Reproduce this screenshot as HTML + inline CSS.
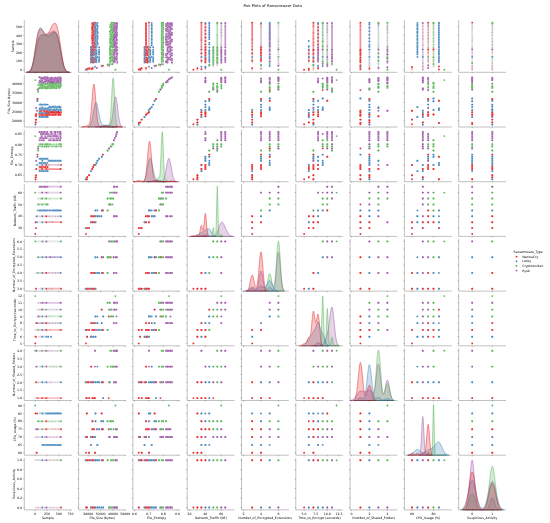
<!DOCTYPE html><html><head><meta charset="utf-8"><title>Pair Plots of Ransomware Data</title><style>html,body{margin:0;padding:0;background:#fff}svg{display:block}</style></head><body><svg width="550" height="523" viewBox="0 0 550 523"><defs><marker id="q00" markerUnits="userSpaceOnUse" overflow="visible"><circle r="0.949" fill="#e41a1c" stroke="#fff" stroke-width="0.15"/></marker><marker id="q01" markerUnits="userSpaceOnUse" overflow="visible"><circle r="0.984" fill="#e41a1c" stroke="#fff" stroke-width="0.22"/></marker><marker id="q02" markerUnits="userSpaceOnUse" overflow="visible"><circle r="1.024" fill="#e41a1c" stroke="#fff" stroke-width="0.3"/></marker><marker id="q03" markerUnits="userSpaceOnUse" overflow="visible"><circle r="1.064" fill="#e41a1c" stroke="#fff" stroke-width="0.38"/></marker><marker id="q04" markerUnits="userSpaceOnUse" overflow="visible"><circle r="1.104" fill="#e41a1c" stroke="#fff" stroke-width="0.46"/></marker><marker id="q05" markerUnits="userSpaceOnUse" overflow="visible"><circle r="0.95" fill="#e41a1c" stroke="#fff" stroke-width="0.152"/><circle r="0.95" fill="#e41a1c" stroke="#fff" stroke-width="0.152"/></marker><marker id="q10" markerUnits="userSpaceOnUse" overflow="visible"><circle r="0.949" fill="#377eb8" stroke="#fff" stroke-width="0.15"/></marker><marker id="q11" markerUnits="userSpaceOnUse" overflow="visible"><circle r="0.984" fill="#377eb8" stroke="#fff" stroke-width="0.22"/></marker><marker id="q12" markerUnits="userSpaceOnUse" overflow="visible"><circle r="1.024" fill="#377eb8" stroke="#fff" stroke-width="0.3"/></marker><marker id="q13" markerUnits="userSpaceOnUse" overflow="visible"><circle r="1.064" fill="#377eb8" stroke="#fff" stroke-width="0.38"/></marker><marker id="q14" markerUnits="userSpaceOnUse" overflow="visible"><circle r="1.104" fill="#377eb8" stroke="#fff" stroke-width="0.46"/></marker><marker id="q15" markerUnits="userSpaceOnUse" overflow="visible"><circle r="0.95" fill="#377eb8" stroke="#fff" stroke-width="0.152"/><circle r="0.95" fill="#377eb8" stroke="#fff" stroke-width="0.152"/></marker><marker id="q20" markerUnits="userSpaceOnUse" overflow="visible"><circle r="0.949" fill="#4daf4a" stroke="#fff" stroke-width="0.15"/></marker><marker id="q21" markerUnits="userSpaceOnUse" overflow="visible"><circle r="0.984" fill="#4daf4a" stroke="#fff" stroke-width="0.22"/></marker><marker id="q22" markerUnits="userSpaceOnUse" overflow="visible"><circle r="1.024" fill="#4daf4a" stroke="#fff" stroke-width="0.3"/></marker><marker id="q23" markerUnits="userSpaceOnUse" overflow="visible"><circle r="1.064" fill="#4daf4a" stroke="#fff" stroke-width="0.38"/></marker><marker id="q24" markerUnits="userSpaceOnUse" overflow="visible"><circle r="1.104" fill="#4daf4a" stroke="#fff" stroke-width="0.46"/></marker><marker id="q25" markerUnits="userSpaceOnUse" overflow="visible"><circle r="0.95" fill="#4daf4a" stroke="#fff" stroke-width="0.152"/><circle r="0.95" fill="#4daf4a" stroke="#fff" stroke-width="0.152"/></marker><marker id="q30" markerUnits="userSpaceOnUse" overflow="visible"><circle r="0.949" fill="#984ea3" stroke="#fff" stroke-width="0.15"/></marker><marker id="q31" markerUnits="userSpaceOnUse" overflow="visible"><circle r="0.984" fill="#984ea3" stroke="#fff" stroke-width="0.22"/></marker><marker id="q32" markerUnits="userSpaceOnUse" overflow="visible"><circle r="1.024" fill="#984ea3" stroke="#fff" stroke-width="0.3"/></marker><marker id="q33" markerUnits="userSpaceOnUse" overflow="visible"><circle r="1.064" fill="#984ea3" stroke="#fff" stroke-width="0.38"/></marker><marker id="q34" markerUnits="userSpaceOnUse" overflow="visible"><circle r="1.104" fill="#984ea3" stroke="#fff" stroke-width="0.46"/></marker><marker id="q35" markerUnits="userSpaceOnUse" overflow="visible"><circle r="0.95" fill="#984ea3" stroke="#fff" stroke-width="0.152"/><circle r="0.95" fill="#984ea3" stroke="#fff" stroke-width="0.152"/></marker></defs><style>text{font-family:"DejaVu Sans","Liberation Sans",sans-serif;font-size:3.165px;fill:#000}
.ax{stroke:#000;stroke-width:0.253;fill:none}
.m00{marker:url(#q00)}
.m01{marker:url(#q01)}
.m02{marker:url(#q02)}
.m03{marker:url(#q03)}
.m04{marker:url(#q04)}
.m05{marker:url(#q05)}
.m10{marker:url(#q10)}
.m11{marker:url(#q11)}
.m12{marker:url(#q12)}
.m13{marker:url(#q13)}
.m14{marker:url(#q14)}
.m15{marker:url(#q15)}
.m20{marker:url(#q20)}
.m21{marker:url(#q21)}
.m22{marker:url(#q22)}
.m23{marker:url(#q23)}
.m24{marker:url(#q24)}
.m25{marker:url(#q25)}
.m30{marker:url(#q30)}
.m31{marker:url(#q31)}
.m32{marker:url(#q32)}
.m33{marker:url(#q33)}
.m34{marker:url(#q34)}
.m35{marker:url(#q35)}
.k0{fill:#e41a1c;fill-opacity:.25;stroke:#e41a1c;stroke-width:0.45}
.k1{fill:#377eb8;fill-opacity:.25;stroke:#377eb8;stroke-width:0.45}
.k2{fill:#4daf4a;fill-opacity:.25;stroke:#4daf4a;stroke-width:0.45}
.k3{fill:#984ea3;fill-opacity:.25;stroke:#984ea3;stroke-width:0.45}
.t{fill:none;stroke-width:1.75;stroke-linecap:round}
path[class^=m]{fill:none;stroke:none}</style><rect width="550" height="523" fill="#fff"/><path class="k3" d="M26.71 72.3 26.71 72.25 27.57 72.17 28.43 71.98 29.07 71.73 29.72 71.31 30.37 70.66 30.8 70.06 31.44 68.86 31.87 67.83 32.3 66.6 32.73 65.17 33.59 61.71 34.45 57.61 36.39 47.77 37.47 43.14 37.9 41.61 38.54 39.7 39.19 38.22 39.83 37.12 40.26 36.57 40.91 35.95 41.55 35.52 42.2 35.21 43.49 34.8 46.5 34.07 48.01 33.63 49.51 33.05 52.53 31.61 53.39 31.35 54.03 31.3 54.68 31.43 55.11 31.64 55.75 32.2 56.18 32.76 56.61 33.49 57.04 34.42 57.47 35.56 57.9 36.92 58.55 39.37 59.41 43.37 61.78 56.57 62.64 61.02 63.28 63.89 63.71 65.54 64.14 66.96 64.57 68.16 65 69.15 65.44 69.95 65.87 70.58 66.51 71.26 67.16 71.7 67.8 71.97 68.66 72.16 69.52 72.25 69.52 72.3Z"/><path class="k2" d="M26.71 72.3 26.71 72.25 28 72.1 28.64 71.93 29.29 71.63 29.93 71.16 30.58 70.44 31.01 69.78 31.66 68.46 32.09 67.34 32.52 66.02 32.95 64.48 33.81 60.81 34.45 57.63 36.39 47.38 37.47 42.45 38.11 40.07 38.54 38.76 39.19 37.21 39.83 36.11 40.26 35.6 40.69 35.24 41.12 35.01 41.77 34.83 42.2 34.8 42.84 34.84 45.21 35.21 46.5 35.31 47.58 35.28 48.65 35.08 49.3 34.86 50.16 34.44 52.31 33.02 52.96 32.64 53.6 32.38 54.25 32.3 54.68 32.38 54.89 32.47 55.32 32.75 55.75 33.18 56.18 33.8 56.61 34.6 57.04 35.6 57.47 36.82 57.9 38.25 58.55 40.79 59.41 44.83 61.56 56.53 62.42 60.88 63.07 63.71 63.5 65.34 63.93 66.77 64.36 67.98 64.79 68.99 65.22 69.81 65.65 70.46 66.3 71.18 66.94 71.64 67.59 71.93 68.23 72.11 69.52 72.25 69.52 72.3Z"/><path class="k1" d="M26.71 72.3 26.71 72.24 28 72.07 28.64 71.86 29.29 71.51 29.93 70.94 30.58 70.07 31.01 69.28 31.44 68.28 31.87 67.04 32.3 65.55 32.73 63.81 33.59 59.52 34.45 54.34 36.6 40.1 37.25 36.36 37.68 34.18 38.33 31.5 38.97 29.55 39.19 29.07 39.62 28.34 40.05 27.93 40.26 27.83 40.48 27.8 40.69 27.83 41.12 28.06 41.55 28.48 41.98 29.05 42.63 30.11 44.35 33.27 45 34.3 45.43 34.89 45.86 35.39 46.29 35.78 46.72 36.07 47.15 36.26 47.58 36.34 48.01 36.33 48.44 36.23 49.08 35.92 49.51 35.63 50.16 35.1 52.53 32.86 53.17 32.39 53.82 32.09 54.46 32.01 54.89 32.11 55.11 32.21 55.54 32.53 55.75 32.75 56.18 33.33 56.83 34.56 57.47 36.26 57.9 37.67 58.55 40.19 59.63 45.35 61.56 56.08 62.42 60.53 63.28 64.3 63.71 65.88 64.14 67.24 64.57 68.38 65.22 69.72 65.65 70.4 66.3 71.14 66.94 71.62 67.59 71.92 68.23 72.1 69.52 72.25 69.52 72.3Z"/><path class="k0" d="M26.71 72.3 26.71 72.24 28 72.06 28.64 71.84 29.29 71.48 29.93 70.9 30.58 70 31.01 69.19 31.66 67.57 32.09 66.2 32.52 64.57 32.95 62.68 33.81 58.18 34.45 54.28 36.17 43.16 37.25 37.04 37.9 34.11 38.33 32.52 38.76 31.24 39.19 30.27 39.62 29.59 40.05 29.19 40.48 29.04 40.69 29.04 41.12 29.2 41.55 29.53 41.98 29.98 42.63 30.82 44.13 32.96 45 33.92 45.64 34.37 46.07 34.51 46.5 34.52 46.93 34.38 47.36 34.11 47.79 33.71 48.22 33.18 48.87 32.19 49.73 30.57 51.67 26.54 52.31 25.33 52.74 24.63 53.39 23.79 53.82 23.4 54.25 23.16 54.68 23.1 55.11 23.23 55.54 23.58 55.97 24.16 56.4 24.98 56.83 26.06 57.26 27.41 57.9 29.96 58.55 33.11 59.41 38.13 61.78 54.09 62.64 59.32 63.5 63.65 63.93 65.42 64.36 66.93 64.79 68.18 65.22 69.2 65.65 70.01 66.3 70.9 66.94 71.48 67.59 71.85 68.23 72.06 69.52 72.24 69.52 72.3Z"/><path class="k3" d="M95.27 127 96.75 126.92 97.83 126.77 98.77 126.54 100.66 125.95 101.47 125.8 102.27 125.78 104.16 126.03 104.97 126.05 105.64 125.96 107.39 125.58 109.01 125.4 109.41 125.29 109.81 125.06 110.08 124.81 110.35 124.45 110.76 123.67 111.16 122.52 111.56 120.93 111.83 119.61 112.24 117.23 112.64 114.41 113.85 104.63 114.39 100.76 114.66 99.22 114.93 98.03 115.2 97.25 115.33 97.02 115.47 96.91 115.6 96.91 115.74 97.03 116.01 97.6 116.28 98.6 116.55 99.98 117.08 103.64 118.7 116.54 119.24 119.92 119.64 121.92 120.05 123.48 120.58 124.96 120.85 125.48 121.26 126.05 121.66 126.43 122.07 126.67 122.07 127Z"/><path class="k2" d="M99.83 127 100.81 126.94 101.52 126.82 102.15 126.64 103.84 126.01 104.47 125.91 105.54 125.89 105.98 125.84 107.5 125.35 108.48 125.11 108.84 124.89 109.11 124.55 109.38 123.97 109.55 123.4 109.82 122.18 110.09 120.42 110.36 118.02 110.63 114.91 111.16 106.55 112.05 89.3 112.41 83.39 112.77 79.37 112.95 78.29 113.04 78 113.12 77.9 113.21 77.97 113.3 78.21 113.48 79.22 113.84 83.12 114.2 88.97 115.27 109.5 115.62 114.97 115.89 118.25 116.25 121.56 116.61 123.81 116.78 124.61 117.05 125.49 117.32 126.08 117.59 126.45 117.59 127Z"/><path class="k1" d="M88.32 127 88.32 126.8 88.9 126.58 89.34 126.31 89.78 125.91 90.07 125.54 90.65 124.5 91.23 122.96 91.81 120.85 92.39 118.16 94.14 108.27 94.72 105.42 95.16 103.83 95.45 103.09 95.74 102.64 95.89 102.52 96.03 102.49 96.18 102.53 96.32 102.64 96.61 103.09 96.9 103.82 97.34 105.37 97.92 108.07 99.52 116.65 99.96 118.7 100.39 120.47 100.83 121.93 101.27 123.08 101.7 123.93 102.14 124.52 102.43 124.79 102.72 124.98 103.3 125.18 103.74 125.23 105.49 125.26 107.67 125.53 110.28 125.68 111.3 125.88 113.34 126.5 114.36 126.75 115.52 126.91 117.27 127Z"/><path class="k0" d="M81.48 127 82.72 126.92 83.76 126.77 84.59 126.53 86.25 125.93 87.7 125.61 88.11 125.48 88.53 125.21 88.94 124.7 89.36 123.78 89.57 123.12 89.98 121.28 90.19 120.07 90.81 115.08 91.43 108.12 92.68 91.89 93.09 87.66 93.3 86.09 93.51 84.94 93.71 84.28 93.92 84.1 94.13 84.44 94.34 85.26 94.54 86.54 94.96 90.32 95.37 95.27 96.41 109.04 96.82 113.82 97.24 117.78 97.65 120.84 98.07 123.08 98.48 124.61 98.69 125.16 99.11 125.94 99.31 126.2 99.73 126.53 99.94 126.62 100.35 126.71 100.77 126.71 101.18 126.65 101.8 126.47 103.25 125.96 103.88 125.83 104.29 125.8 104.71 125.83 105.33 125.97 106.99 126.56 107.61 126.74 108.23 126.86 109.06 126.95 111.14 126.99 113 126.91 114.04 126.76 116.11 126.28 116.94 126.2 117.98 126.3 119.85 126.73 120.68 126.87 122.75 127Z"/><path class="k3" d="M147.36 181.7 148.95 181.62 150.11 181.49 151.12 181.28 153.43 180.64 154 180.54 154.58 180.5 155.16 180.53 155.88 180.66 157.9 181.23 158.91 181.45 159.92 181.57 160.79 181.56 161.36 181.48 161.94 181.29 162.38 181.05 162.81 180.67 163.39 179.88 163.82 179.02 164.25 177.87 164.68 176.4 165.12 174.6 165.55 172.49 166.99 164.31 167.57 161.41 168 159.76 168.29 158.99 168.58 158.53 168.73 158.43 168.87 158.4 169.02 158.46 169.16 158.6 169.45 159.12 169.74 159.94 170.03 161.04 170.6 163.84 172.34 173.51 172.91 176.07 173.35 177.6 173.92 179.15 174.5 180.2 174.79 180.58 175.22 180.99 175.66 181.26 176.09 181.44 176.09 181.7Z"/><path class="k2" d="M155.03 181.7 155.03 181.66 155.46 181.57 155.82 181.4 156.33 180.94 156.84 180.12 157.7 178.31 158.07 177.78 158.21 177.66 158.43 177.57 159.08 177.61 159.3 177.43 159.44 177.14 159.59 176.66 159.8 175.47 160.17 171.84 160.53 165.74 161.47 142.05 161.76 135.89 161.98 132.88 162.12 131.83 162.19 131.61 162.27 131.62 162.41 132.25 162.7 135.91 162.99 142.09 163.64 159.35 164 167.57 164.36 173.47 164.73 177.08 164.87 178 165.09 178.94 165.31 179.5 165.52 179.8 165.74 179.95 166.61 180.32 167.62 181.11 168.13 181.42 168.64 181.59 169.43 181.7Z"/><path class="k1" d="M142.82 181.7 142.82 181.5 143.27 181.33 143.73 181.05 144.07 180.73 144.41 180.29 144.98 179.22 145.43 177.98 145.88 176.36 146.45 173.78 148.15 164.04 148.72 161.23 149.06 159.91 149.4 158.95 149.74 158.37 149.85 158.27 150.08 158.2 150.31 158.3 150.65 158.77 150.99 159.58 151.33 160.68 152.01 163.56 153.48 170.97 154.28 174.52 154.73 176.18 155.07 177.22 155.41 178.07 155.86 178.93 156.09 179.26 156.43 179.62 156.77 179.86 157.11 180 157.57 180.09 158.81 180.13 159.38 180.2 160.17 180.42 161.88 181.11 162.78 181.4 163.8 181.58 165.39 181.7Z"/><path class="k0" d="M132.93 181.7 134.28 181.62 135.18 181.48 136.08 181.24 137.88 180.62 138.78 180.5 139.68 180.62 141.93 181.35 142.61 181.44 143.06 181.41 143.51 181.27 143.96 180.94 144.41 180.32 144.63 179.87 145.09 178.55 145.31 177.64 145.76 175.23 145.99 173.69 146.44 169.89 146.89 165.19 148.01 151.45 148.46 146.57 148.91 143.02 149.14 141.91 149.36 141.3 149.59 141.23 149.81 141.69 150.04 142.66 150.49 145.98 150.94 150.7 152.29 166.81 152.96 172.88 153.19 174.42 153.64 176.81 154.09 178.38 154.54 179.34 154.99 179.87 155.22 180.03 155.67 180.24 157.02 180.61 159.04 181.33 159.72 181.49 160.62 181.62 163.09 181.7 166.02 181.69 167.37 181.64 168.72 181.48 170.97 180.98 171.87 180.9 172.77 180.98 175.48 181.56 176.38 181.64 177.73 181.7Z"/><path class="k3" d="M197.47 236.4 199.26 236.3 200.52 236.12 201.6 235.86 203.93 235.11 204.64 234.95 205.18 234.9 205.72 234.91 206.44 235.02 209.48 235.96 210.38 236.16 211.28 236.27 212.35 236.32 213.43 236.24 214.14 236.08 214.86 235.76 215.4 235.37 215.94 234.81 216.47 234.04 216.83 233.39 217.37 232.21 217.91 230.82 219.52 225.95 220.24 224.04 220.78 222.96 221.14 222.46 221.49 222.15 221.85 222.04 222.21 222.11 222.57 222.36 222.93 222.76 223.47 223.59 224.18 225.01 226.15 229.44 227.05 231.31 227.95 232.93 228.84 234.23 229.74 235.16 230.1 235.44 230.64 235.76 231.53 236.1 232.25 236.25 233.15 236.34 233.15 236.4Z"/><path class="k2" d="M211.41 236.4 211.41 236.3 211.64 236.12 211.82 235.83 212.12 234.88 212.41 233.11 213.01 228.42 213.18 227.6 213.3 227.4 213.36 227.42 213.48 227.69 213.66 228.59 214.19 232.88 214.49 234.72 214.78 235.74 214.9 235.95 215.08 236.09 215.26 236.02 215.43 235.67 215.61 234.88 215.73 233.97 215.97 230.76 216.2 224.94 216.97 192.26 217.15 187.44 217.27 186.15 217.33 186.15 217.45 187.44 217.63 192.26 218.22 218.59 218.45 226.67 218.69 231.77 218.93 234.48 219.17 235.7 219.34 236.09 219.52 236.24 219.82 236.24 220.11 236.03 220.41 235.62 220.94 234.66 221.12 234.46 221.3 234.4 221.42 234.44 221.59 234.63 222.19 235.67 222.48 236.06 222.78 236.27 223.19 236.4Z"/><path class="k1" d="M191.42 236.4 193.1 236.3 194.42 236.06 195.74 235.64 197.9 234.77 198.98 234.18 201.02 232.79 202.94 231.74 204.63 230.51 205.23 230.12 206.91 229.32 208.11 228.68 208.71 228.53 209.07 228.58 209.43 228.79 209.67 229.02 210.03 229.49 210.63 230.58 212.07 233.65 212.55 234.49 213.03 235.14 213.51 235.62 213.99 235.94 214.59 236.18 215.31 236.32 215.31 236.4Z"/><path class="k0" d="M190.07 236.4 191.38 236.29 192.78 235.89 193.25 235.8 193.81 235.83 194.75 236.02 195.22 236.02 195.78 235.81 196.81 235.08 197.18 234.91 197.65 234.9 198.4 235.09 198.68 235.04 198.87 234.9 199.06 234.64 199.24 234.25 199.52 233.38 199.9 231.7 200.83 226.6 201.12 225.67 201.3 225.39 201.4 225.36 201.49 225.4 201.58 225.52 201.77 225.94 202.52 229.01 202.8 229.89 202.99 230.13 203.08 230.12 203.18 230.02 203.36 229.5 203.64 227.94 203.92 225.51 204.86 215.47 205.14 213.78 205.24 213.51 205.33 213.39 205.42 213.43 205.61 213.98 205.89 215.9 206.92 227.82 207.39 232.04 207.67 233.73 207.95 234.87 208.33 235.74 208.7 236.14 208.7 236.4Z"/><path class="k3" d="M246.47 291.1 246.47 291.07 247.23 291 247.8 290.89 248.37 290.7 248.75 290.52 249.51 290.01 251.21 288.5 251.59 288.26 251.97 288.13 252.35 288.1 252.92 288.28 253.48 288.66 254.62 289.63 255 289.88 255.38 290.02 255.76 290.04 255.95 289.98 256.33 289.71 256.52 289.48 256.89 288.82 257.08 288.37 257.65 286.52 258.03 284.83 258.41 282.81 259.55 275.85 259.93 273.81 260.3 272.24 260.49 271.68 260.68 271.31 260.87 271.12 261.06 271.13 261.25 271.33 261.44 271.71 261.82 273 262.39 275.92 263.34 281.77 263.9 284.88 264.47 287.24 264.85 288.36 265.23 289.14 265.42 289.41 265.8 289.75 266.18 289.85 266.56 289.76 267.12 289.34 268.45 287.84 268.83 287.48 269.4 287.14 269.78 287.1 270.16 287.21 270.53 287.46 270.91 287.82 271.86 288.88 272.43 289.35 272.81 289.48 273 289.47 273.19 289.38 273.38 289.22 273.76 288.63 273.94 288.16 274.32 286.86 274.7 284.96 275.08 282.39 275.46 279.12 275.84 275.22 276.98 261.65 277.54 255.91 277.92 253.36 278.11 252.58 278.3 252.17 278.49 252.13 278.68 252.47 278.87 253.18 279.06 254.24 279.44 257.27 279.82 261.23 281.14 276.89 281.52 280.58 281.9 283.6 282.28 285.96 282.47 286.91 282.85 288.39 283.04 288.95 283.42 289.79 283.8 290.33 284.17 290.67 284.17 291.1Z"/><path class="k2" d="M263.93 291.1 263.93 290.91 264.34 290.74 264.64 290.55 264.95 290.27 265.25 289.89 265.76 288.94 266.17 287.85 266.57 286.41 266.98 284.63 268.3 277.61 268.71 275.73 269.02 274.64 269.22 274.11 269.42 273.77 269.63 273.61 269.83 273.64 270.03 273.88 270.24 274.29 270.54 275.23 271.05 277.46 272.27 283.72 272.58 284.96 272.88 285.93 273.19 286.55 273.39 286.75 273.49 286.77 273.7 286.68 273.8 286.56 274.1 285.84 274.41 284.59 274.71 282.74 275.22 278.29 275.83 270.77 276.95 253.7 277.46 246.91 277.77 243.88 277.97 242.43 278.17 241.5 278.27 241.23 278.38 241.11 278.48 241.13 278.58 241.28 278.68 241.58 278.88 242.57 279.09 244.08 279.39 247.18 279.8 252.55 281.12 272.6 281.53 277.69 281.94 281.8 282.34 284.94 282.85 287.64 283.16 288.73 283.46 289.52 283.77 290.07 284.17 290.54 284.17 291.1Z"/><path class="k1" d="M244.38 291.1 244.38 291.06 245.38 290.97 246.21 290.82 246.88 290.61 247.55 290.29 248.55 289.62 250.71 287.72 251.38 287.3 251.88 287.12 252.38 287.08 253.05 287.24 253.71 287.58 255.21 288.56 255.71 288.77 256.21 288.87 256.71 288.83 257.38 288.56 258.04 288.07 259.71 286.56 260.21 286.25 260.71 286.07 261.21 286.05 261.71 286.19 262.21 286.45 263.38 287.25 263.88 287.5 264.38 287.6 264.88 287.49 265.21 287.28 265.54 286.96 266.21 286 266.71 285.05 268.04 282.19 268.54 281.3 268.88 280.85 269.21 280.54 269.54 280.39 269.71 280.38 270.04 280.49 270.38 280.76 270.71 281.18 271.04 281.74 271.71 283.16 273.38 287.13 274.04 288.42 274.54 289.18 275.04 289.78 275.71 290.34 276.54 290.75 277.54 290.98 277.54 291.1Z"/><path class="k0" d="M246.47 291.1 246.47 290.92 246.88 290.77 247.19 290.6 247.49 290.35 247.8 290 248.31 289.14 248.71 288.14 249.12 286.83 249.53 285.22 250.85 278.84 251.26 277.13 251.56 276.15 251.76 275.67 251.97 275.35 252.17 275.21 252.38 275.24 252.58 275.45 252.78 275.83 253.09 276.69 253.6 278.71 254.82 284.43 255.12 285.59 255.43 286.5 255.63 286.94 255.83 287.25 256.04 287.4 256.14 287.42 256.34 287.32 256.44 287.2 256.75 286.56 257.06 285.47 257.36 283.89 257.67 281.82 257.97 279.26 258.48 274.01 259.6 260.61 260.11 255.58 260.51 252.94 260.72 252.21 260.82 252.01 260.92 251.91 261.02 251.92 261.13 252.04 261.23 252.27 261.43 253.05 261.63 254.23 261.94 256.67 262.35 260.88 263.67 276.6 264.08 280.58 264.48 283.81 264.89 286.27 265.4 288.39 265.7 289.24 266.01 289.86 266.31 290.3 266.72 290.66 266.72 291.1Z"/><path class="k3" d="M311.37 345.8 311.37 345.77 312.19 345.71 312.88 345.6 313.42 345.45 313.97 345.24 314.93 344.67 316.86 343.2 317.27 342.98 317.68 342.84 318.23 342.81 318.78 342.95 319.33 343.24 320.56 344.13 321.11 344.47 321.66 344.68 322.07 344.72 322.62 344.58 323.17 344.18 323.58 343.71 324.13 342.82 324.96 341.01 326.06 337.94 327.02 334.76 327.7 331.97 328.25 329.19 328.8 325.77 330.31 314.06 330.86 310.27 331.14 308.82 331.41 307.76 331.68 307.16 331.82 307.04 331.96 307.06 332.1 307.21 332.37 307.9 332.65 309.09 333.06 311.75 333.61 316.52 335.12 331.58 335.67 336.03 336.08 338.72 336.63 341.42 337.18 343.25 337.45 343.9 337.86 344.61 338.27 345.08 338.69 345.38 338.69 345.8Z"/><path class="k2" d="M320.19 345.8 320.19 345.25 320.48 344.34 320.76 342.39 320.96 340.17 321.15 336.97 321.53 327.21 322.29 301.63 322.48 297.64 322.57 296.48 322.67 295.94 322.77 296.04 322.86 296.79 323.15 302.46 323.81 325.14 324.19 335.61 324.48 340.48 324.67 342.45 324.86 343.57 324.96 343.86 325.05 343.98 325.15 343.94 325.34 343.38 325.53 342.15 325.81 338.83 326.19 331.39 326.96 312.38 327.15 309.56 327.24 308.8 327.34 308.5 327.43 308.69 327.53 309.35 327.81 313.85 328.48 330.88 328.86 338.54 329.15 342.09 329.34 343.54 329.53 344.44 329.72 344.92 329.91 345.08 330.1 344.99 330.39 344.43 330.77 342.93 331.62 338.18 331.82 337.59 331.91 337.44 332.01 337.4 332.1 337.47 332.2 337.64 332.39 338.27 333.15 342.56 333.43 343.89 333.72 344.8 334.01 345.33 334.2 345.52 334.39 345.63 334.58 345.68 334.86 345.67 335.34 345.5 336.29 344.88 336.67 344.8 337.05 344.91 337.82 345.43 338.2 345.62 338.58 345.73 339.15 345.8Z"/><path class="k1" d="M302.49 345.8 302.49 345.73 303.42 345.57 304.09 345.31 304.62 344.96 305.15 344.44 305.95 343.35 307.55 340.5 308.21 339.46 308.88 338.66 310.08 337.49 310.61 336.8 311.27 335.64 312.47 333.08 313 332.07 313.54 331.25 314.47 330.05 315 329.17 315.67 327.59 317.13 323.1 317.4 322.52 317.66 322.12 317.93 321.94 318.06 321.94 318.2 321.99 318.46 322.28 318.86 323.12 319.39 324.81 320.46 328.76 320.99 330.41 321.52 331.7 322.72 333.97 323.39 335.46 323.92 336.92 325.25 340.98 326.05 343 326.58 344 326.85 344.39 327.24 344.85 327.91 345.35 328.44 345.57 328.98 345.69 328.98 345.8Z"/><path class="k0" d="M299.24 345.8 300.31 345.67 301.14 345.42 301.86 345.04 303.05 344.17 303.53 343.88 304.12 343.66 305.19 343.47 305.55 343.31 305.79 343.12 306.14 342.69 306.62 341.82 307.81 338.82 308.29 337.82 308.76 337.19 309.48 336.7 309.72 336.48 310.07 335.87 310.31 335.17 310.55 334.18 311.03 331.14 311.5 326.75 312.46 316.48 312.81 313.48 313.17 311.62 313.29 311.3 313.41 311.14 313.53 311.14 313.65 311.29 313.77 311.58 314.12 313.22 314.96 319.13 315.31 321.19 315.55 322.05 315.67 322.29 315.79 322.41 315.91 322.39 316.03 322.25 316.15 321.99 316.39 321.14 317.34 315.84 317.58 314.84 317.81 314.27 317.93 314.18 318.05 314.22 318.17 314.41 318.29 314.74 318.65 316.6 319.01 319.56 320.32 333.98 320.67 337.3 321.03 339.97 321.39 341.99 321.86 343.8 322.1 344.39 322.34 344.83 322.58 345.15 322.93 345.46 322.93 345.8Z"/><path class="k3" d="M349.6 400.5 349.6 400.4 350.93 400.22 352.04 399.89 352.93 399.45 353.82 398.8 354.49 398.15 355.38 397.08 357.83 393.46 358.5 392.57 358.94 392.06 359.39 391.64 359.83 391.32 360.28 391.1 360.72 390.99 361.39 390.99 362.06 391.16 363.62 391.71 364.29 391.83 364.73 391.82 365.18 391.74 365.84 391.49 367.62 390.44 368.07 390.23 368.74 390.05 369.18 390.05 369.63 390.17 370.3 390.57 370.96 391.18 372.08 392.37 372.52 392.71 372.74 392.81 372.97 392.84 373.19 392.78 373.41 392.61 373.63 392.33 373.86 391.91 374.3 390.6 374.75 388.58 374.97 387.3 375.64 382.41 377.2 368.75 377.64 365.95 377.86 364.98 378.09 364.34 378.31 364.06 378.53 364.16 378.75 364.62 378.98 365.44 379.42 368.04 379.87 371.67 380.98 382.5 381.65 388.21 382.09 391.1 382.31 392.21 382.54 393.09 382.76 393.74 382.98 394.16 383.21 394.35 383.43 394.32 383.65 394.09 383.87 393.65 384.1 393.04 384.32 392.27 384.76 390.33 385.88 384.46 386.32 382.39 386.77 380.86 386.99 380.37 387.21 380.07 387.43 380 387.66 380.13 387.88 380.48 388.1 381.03 388.55 382.66 388.99 384.84 390.55 393.38 391 395.34 391.44 396.91 391.89 398.11 392.33 398.97 392.55 399.3 393 399.78 393.44 400.09 393.89 400.27 393.89 400.5Z"/><path class="k2" d="M371.92 400.5 371.92 399.94 372.36 399.49 372.7 398.96 373.03 398.22 373.36 397.21 373.91 394.71 374.35 391.83 374.79 388.04 375.34 382.01 376.78 362.52 377.33 355.95 377.66 352.98 377.88 351.54 378.1 350.58 378.21 350.29 378.32 350.13 378.44 350.1 378.55 350.2 378.66 350.44 378.88 351.28 379.1 352.62 379.43 355.44 379.87 360.42 381.08 376.91 381.64 383.55 381.97 386.85 382.3 389.53 382.63 391.58 382.96 393 383.18 393.61 383.4 393.98 383.62 394.11 383.84 394.02 384.18 393.52 384.62 392.31 385.06 390.65 386.05 386.44 386.49 384.91 386.82 384.08 387.05 383.72 387.27 383.53 387.49 383.5 387.71 383.66 387.93 383.98 388.15 384.47 388.48 385.47 389.03 387.69 390.47 394.26 390.91 395.93 391.35 397.28 391.79 398.33 392.34 399.25 392.67 399.63 393.01 399.91 393.45 400.16 393.89 400.31 393.89 400.5Z"/><path class="k1" d="M353.92 400.5 353.92 400.47 354.72 400.41 355.52 400.26 356.53 399.9 357.33 399.4 359.14 397.97 359.54 397.73 359.94 397.56 360.34 397.5 360.95 397.58 361.55 397.85 362.55 398.44 363.16 398.62 363.56 398.54 363.76 398.42 364.16 397.95 364.36 397.58 364.76 396.52 365.17 394.98 365.77 391.63 366.37 387.01 367.78 373.44 368.38 368.4 368.78 366.05 368.98 365.27 369.18 364.78 369.38 364.6 369.58 364.73 369.79 365.16 369.99 365.89 370.19 366.89 370.59 369.62 370.99 373.1 372.4 386.7 372.8 389.96 373.2 392.68 373.8 395.68 374.2 397.01 374.61 397.89 375.01 398.39 375.21 398.53 375.61 398.62 375.81 398.6 376.21 398.46 377.42 397.76 377.82 397.59 378.42 397.49 378.82 397.55 379.23 397.71 379.63 397.94 381.23 399.19 381.84 399.58 382.44 399.83 383.04 399.94 383.64 399.9 384.25 399.74 386.06 398.85 386.66 398.61 387.26 398.5 387.66 398.51 388.06 398.59 388.67 398.81 390.47 399.77 391.28 400.1 392.28 400.34 393.89 400.5Z"/><path class="k0" d="M353.92 400.5 353.92 400.08 354.36 399.74 354.69 399.34 355.02 398.78 355.35 398.02 355.9 396.14 356.35 393.96 356.79 391.1 357.34 386.56 358.77 371.86 359.33 366.91 359.66 364.67 359.88 363.59 360.1 362.86 360.21 362.64 360.32 362.52 360.43 362.5 360.54 362.58 360.65 362.75 360.87 363.39 361.09 364.4 361.31 365.74 361.86 370.28 363.08 382.68 363.63 387.65 363.96 390.1 364.29 392.08 364.62 393.56 364.96 394.55 365.18 394.94 365.29 395.06 365.51 395.16 365.62 395.14 365.84 394.97 366.17 394.43 366.72 392.89 367.94 388.26 368.49 386.47 368.82 385.73 369.04 385.4 369.26 385.22 369.37 385.19 369.59 385.25 369.81 385.47 370.03 385.84 370.25 386.34 370.59 387.33 371.03 388.97 372.46 394.89 372.9 396.38 373.34 397.61 373.79 398.55 374.34 399.37 374.67 399.72 375 399.97 375.44 400.19 375.88 400.33 375.88 400.5Z"/><path class="k3" d="M419.56 455.2 419.56 454.77 419.8 454.39 419.97 453.93 420.27 452.68 420.57 450.57 420.81 448.07 421.28 440.61 422.23 421.26 422.53 417.56 422.65 416.8 422.77 416.5 422.83 416.53 422.89 416.68 423 417.31 423.3 420.75 424.25 439.99 424.67 446.88 425.02 450.77 425.38 453.04 425.68 454.03 425.86 454.35 426.09 454.55 426.33 454.56 426.57 454.45 427.7 453.37 428 453.22 428.23 453.2 428.47 453.28 428.71 453.45 429.66 454.45 430.13 454.83 430.67 455.07 431.38 455.2Z"/><path class="k2" d="M426.22 455.2 426.22 455.17 426.62 455.02 426.93 454.72 427.23 454.14 427.83 452.56 428.03 452.26 428.13 452.2 428.23 452.22 428.43 452.46 429.04 454.01 429.34 454.64 429.54 454.9 429.84 455.1 430.24 455.18 430.84 455.19 431.15 455.15 431.35 455.04 431.55 454.76 431.65 454.49 431.85 453.52 432.05 451.59 432.15 450.1 432.35 445.73 432.65 435.23 433.26 409.04 433.46 404.95 433.56 404.64 433.66 405.55 433.86 410.68 434.46 437.27 434.66 444.3 434.96 450.89 435.16 453.14 435.37 454.31 435.47 454.64 435.67 454.99 435.87 455.13 436.07 455.18 442 455.2 442.6 455.17 443 455.06 443.3 454.88 444.01 454.29 444.31 454.2 444.61 454.32 445.21 454.85 445.51 455.04 445.82 455.14 446.22 455.2Z"/><path class="k1" d="M407.41 455.2 407.41 455.14 408.66 455.02 409.7 454.81 410.54 454.52 411.37 454.09 412 453.67 412.83 452.98 414.92 450.89 415.75 450.16 416.17 449.87 416.58 449.66 417.21 449.49 417.84 449.51 418.25 449.63 418.67 449.82 419.5 450.39 421.17 451.74 421.8 452.15 422.21 452.36 422.84 452.55 423.26 452.59 423.88 452.52 424.51 452.31 425.34 451.87 428.05 450.07 429.1 449.54 431.18 448.62 431.81 448.28 432.43 447.85 433.06 447.33 433.89 446.48 436.19 443.54 436.81 442.83 437.23 442.46 437.65 442.19 438.06 442.04 438.27 442.02 438.69 442.09 439.1 442.31 439.52 442.69 440.15 443.53 440.98 445.06 443.48 450.52 444.32 451.99 444.94 452.88 445.78 453.77 446.61 454.38 447.03 454.59 447.65 454.82 448.9 455.07 448.9 455.2Z"/><path class="k0" d="M407.84 455.2 408.83 455.06 409.44 454.84 410.06 454.46 411.29 453.46 411.66 453.27 411.9 453.21 412.15 453.21 412.52 453.31 412.89 453.53 414 454.35 414.37 454.52 414.74 454.57 415.11 454.51 415.48 454.33 416.58 453.51 416.95 453.3 417.32 453.2 417.57 453.21 417.82 453.28 418.19 453.48 419.42 454.38 419.79 454.53 420.16 454.57 420.4 454.53 420.77 454.38 422 453.48 422.5 453.23 422.99 453.19 423.85 453.44 424.1 453.46 424.34 453.38 424.59 453.14 424.96 452.34 425.21 451.42 425.45 450.11 425.7 448.38 426.19 443.57 427.42 428.19 427.79 425.23 428.04 424.31 428.16 424.2 428.29 424.33 428.53 425.29 428.9 428.29 430.13 443.79 430.5 447.62 430.75 449.64 431 451.26 431.36 452.97 431.61 453.74 431.86 454.27 432.1 454.62 432.35 454.86 432.35 455.2Z"/><path class="k3" d="M465.3 509.9 465.3 509.35 465.81 508.85 466.15 508.33 466.49 507.6 466.83 506.62 467.18 505.31 467.52 503.62 468.03 500.26 468.54 495.82 469.05 490.33 470.41 472.96 470.92 467.1 471.26 463.96 471.6 461.67 471.77 460.89 471.94 460.37 472.11 460.12 472.29 460.15 472.46 460.44 472.63 461.01 472.97 462.9 473.31 465.71 473.82 471.24 475.35 490.67 475.86 496.1 476.2 499.14 476.71 502.8 477.22 505.43 477.74 507.23 478.25 508.38 478.76 509.08 479.27 509.48 479.78 509.69 480.63 509.84 483.19 509.9 485.06 509.82 485.57 509.74 486.08 509.6 486.59 509.36 486.93 509.13 487.44 508.64 487.78 508.19 488.3 507.31 488.64 506.58 489.32 504.78 490.68 500.58 491.36 498.89 491.7 498.32 491.87 498.12 492.21 497.91 492.38 497.91 492.55 497.97 492.89 498.28 493.24 498.83 493.58 499.59 494.09 501 495.45 505.19 495.96 506.51 496.47 507.58 496.98 508.39 497.32 508.79 497.66 509.11 498.35 509.52 499.2 509.77 499.2 509.9Z"/><path class="k2" d="M463.13 509.9 463.13 509.72 463.7 509.59 464.28 509.37 464.86 509.05 465.24 508.75 465.63 508.37 466.01 507.9 466.59 507 467.16 505.84 467.93 503.89 469.85 497.88 470.62 495.73 471.01 494.89 471.39 494.25 471.78 493.85 471.97 493.74 472.16 493.7 472.35 493.72 472.74 493.97 473.12 494.46 473.51 495.18 474.27 497.15 476 502.62 476.77 504.79 477.35 506.15 477.73 506.91 478.12 507.55 478.69 508.31 479.08 508.7 479.46 509.01 480.23 509.42 481 509.63 481.96 509.69 482.73 509.58 483.5 509.27 484.08 508.84 484.65 508.15 485.23 507.12 485.8 505.63 486.38 503.57 486.96 500.86 487.53 497.44 488.11 493.35 490.03 477.12 490.8 471.44 491.19 469.24 491.57 467.6 491.76 467.02 491.95 466.61 492.15 466.37 492.34 466.3 492.53 466.41 492.72 466.7 493.11 467.78 493.49 469.5 493.88 471.77 494.64 477.54 496.57 493.74 497.33 498.97 497.91 502.09 498.49 504.52 498.87 505.78 499.26 506.8 499.64 507.61 500.22 508.48 500.79 509.06 501.37 509.42 501.37 509.9Z"/><path class="k1" d="M460.89 509.9 460.89 509.57 461.75 509.26 462.4 508.89 463.04 508.35 463.47 507.87 463.9 507.28 464.33 506.55 464.76 505.68 465.19 504.65 466.04 502.08 466.9 498.84 467.55 496.05 469.48 487.04 470.34 483.66 470.98 481.78 471.41 480.92 471.63 480.63 471.84 480.42 472.05 480.32 472.27 480.31 472.48 480.39 472.7 480.57 473.13 481.21 473.56 482.2 474.2 484.25 475.06 487.78 477.21 497.73 477.85 500.34 478.49 502.6 479.14 504.46 479.78 505.92 480.43 507.01 481.07 507.74 481.5 508.05 481.71 508.16 482.14 508.26 482.57 508.24 482.79 508.18 483.22 507.96 483.86 507.36 484.29 506.79 484.72 506.05 485.15 505.15 485.58 504.08 486.01 502.84 486.86 499.86 487.72 496.3 489.65 487.62 490.51 484.39 491.16 482.62 491.59 481.83 491.8 481.56 492.01 481.39 492.23 481.31 492.44 481.32 492.66 481.42 492.87 481.62 493.3 482.27 493.73 483.26 494.16 484.55 495.02 487.82 496.95 496.51 497.6 499.22 498.45 502.34 499.31 504.82 499.74 505.82 500.17 506.66 500.6 507.37 501.03 507.94 501.46 508.41 502.1 508.93 502.75 509.29 503.6 509.58 503.6 509.9Z"/><path class="k0" d="M462.52 509.9 462.52 509.48 463.12 509.18 463.71 508.71 464.31 508 464.7 507.35 465.1 506.53 465.5 505.51 465.89 504.28 466.29 502.8 466.89 500.12 467.68 495.67 469.86 480.7 470.65 476.06 471.05 474.29 471.45 472.99 471.64 472.53 471.84 472.22 472.04 472.04 472.24 472.01 472.44 472.11 472.63 472.37 473.03 473.28 473.43 474.72 473.82 476.6 474.62 481.4 476.6 495.08 477.19 498.59 477.79 501.56 478.38 503.95 478.98 505.8 479.57 507.16 480.17 508.12 480.76 508.76 481.16 509.05 481.56 509.25 481.95 509.37 482.35 509.42 482.74 509.4 483.14 509.32 483.54 509.17 483.93 508.95 484.53 508.44 485.12 507.69 485.72 506.63 486.31 505.21 486.71 504.04 487.5 501.18 488.3 497.68 489.88 489.9 490.67 486.53 491.07 485.21 491.47 484.2 491.86 483.56 492.06 483.38 492.26 483.3 492.46 483.33 492.66 483.45 493.05 483.99 493.45 484.91 493.85 486.15 494.64 489.41 496.82 499.91 497.61 503.03 498.21 504.92 498.6 505.95 499 506.82 499.4 507.53 499.79 508.11 500.19 508.56 500.79 509.06 501.38 509.39 501.97 509.6 501.97 509.9Z"/><path class="t" d="M85.7 69.8V69.8M99.1 53V53M99.1 60.2V60.2M153.2 53V53M153.2 60.2V60.2M50.1 109.3H50.3M39.5 413.4H42M43.1 413.4H46" stroke="#3380b2" stroke-opacity=".40"/><path class="t" d="M86 69.7V69.7M91.3 68.8V69M146 67.9V69.2M261 68.8V69M313.4 26.2V29.1M313.4 29.5V32.3M313.4 38.9V41.8M318.1 67.9V69M360.4 26.2V29.1M360.4 57.5V59.8M39.4 169H42M43 169H45.9M60.1 169H60.3" stroke="#e61a1a" stroke-opacity=".40"/><path class="t" d="M87 69.2V69.9M89.1 69.3V69.3M92.5 30.3V30.9M92.6 40.7V41.6M92.8 31.2V31.2M93.6 23.8V23.8M93.6 29.7V29.7M93.6 32.4V32.4M93.6 42.7V42.7M94 24.8V27.2M94 28.3V30.7M94 35.2V37.6M94.4 41V41.1M140.2 69.2V69.2M146 26.8V27.8M146 30.3V31.2M146 33.7V34.7M146 37.2V38.2M146 40.7V41.6M146 44.1V45.1M201.4 23.1V26M201.4 26.6V29.5M201.4 30V33M201.4 33.5V36.4M201.4 36.9V39.9M252.2 23.1V25.7M252.2 26.2V29.1M252.2 29.7V32.6M252.2 33.1V36.1M252.2 36.6V39.5M308.8 69.2V69.2M313.4 62.2V62.2M318.1 52.9V53M318.1 60.1V60.3M48.1 112.1H50.5M54.7 112.1H57.6M51.5 112.8H52M39.2 113.4H41.8M43.2 113.4H45.7M50.6 114.5H52.5M48.8 114.8H49.3M39.2 167H39.8M40.9 167H41.5M43.2 167H43.7M44.9 167H45.4" stroke="#e61a1a" stroke-opacity=".57"/><path class="t" d="M88.7 68.4V69.1M146 60.8V62.2M360.4 49.6V52.5M360.4 53.6V55.6M360.4 60.8V62.6M412 67.2V69.7M472.2 69.4V69.7M35.7 120.2H36.1M52.5 222.2H55.4M55.6 222.2H58.4M58.7 222.2H60.7M52.4 288.7H55.3M55.6 288.7H58.4M58.7 288.7H60.7M59.5 329.9H60.7M43 398.1H45.9" stroke="#e61a1a" stroke-opacity=".33"/><path class="t" d="M90.9 52.7V52.7M90.9 60V60M95.2 27.1V27.1M95.2 34V34M95.5 25.3V25.3M95.4 28.8V29.5M95.5 34.7V35.7M95.3 37.5V38.2M95.5 46.1V46.1M95.9 42.3V42.7M97.2 40.3V40.3M144.5 52.7V52.7M144.5 60V60M151.7 26.5V26.5M151.7 29.9V29.9M151.7 33.4V33.4M151.7 36.9V36.9M151.7 40.3V40.3M151.7 43.8V43.8M417.4 26.5V26.5M417.4 29.9V29.9M417.4 33.4V33.4M417.4 36.9V36.9M417.4 40.3V40.3M417.4 43.8V43.8M417.4 52.7V52.7M52.9 109.6H53.5M58.6 109.6H59.1M40.8 109.9H41.7M47.1 109.9H48.8M54 110H54.4M59.5 109.9H60.1M48.4 110.5H49.1M54.8 110.5H54.8M39.2 116.9H39.2M43.2 116.9H43.2M47.1 116.9H47.1M39.2 171.1H39.2M43.2 171.1H43.2" stroke="#3380b2" stroke-opacity=".66"/><path class="t" d="M91.7 50.4V50.4M91.7 53.6V53.6M91.7 60.8V60.8M92.4 49.6V49.6M94.8 49.9V49.9M94.8 53V53M94.8 60.3V60.3M141.7 68.4V69.3M438.9 66.5V66.6M35.7 116.3H35.8M35.6 169H36.3M50.2 329.9H53.2M53.4 329.9H56.3M56.5 329.9H59.3M39.2 398.1H42M46.3 398.1H49.1M49.4 398.1H52.2M52.4 398.1H55.4M55.6 398.1H58.5M58.9 398.1H60.7" stroke="#e61a1a" stroke-opacity=".27"/><path class="t" d="M91.7 51.8V51.8M91.7 62.2V62.2M92.4 29.1V29.1M92.4 39.5V39.5M92.4 51V51M92.4 52.5V52.5M92.4 54.1V55.6M92.4 58.2V59.8M92.4 61.4V61.4M92.8 25.7V25.7M92.8 33.5V33.5M92.8 36.1V36.1M92.8 37.2V37.2M93.6 26V26M93.6 33.5V33.5M94.4 27.9V27.9M94.4 30.6V30.6M94.4 38.3V38.3M94.8 51.5V51.5M94.8 54.6V54.6M52.4 111.7H52.4M58.1 111.7H58.1M59.1 112.8H59.1M48 114H48M55.1 114H55.1" stroke="#e61a1a" stroke-opacity=".76"/><path class="t" d="M91.7 57.5V57.7M92.1 34.7V34.7M92.3 24V24.3M92.4 27.8V27.8M92.3 33.7V34.3M92.4 38.2V38.2M92.4 43.9V45.1M92.4 46.7V47.7M92.8 26.8V26.8M93.1 46.5V47.9M93.6 39.2V40.1M93.6 43.9V44.6M94 23.1V23.7M94 31.4V34.2M93.9 38.7V40.4M94 41.8V44.5M94.4 31.7V31.7M94.4 35.7V35.7M94.4 42.1V42.1M146 24V24.3M146 25.7V25.7M146 29.1V29.1M146 32.6V32.6M146 36.1V36.1M146 39.5V39.5M146 43V43M147.4 51.1V51.1M147.4 54.3V54.3M147.4 58.4V58.4M147.4 61.5V61.5M49.7 111.7H51M53.9 111.7H53.9M56 111.7H56.6M48.7 112.5H48.7M52.2 112.5H54.7M57.6 112.5H58.5M60 112.5H60M49 112.8H50M55.1 112.8H55.7M57.2 112.8H57.2M60.4 112.8H60.4M47.2 113.4H47.7M53 114H53.7M58.7 114H59.3M39.4 114.5H41.6M43 114.5H45.5M47.3 114.5H50.2M54 114.5H54.6M55.9 114.5H58.2M59.7 114.5H60.3M52.1 115.1H52.7M54.4 115H54.9M57.8 115.1H58.4M39.4 115.7H41.9M43.4 115.7H45.8M35.5 119.6H35.5M47.2 167H47.2" stroke="#e61a1a" stroke-opacity=".66"/><path class="t" d="M93.2 50.6V51.1M93.2 52.2V52.2M93.2 53.7V54.3M93.2 55.3V55.3M93.2 57.9V58.4M93.2 59.5V59.5M93.2 61V61.5M93.2 62.6V62.6M94.1 45.6V46.2M146 46.5V47.7M146 49.6V52.5M146 53.6V55.6M146 57.5V59.8M313.4 23.1V26M313.4 32.6V35.5M313.4 35.7V38.7M313.4 42.1V45.1M360.4 23.1V26M360.4 29.5V32.4M360.4 32.6V35.2M360.4 35.7V38.7M360.4 39.2V42.1M360.4 42.7V45.6M360.4 46.1V47.9M51.3 112.2H54.1M58.5 112.1H60.7M56.3 114H56.3M60.1 114.8H60.1M35.2 122.4H35.6M35.4 123H35.5M47.3 169H50.2M50.6 169H53.2M53.7 169H56.5M56.8 169H59.7M35.2 177.3H35.6M35.2 336.7H35.6" stroke="#e61a1a" stroke-opacity=".48"/><path class="t" d="M92.8 67.9V67.9M313.4 57.2V57.2M318.1 47.2V47.2M318.1 49.7V49.9M360.4 69.4V69.7M438.9 69.5V69.5M37.4 99H37.5M40.4 111.1H40.4M44.4 111.1H44.4M46.1 111.1H46.1M46.3 114.5H46.3M46.3 169H46.3M35.5 175.2H36.1M35.3 452.8H36.7" stroke="#e61a1a" stroke-opacity=".22"/><path class="t" d="M93.5 46.8V46.8M93.5 47.9V47.9M95.2 23.6V23.6M95.2 25V25M95.2 43.3V43.3M95.2 45.8V45.8M95.5 24.3V24.3M95.3 27.8V27.8M95.7 31.9V31.9M95.5 45.1V45.1M95.5 58.8V58.8M95.5 61.9V61.9M58.9 107.1H58.9M58.6 110.5H58.6M59.7 110.5H59.7M47.2 112.9H47.8" stroke="#3380b2" stroke-opacity=".76"/><path class="t" d="M93.5 51V51M93.5 54.1V54.1M93.5 58.2V58.2M93.5 61.4V61.4M95.3 39.2V39.2M95.9 32.3V32.3M438.9 47.5V48.1M438.9 50.2V52.4M438.9 53.4V55.5M438.9 57.5V59.6M53.2 107.1H53.2M57 107.4H57M55.7 109.5H55.9M39.6 109.9H39.6M43.1 109.9H43.6M44.8 109.9H45.6M51 110H53.9M56.7 110H58.2M39.3 112.9H39.9M41 112.9H41.6M43.2 112.9H43.8M44.9 112.9H45.5M40.6 116.9H40.9M44.6 116.9H44.9M40.6 171.1H40.9M44.6 171.1H44.9M44.6 444.9H44.9" stroke="#3380b2" stroke-opacity=".57"/><path class="t" d="M95 66.9V67.8M148.9 66.9V67.8M35.3 329.9H37.6M35.3 507.5H38.3" stroke="#b24059" stroke-opacity=".22"/><path class="t" d="M95.5 30.5V30.5M95.5 40.9V40.9M209.3 23.6V23.6M209.3 27.1V27.1M209.3 30.5V30.5M209.3 34V34M209.3 37.5V37.5M209.3 44.4V44.4M269.7 23.6V23.6M269.7 27.1V27.1M269.7 30.5V30.5M269.7 34V34M269.7 37.5V37.5M269.7 44.4V44.4M308.8 40.9V40.9M438.9 23.6V23.6M438.9 27.1V27.1M438.9 30.5V30.5M438.9 34V34M438.9 37.5V37.5M438.9 40.9V40.9M438.9 44.4V44.4M40.3 108.5H40.3M42 108.5H42M44.2 108.5H44.2M45.9 108.5H45.9M40.3 162.9H40.3M42 162.9H42M44.2 162.9H44.2M45.9 162.9H45.9M40.3 210.3H40.3M44.2 210.3H44.2M45.9 210.3H45.9M49.1 210.3H49.1M52.9 210.3H52.9M54.8 210.3H54.8M56.7 210.3H56.7M58.6 210.3H58.6M51 336.7H51M49.1 413.4H49.1M51 413.4H51M52.9 413.4H52.9M54.8 413.4H54.8M56.7 413.4H56.7M58.6 413.4H58.6" stroke="#3380b2" stroke-opacity=".18"/><path class="t" d="M96.5 50.3V50.3M96.5 53.4V53.4M96.5 57.5V57.5M96.5 60.7V60.7M150.3 50.3V50.3M150.3 53.4V53.4M150.3 57.5V57.5M150.3 60.7V60.7M205.4 66.8V66.8M209.3 50.3V50.3M209.3 53.4V53.4M209.3 60.7V60.7M46.2 329.9H46.2" stroke="#3380b2" stroke-opacity=".22"/><path class="t" d="M96.9 68.1V68.2M114.9 49.5V49.5M151.7 68.1V68.2M166.1 53.9V53.9M167.5 49.5V49.5M205.4 48V48M217.3 65.2V65.3M261 48V48M428.2 68.1V68.2M43 140.2H43.9" stroke="#994ca6" stroke-opacity=".22"/><path class="t" d="M101.6 65.9V66.8" stroke="#805973" stroke-opacity=".33"/><path class="t" d="M103 65.7V66.3M35.3 124.4H35.3" stroke="#8c4c66" stroke-opacity=".40"/><path class="t" d="M107.6 64.7V65.5M158.9 64.7V65.5M161.8 24.8V25.3M53.5 144.3H56.4M43.1 146.4H46.1M55.4 146.4H58.3M47.1 198.5H49.9" stroke="#4cb24c" stroke-opacity=".33"/><path class="t" d="M108.7 65.1V65.3M37.7 90.1H37.8" stroke="#a64080" stroke-opacity=".33"/><path class="t" d="M109.1 64.6V66M113.6 41.7V41.7M113.4 51.3V51.3M113.9 24V24.4M114.1 33.7V35M114 37.1V37.9M114.1 39.7V39.7M114.1 45.2V45.9M114.5 23.8V23.8M114.5 40.2V40.8M115 23.4V24.1M114.9 38.2V39.5M114.8 41.3V41.3M114.9 45.8V47.9M115.5 24.6V25.8M115.7 35V35M115.3 57.7V57.7M115.9 23.3V23.3M116.2 25.7V25.7M116.2 27.6V27.6M116 33.3V33.7M116 38.5V39M116 40.6V40.6M115.8 42V42M116.4 24.6V26.4M116.3 34.3V34.3M116.5 36.2V36.8M116.5 41.1V42.5M116.3 55.1V55.1M116.5 59.5V59.8M117 29.1V29.3M116.8 33.3V33.3M117 41.4V41.4M117 55.1V55.7M166.1 37.9V38.3M169 24.6V25.8M169 58.3V58.3M170.4 36.2V36.8M170.4 54.8V55.1M171.9 55.7V55.7M278.4 66V66M332 54.8V55.7M54.3 77.5H54.3M57.3 77.5H57.3M52.6 78H55.2M58.5 78.1H59.1M40.7 78.5H40.9M45.8 78.4H45.8M50.5 78.4H51.2M53.3 78.6H53.3M43.3 78.8H43.3M50.5 78.9H52.7M54.4 78.9H55.2M56.4 78.9H58.3M59.3 78.8H59.9M41 79.6H41.5M54.2 79.6H55.6M60.2 79.5H60.2M41.9 80.2H41.9M47.3 80.2H47.3M48 80.6H48.4M51.8 80.6H51.8M50.3 80.9H50.8M52.1 81H53.3M48.9 81.4H51.4M52.8 81.5H52.8M57.4 81.7H58.1M59.4 81.5H60.4M39.3 81.9H41.7M45 81.9H45.6M48.3 82H48.7M59.6 82.1H59.6M43.7 83H43.7M45.4 83H45.4M45.8 134H45.8M55 136.1H55M43.7 138.1H43.7" stroke="#994ca6" stroke-opacity=".66"/><path class="t" d="M110.1 27.3V27.3M110.1 47.5V48.2M110.6 36.7V36.7M110.6 60.1V60.4M111.1 24.8V25.3M112.1 43.6V43.6M112.8 24.1V24.1M113.1 26.6V27M113.1 58.2V58.9M161.8 31.8V33.2M161.8 54.3V55.5M161.8 57.6V57.6M163.2 29.7V32.5M213.3 50.6V51.2M213.3 52.4V54.3M213.3 55.5V55.5M213.3 57.9V58.5M213.3 59.6V61.6M53.8 83.5H54.1M48.8 84.1H48.8M53.5 84H53.5M47.3 84.7H47.3M48.5 85.1H48.5M54.5 84.9H55.3M40.4 86.7H40.4M52.6 86.4H52.6M47.5 87.1H47.5M49.2 87.6H49.9M43.1 88.1H44.4M50 88.1H50.1M51.9 88H51.9" stroke="#4cb24c" stroke-opacity=".57"/><path class="t" d="M110.1 39.4V39.4M110.1 54.7V55.5M110.7 41.5V41.5M110.6 46.6V46.6M110.5 50.6V51.2M110.7 54.3V54.3M111.7 30.4V30.4M111.3 41.9V41.9M111.7 59.7V59.7M112.1 26.3V26.3M112.5 28.7V30.8M112.7 39.5V39.5M112.9 31.7V32.2M113.3 34.6V34.6M42.1 84.5H42.1M53.1 84.9H53.1M50.3 85.4H50.3M56.7 85.6H56.7M60.1 85.3H60.1M53.7 85.8H53.7M43.3 86.6H43.3M43.7 87.1H43.7M45.4 87.1H45.4M50.7 87.1H52.2M45.7 87.7H45.7M47.9 87.3H47.9M40.2 88H40.2M41.2 88.2H41.2" stroke="#4cb24c" stroke-opacity=".76"/><path class="t" d="M110.1 42.8V42.8M110.3 42.9V43.3M111.1 27.7V28.4M111.2 38V38M111 60.3V60.3M111.3 46.3V46.3M111.7 53.7V53.7M112.1 45.6V45.6M161.8 27.3V29.1M161.8 36.6V36.7M161.8 38V39.4M161.8 41.4V43.3M161.8 49.9V51.6M161.8 58.8V58.8M161.8 62V62M163.2 26.2V27M163.2 33.1V35.9M163.2 38.4V38.4M163.2 39.5V39.5M163.2 40.5V41.2M163.2 43.6V45.7M163.2 54.8V54.8M217.3 35.2V38.1M217.3 38.7V41.5M217.3 42.1V45M217.3 45.6V47.5M217.3 53V53.1M217.3 60.3V60.4M41.2 83.5H41.6M44.7 84H45.2M53 84.6H53M60.5 85.9H60.6M57.1 86.5H59.8M46.1 88.1H47.4M58.4 88H58.4M52.2 146.4H55.2M39.4 204.4H41.9M43.1 204.4H45.9M47.1 204.4H47.3" stroke="#4cb24c" stroke-opacity=".48"/><path class="t" d="M110 50V50M161.8 23.5V23.5M163.2 42.2V42.2M217.3 51.7V51.7M217.3 54.8V54.8M217.3 58.9V58.9M37.6 91.8H38M60.1 144.3H60.2M37.6 150.5H38" stroke="#4cb24c" stroke-opacity=".22"/><path class="t" d="M110.1 53.1V53.1M111.5 23.5V23.5M161.8 46.3V48.2M161.8 53V53.1M163.2 24.1V24.2M217.3 49.9V50M327.3 63.3V63.9M46.1 146.4H48.1M50.1 198.5H53M53.1 198.5H56M56.4 198.5H59.2M59.4 198.5H60.9" stroke="#4cb24c" stroke-opacity=".27"/><path class="t" d="M110.1 60.8V60.8M110.3 24.9V24.9M110.6 32.4V33.2M110.7 38.8V38.8M111.5 29V29.1M111.9 24.2V24.2M112.2 31.1V31.1M112.1 33.1V35.3M111.8 42.2V42.2M112.1 64.6V64.6M112.5 40.8V42.1M112.5 44.3V45.7M112.3 51.9V51.9M112.4 57.3V57.3M113.1 25.6V25.6M113 35.2V36.3M112.9 38.4V38.4M113.2 40.1V40.1M112.8 51.7V52.4M113.1 54.8V55.6M161.8 30.4V30.4M163.2 64.6V64.6M213.3 48.2V48.2M43 83.6H43.5M45.6 83.6H45.6M51.4 83.4H51.4M58.6 83.5H59.4M50.9 84H52.4M55.8 83.9H56M60.2 84H60.2M48.4 84.5H49.2M50.4 84.5H51.3M55.6 84.5H57.7M49.6 85.1H49.6M56.4 84.9H56.4M54.1 85.3H54.8M57.5 86H57.5M39.7 87.1H40.8M51.1 87.3H51.1M53.3 87.3H53.3M55.4 87.3H56M47.1 88.4H47.1" stroke="#4cb24c" stroke-opacity=".66"/><path class="t" d="M109.8 64.2V64.4M161.8 64.2V64.4M387.4 49.5V50.1M59.9 309.6H60.6" stroke="#807380" stroke-opacity=".22"/><path class="t" d="M112.4 37.3V37.4M161.8 60.1V60.8M163.2 36.3V37.4M163.2 53.7V53.7M217.3 22.7V25.6M217.3 25.9V28.7M217.3 29.1V31.8M217.3 32.2V34.6M428.2 48.2V48.2M38.1 85.1H38.1M44 85.6H44M48.1 86.2H48.1M55.2 87.1H55.2M40.4 87.3H40.4M50.4 144.3H53.1M56.5 144.3H59M39.5 146.4H41.9M49.2 146.4H52.2M58.4 146.4H60.6M40.8 198.5H43.5M43.9 198.5H46.1" stroke="#4cb24c" stroke-opacity=".40"/><path class="t" d="M113.2 61.3V64M378.4 26.2V29.1M378.4 29.7V32.6M378.4 33.1V36.1M378.4 36.6V39.5M378.4 40.1V43M378.4 43.5V46.5" stroke="#668c73" stroke-opacity=".33"/><path class="t" d="M113.6 25.5V26.7M113.5 29V29.4M113.5 38.1V38.3M113.4 57.9V58.6" stroke="#738073" stroke-opacity=".66"/><path class="t" d="M113.6 30.7V31.1M113.5 35.6V35.9M113.6 39.8V40.2M166.1 39.8V40.2M41.4 83.1H41.8" stroke="#738073" stroke-opacity=".57"/><path class="t" d="M113.6 44.6V45.4M327.3 45.9V47.8M327.3 49.9V52.9M327.3 53V55.6M327.3 57.1V59.8" stroke="#807380" stroke-opacity=".48"/><path class="t" d="M113.6 61.4V61.7M114.1 28.1V28.5M114.3 61.1V61.1M114.9 57.4V58M116.4 29.6V30.2M117 40V40M117 58.9V60.5M117.3 62.7V63.4M166.1 26.7V26.7M167.5 25.5V25.5M167.5 45.2V47.2M167.5 57.4V58.1M169 44.2V44.9M169 52.5V52.9M170.4 27.6V27.6M170.4 40.6V42.5M170.4 43.7V44M171.9 40V40M171.9 58.9V58.9M171.9 60.1V60.5M171.9 62.7V63.4M225.3 23.3V25.9M269.7 25.7V25.7M269.7 29.1V29.1M269.7 32.6V32.6M269.7 36.1V36.1M269.7 39.5V39.5M269.7 43V43M332 23.3V25.8M40.3 77.5H41.2M40.5 77.8H40.7M57.4 78H57.4M54.6 81H56.3M55.6 81.5H56.1M54.2 82H54.9M51.4 82.7H51.4M52.4 82.4H53M42.9 132H42.9M52.3 134H55.2M58.3 136.1H60.2M39.3 140.2H39.8M58.8 140.2H58.9M41 302.8H43.8" stroke="#994ca6" stroke-opacity=".48"/><path class="t" d="M114.1 41.4V41.4M113.9 42.8V42.8M114 57.4V58.1M114 62.4V62.4M114.4 29.2V29.2M114.5 36.8V37.6M114.6 44.7V45.3M115.2 28.1V28.1M115.2 43.1V43.7M114.9 51.3V52.3M115.4 29.8V29.8M115.5 31.4V31.4M115.8 37.1V37.1M116.3 48V48M117 34.9V35.6M60 77.6H60M43.5 78H43.5M45.2 78.8H45.2M50.5 79.5H50.5M56.2 79.9H56.2M58 80.4H58M50.8 82.1H51.7M53.1 82.1H53.1M49 82.5H50M56.8 82.5H57.5M50.6 82.8H50.6" stroke="#994ca6" stroke-opacity=".76"/><path class="t" d="M114.2 50.8V50.8M113.9 53.8V54.4M114.1 60.8V61.2M114.3 25.5V25.5M114.3 27.9V27.9M114.5 31.1V32.4M114.5 42.5V43.2M114.9 31.3V33M115.1 35.4V36.1M115.6 26.9V27.5M115.5 36.2V36.5M115.4 44V44.9M115.7 46.5V46.8M115.5 52V52.9M116.2 31V31M116.2 34.8V34.8M116.6 38V38M116.4 43.7V44M166.1 24.4V24.4M167.5 23.4V24.1M167.5 34.4V36.1M167.5 37.1V39.7M167.5 40.2V41.4M167.5 50.8V52.3M167.5 60.8V61.7M169 26.9V27.5M169 36.5V37.1M170.4 25.2V26.4M170.4 34.8V34.8M170.4 38V39M225.3 26.4V29.3M225.3 29.8V32.8M225.3 33.3V36.2M225.3 36.8V39.7M225.3 40.2V43.2M225.3 43.7V46.3M332 26.4V29.2M332 29.8V32.7M332 33.3V36.2M332 36.8V39.6M332 40.2V43.1M332 43.7V46.6M332 46.8V47.9M332 51.7V53.2M332 58.9V60.5M42.9 77.6H43.3M50.7 77.6H51.5M49.6 78.1H50.9M49.3 78.6H49.5M56.5 78.4H57.2M44.6 79.6H45M47.8 79.7H48M52.2 79.4H53.1M58.3 79.7H58.3M44.5 80.2H44.7M48.8 80H49.3M53.4 80H53.6M58.7 79.9H59.9M49.5 80.4H49.8M53.7 80.5H54M60.2 80.6H60.2M44.8 80.8H47.6M43.7 82.1H43.7M39.3 82.5H40M42 82.4H44M39.7 83H39.7M37.3 89.5H37.7M54.3 132H54.3M57.3 132H57.3M41 136.1H41.5" stroke="#994ca6" stroke-opacity=".57"/><path class="t" d="M113.9 55.6V55.6M166.1 55.6V55.6M166.1 61.4V61.4M167.5 31.3V33.8M167.5 42.5V43.7M170.4 29.1V31M170.4 59.8V59.8M221.3 50.8V52.9M221.3 53.9V55.7M221.3 57V59.9M221.3 60.1V60.1M387.4 67.6V67.6M42.2 78.2H42.2M58.9 78.4H58.9M41.7 80.8H42M48.3 81H48.7M60.6 80.8H60.6M40 81.7H40M57.8 82H58M58.8 82.7H58.8M60 82.3H60M40.3 132H41.2M43.3 134H43.5M49.3 134H52.1M56.4 134H59.3M59.6 134H59.6M44.5 136.1H45M53.1 136.1H53.4M39.3 138.1H40.2M51.1 138.1H54M59.4 138.1H60.6M60 140.2H60M60.7 350.8H60.7" stroke="#994ca6" stroke-opacity=".40"/><path class="t" d="M116.6 57V57M169 46.6V46.8M332 57.4V57.4M422.8 55.6V55.7M38.8 77.3H39.2M38.8 132H39.2M40.7 134H40.7M41.7 138.1H42M54.2 138.1H56.3M57.4 138.1H58.1M41.9 192.6H44.7M45 192.6H48M60 302.8H60.6M36.5 350.8H36.5" stroke="#994ca6" stroke-opacity=".27"/><path class="t" d="M117.3 50.1V50.1M117.3 53.2V53.2M170.4 33.3V33.3M170.4 57V57M171.9 50.1V50.1M171.9 53.2V53.2M221.3 49.5V49.5M225.3 50.1V50.1M225.3 53.2V53.2M225.3 57.4V57.4M225.3 60.5V60.5M44.3 77.3H44.3M46 77.3H46M36.1 107.9H36.2M44.3 132H44.3M46 132H46M42.2 134H42.2M36.1 160.8H36.2M40.3 186.7H40.3M42 186.7H42M44.3 186.7H44.3M46 186.7H46M60.6 192.6H60.6M36.1 429.2H36.2" stroke="#994ca6" stroke-opacity=".18"/><path class="t" d="M138.8 69.5V69.8M37.2 154.6H37.5M37 210.3H37.6" stroke="#8c4c66" stroke-opacity=".22"/><path class="t" d="M148.9 22.8V25.4M205.4 44.6V47.2" stroke="#994c66" stroke-opacity=".33"/><path class="t" d="M148.9 26V28.9M148.9 29.5V32.4M148.9 33V35.8M148.9 36.4V39.3M148.9 39.9V42.7M148.9 43.3V46.2" stroke="#994059" stroke-opacity=".33"/><path class="t" d="M148.9 46.8V48.1" stroke="#596699" stroke-opacity=".57"/><path class="t" d="M148.9 49.8V52.4" stroke="#66668c" stroke-opacity=".40"/><path class="t" d="M148.9 52.9V55.5M148.9 58.1V60.9" stroke="#735980" stroke-opacity=".48"/><path class="t" d="M148.9 61.2V62.5" stroke="#596699" stroke-opacity=".48"/><path class="t" d="M154.6 65.9V66.8M308.8 60.8V62.6" stroke="#805973" stroke-opacity=".27"/><path class="t" d="M156 65.7V66.3M46.1 164.9H49.1M58.9 216.3H60.4M46.2 288.7H48.9" stroke="#8c4c66" stroke-opacity=".27"/><path class="t" d="M160.4 65.1V66" stroke="#a6408c" stroke-opacity=".33"/><path class="t" d="M163.2 47.1V47.7M166.1 30.7V31.1" stroke="#738073" stroke-opacity=".48"/><path class="t" d="M163.2 51.3V52.4" stroke="#599959" stroke-opacity=".48"/><path class="t" d="M163.2 57.3V59.7" stroke="#59a659" stroke-opacity=".48"/><path class="t" d="M163.2 61.3V64M378.4 46.6V48.2M38.5 83.4H39.9M37.7 198.5H40.4M50.3 366.6H53.3" stroke="#668c73" stroke-opacity=".27"/><path class="t" d="M166.1 44.6V45.4M378.4 23V25.7M56.4 140.2H56.6" stroke="#738073" stroke-opacity=".33"/><path class="t" d="M167.5 27.9V28.5M332 49.5V50.1M332 62.1V63.4M51.5 132H51.5M47.3 136.1H49.2M44.8 138.1H47.6M48 138.1H50.8M48.1 186.7H50.9M51.2 186.7H54M54.2 186.7H57.1M57.3 186.7H60.3M60.4 186.7H60.6M44.3 302.8H47.2M47.5 302.8H50.3M50.5 302.8H53.3M53.6 302.8H56.6M56.9 302.8H59.7" stroke="#994ca6" stroke-opacity=".33"/><path class="t" d="M197.4 68.4V69.9M360.4 66.3V68.3M35.3 398.1H37.3" stroke="#cc2633" stroke-opacity=".27"/><path class="t" d="M201.4 40.4V43.3M201.4 43.9V46.8M252.2 40.1V43" stroke="#bf2633" stroke-opacity=".48"/><path class="t" d="M201.4 46.9V48.1M39.3 164.9H41.8M43.1 164.9H45.8" stroke="#66668c" stroke-opacity=".33"/><path class="t" d="M201.4 49.6V52.5M252.2 46.7V48.1M252.2 49.6V52.5M422.8 69.6V69.9" stroke="#735980" stroke-opacity=".33"/><path class="t" d="M201.4 52.7V55.6M201.4 60.8V62.6M252.2 52.7V55.6M39.2 336.7H42" stroke="#735980" stroke-opacity=".27"/><path class="t" d="M201.4 57.2V60M252.2 57.2V60" stroke="#804c73" stroke-opacity=".33"/><path class="t" d="M201.4 66.9V67.9" stroke="#bf334c" stroke-opacity=".22"/><path class="t" d="M205.4 23.8V26.5M205.4 27.2V29.9M205.4 30.7V33.4M205.4 34.2V36.9M205.4 37.6V40.3M205.4 41.1V43.8" stroke="#804c73" stroke-opacity=".40"/><path class="t" d="M205.4 49.7V52.3M205.4 60.1V61.9M261 49.7V52.3M313.4 65.6V68.5M39.2 216.3H42.2M46.2 272.9H49.1M35.2 437H38.1" stroke="#a64066" stroke-opacity=".27"/><path class="t" d="M205.4 52.7V55.4M261 52.7V55.4M55.7 272.9H58.5" stroke="#994c73" stroke-opacity=".27"/><path class="t" d="M205.4 57.1V60M261 57.1V60" stroke="#8c598c" stroke-opacity=".33"/><path class="t" d="M205.4 68V69M378.4 68V69" stroke="#bf3359" stroke-opacity=".33"/><path class="t" d="M209.3 57.5V57.5M438.9 60.7V62.1M37.2 98.4H37.3M36.9 101.2H37M51.3 107.4H51.3M49.5 160.8H49.5M51.3 160.8H51.3M53.2 160.8H53.2M55.1 160.8H55.1M57 160.8H57M58.9 160.8H58.9M49.5 444.9H49.5M51.3 444.9H51.3M53.2 444.9H53.2M55.1 444.9H55.1M57 444.9H57M58.9 444.9H58.9" stroke="#3380b2" stroke-opacity=".48"/><path class="t" d="M209.3 65.6V66.6M472.2 47.6V48.2" stroke="#994c66" stroke-opacity=".22"/><path class="t" d="M213.3 64.2V66" stroke="#995980" stroke-opacity=".40"/><path class="t" d="M217.3 57.3V57.3" stroke="#4cb24c" stroke-opacity=".18"/><path class="t" d="M217.3 62.1V65M332 64.4V65.3M492.3 56.9V59.6M53.3 366.6H56.2" stroke="#668c66" stroke-opacity=".27"/><path class="t" d="M221.3 23.3V26.1M221.3 32.6V35.6M221.3 45.9V47.9" stroke="#8c5999" stroke-opacity=".33"/><path class="t" d="M221.3 26.3V29.2M221.3 35.9V38.5M221.3 39V42M221.3 42.5V45.4" stroke="#8c668c" stroke-opacity=".33"/><path class="t" d="M221.3 29.6V32.4" stroke="#8c668c" stroke-opacity=".40"/><path class="t" d="M221.3 61.2V63.5M278.4 60.1V63M40.1 309.6H43M47.3 309.6H50.2M50.5 309.6H53.3M53.6 309.6H56.4M42 350.8H45M51.4 350.8H54.3M54.5 350.8H57.4" stroke="#807380" stroke-opacity=".27"/><path class="t" d="M252.2 43.5V46.5M313.4 45.3V47.9" stroke="#d92626" stroke-opacity=".48"/><path class="t" d="M252.2 60.8V62.6M428.2 65.3V66.2M49.5 216.3H52.4M52.5 216.3H55.5M46.2 222.2H48.9M52.5 272.9H55.5M58.9 272.9H60.4" stroke="#8c4c73" stroke-opacity=".27"/><path class="t" d="M252.2 68.4V69.9" stroke="#cc2633" stroke-opacity=".22"/><path class="t" d="M261 23.8V26.6" stroke="#8c4c80" stroke-opacity=".33"/><path class="t" d="M261 27.2V30M261 30.6V33.5M261 34.1V36.9M261 37.5V40.4M261 41V43.9" stroke="#8c4c73" stroke-opacity=".33"/><path class="t" d="M261 44.5V47.2" stroke="#994c73" stroke-opacity=".33"/><path class="t" d="M261 60.1V61.9M39.6 272.9H42.2" stroke="#994073" stroke-opacity=".27"/><path class="t" d="M261 65.6V68.5M35.7 272.9H37.6M35.2 382.3H38.1" stroke="#994066" stroke-opacity=".22"/><path class="t" d="M269.7 46.8V47.9" stroke="#73738c" stroke-opacity=".48"/><path class="t" d="M269.7 49.5V50.3" stroke="#598c8c" stroke-opacity=".27"/><path class="t" d="M269.7 51.6V53.4M269.7 58.8V60.7M269.7 62V62.4" stroke="#59808c" stroke-opacity=".48"/><path class="t" d="M269.7 54.7V55.7" stroke="#73738c" stroke-opacity=".57"/><path class="t" d="M269.7 57.2V57.5M59.4 316.4H60.9" stroke="#409973" stroke-opacity=".27"/><path class="t" d="M269.7 64.5V66.6M492.3 25.9V28.8M492.3 38.5V41.4" stroke="#8c6659" stroke-opacity=".27"/><path class="t" d="M278.4 22.7V25.6" stroke="#738080" stroke-opacity=".22"/><path class="t" d="M278.4 25.8V28.7M278.4 29V31.9M278.4 32.1V35M278.4 35.2V38.1M278.4 41.4V44.3M278.4 63.1V64.6M48.6 140.2H49M43.5 241.4H46.3M40.8 366.6H43.7" stroke="#738073" stroke-opacity=".22"/><path class="t" d="M278.4 38.3V41.3M278.4 44.6V47.5M278.4 49.7V52.5M278.4 52.8V55.6M378.4 52.8V55.6M378.4 56.9V59.7M472.2 63.3V66.1M48.6 82.8H49M59.4 366.6H60.8" stroke="#738073" stroke-opacity=".27"/><path class="t" d="M278.4 47.7V48.2" stroke="#669966" stroke-opacity=".27"/><path class="t" d="M278.4 57V59.8M378.4 60.1V62.8M492.3 60V62.9" stroke="#737380" stroke-opacity=".27"/><path class="t" d="M308.8 46.9V48.1" stroke="#597399" stroke-opacity=".33"/><path class="t" d="M308.8 50.4V52.7M308.8 53.6V55.5M308.8 57.7V60" stroke="#596699" stroke-opacity=".33"/><path class="t" d="M313.4 49.8V49.8M318.1 65.9V66.2M42 210.3H42M60.5 210.3H60.5M47.1 413.4H47.4M60.5 413.4H60.5" stroke="#3380b2" stroke-opacity=".33"/><path class="t" d="M313.4 51V53M313.4 58.2V60.2" stroke="#a64059" stroke-opacity=".48"/><path class="t" d="M313.4 54.1V55.6" stroke="#cc2633" stroke-opacity=".48"/><path class="t" d="M313.4 68.6V69.8M369.4 68.5V69.9" stroke="#bf3340" stroke-opacity=".27"/><path class="t" d="M318.1 23.8V26.5M318.1 27.2V29.9M318.1 30.7V33.4M318.1 34.2V36.9M318.1 37.6V40.3M318.1 41.1V43.8" stroke="#735999" stroke-opacity=".40"/><path class="t" d="M318.1 44.6V46.2" stroke="#805980" stroke-opacity=".40"/><path class="t" d="M318.1 51.3V51.5M318.1 54.4V54.6M318.1 58.6V58.8M318.1 61.7V61.9" stroke="#bf3359" stroke-opacity=".57"/><path class="t" d="M322.7 22.7V25.6M322.7 56.9V59.7M433.5 29V31.9M433.5 35.2V38.2M433.5 41.4V44.3M433.5 64.1V66.8" stroke="#4ca666" stroke-opacity=".33"/><path class="t" d="M322.7 25.9V28.8M322.7 32.3V35.2M322.7 42.1V45" stroke="#4ca666" stroke-opacity=".48"/><path class="t" d="M322.7 29.1V31.8M322.7 45.6V48.2M433.5 32.2V35M433.5 38.4V41.2" stroke="#4ca659" stroke-opacity=".40"/><path class="t" d="M322.7 35.3V38.1M322.7 49.7V52.4M322.7 52.8V55.6M433.5 25.9V28.7" stroke="#4ca666" stroke-opacity=".40"/><path class="t" d="M322.7 38.7V41.5" stroke="#4ca659" stroke-opacity=".48"/><path class="t" d="M322.7 60.1V60.8" stroke="#409980" stroke-opacity=".40"/><path class="t" d="M322.7 62.1V62.3" stroke="#409980" stroke-opacity=".48"/><path class="t" d="M322.7 63.8V65.1" stroke="#8c6673" stroke-opacity=".33"/><path class="t" d="M322.7 66.3V66.3M40.5 104.6H40.5M44.5 104.6H44.5M40.5 158.7H40.5M44.5 158.7H44.5" stroke="#3380b2" stroke-opacity=".27"/><path class="t" d="M327.3 23.3V25.9M327.3 32.4V35M327.3 35.6V38.5M327.3 39V42M327.3 42.5V45.4M387.4 23.2V25.9M387.4 32.7V35.6M387.4 36.2V39.1M387.4 39.6V42.6M387.4 43.1V46M43.3 309.6H46.1" stroke="#807380" stroke-opacity=".33"/><path class="t" d="M327.3 26.3V29.1" stroke="#737380" stroke-opacity=".40"/><path class="t" d="M327.3 29.3V32.2M387.4 26.4V29.3M387.4 51.6V53.2M387.4 58.8V60.5" stroke="#807380" stroke-opacity=".40"/><path class="t" d="M327.3 60.1V62.4" stroke="#738073" stroke-opacity=".40"/><path class="t" d="M327.3 66V66.6" stroke="#cc2640" stroke-opacity=".48"/><path class="t" d="M369.4 22.9V25.9M369.4 29.3V32.3M369.4 32.8V35.7M369.4 36.2V39.2M369.4 39.7V42.7M369.4 43.2V46.1M49.5 323.1H52.3" stroke="#735999" stroke-opacity=".27"/><path class="t" d="M369.4 26V28.8" stroke="#805999" stroke-opacity=".27"/><path class="t" d="M369.4 46.9V48.1" stroke="#5973a6" stroke-opacity=".27"/><path class="t" d="M369.4 49.7V52.5" stroke="#666699" stroke-opacity=".27"/><path class="t" d="M369.4 52.7V55.6M369.4 60V62.6" stroke="#596699" stroke-opacity=".27"/><path class="t" d="M369.4 56.9V59.8M47.1 336.7H47.8" stroke="#4c73a6" stroke-opacity=".27"/><path class="t" d="M369.4 63.1V66" stroke="#806673" stroke-opacity=".33"/><path class="t" d="M369.4 66.2V67.1" stroke="#735980" stroke-opacity=".22"/><path class="t" d="M378.4 49.7V52.4" stroke="#668c66" stroke-opacity=".33"/><path class="t" d="M378.4 63.4V65.5" stroke="#669966" stroke-opacity=".33"/><path class="t" d="M387.4 29.4V32.2" stroke="#738080" stroke-opacity=".33"/><path class="t" d="M387.4 46.6V47.9" stroke="#8c668c" stroke-opacity=".57"/><path class="t" d="M387.4 54.7V55.7" stroke="#80668c" stroke-opacity=".57"/><path class="t" d="M387.4 57.3V57.4M47.1 241.4H50M50.1 241.4H53.1M53.1 241.4H56.1M56.2 241.4H59" stroke="#738073" stroke-opacity=".18"/><path class="t" d="M387.4 62V63.2" stroke="#8c5999" stroke-opacity=".48"/><path class="t" d="M422.8 23.2V26.1" stroke="#a64c99" stroke-opacity=".27"/><path class="t" d="M422.8 26.4V29.3M422.8 32.7V35.6" stroke="#a64c8c" stroke-opacity=".27"/><path class="t" d="M422.8 29.6V32.4M422.8 38.9V41.8M422.8 42V44.9M37.3 148.4H37.8" stroke="#a6408c" stroke-opacity=".27"/><path class="t" d="M422.8 35.9V38.8" stroke="#a64c99" stroke-opacity=".33"/><path class="t" d="M422.8 45.2V48" stroke="#8c4c99" stroke-opacity=".27"/><path class="t" d="M422.8 49.5V52.3" stroke="#8c59a6" stroke-opacity=".27"/><path class="t" d="M422.8 52.5V55.4M422.8 57V60M422.8 60.1V63.1" stroke="#8059a6" stroke-opacity=".27"/><path class="t" d="M422.8 63.2V66" stroke="#806680" stroke-opacity=".33"/><path class="t" d="M422.8 66.6V69.2" stroke="#b24059" stroke-opacity=".33"/><path class="t" d="M428.2 23.1V26" stroke="#cc2633" stroke-opacity=".40"/><path class="t" d="M428.2 26.2V29.1M428.2 32.6V35.3M428.2 41.8V44.7M428.2 45.1V47.9" stroke="#bf4040" stroke-opacity=".33"/><path class="t" d="M428.2 29.5V32.4M428.2 38.8V41.6" stroke="#bf4033" stroke-opacity=".33"/><path class="t" d="M428.2 35.7V38.7" stroke="#bf3333" stroke-opacity=".33"/><path class="t" d="M428.2 49.7V52.4" stroke="#b24040" stroke-opacity=".33"/><path class="t" d="M428.2 52.7V55.5" stroke="#a64c40" stroke-opacity=".33"/><path class="t" d="M428.2 57.1V60.1" stroke="#994c4c" stroke-opacity=".33"/><path class="t" d="M428.2 60.1V62.6M472.2 66.3V69" stroke="#bf3340" stroke-opacity=".33"/><path class="t" d="M433.5 22.7V25.6" stroke="#4ca659" stroke-opacity=".33"/><path class="t" d="M433.5 44.6V47.5" stroke="#599959" stroke-opacity=".33"/><path class="t" d="M433.5 47.7V48.2" stroke="#808040" stroke-opacity=".33"/><path class="t" d="M433.5 49.8V52.5M433.5 53V55.6" stroke="#738c40" stroke-opacity=".40"/><path class="t" d="M433.5 57.3V59.8" stroke="#738c40" stroke-opacity=".33"/><path class="t" d="M433.5 60.3V62.3" stroke="#668c40" stroke-opacity=".40"/><path class="t" d="M472.2 22.8V25.8" stroke="#994c73" stroke-opacity=".22"/><path class="t" d="M472.2 25.9V28.8" stroke="#806680" stroke-opacity=".22"/><path class="t" d="M472.2 28.9V31.7M472.2 31.9V34.9M472.2 35V38" stroke="#995973" stroke-opacity=".22"/><path class="t" d="M472.2 38.2V41.2M472.2 56.9V59.9M472.2 60V62.4" stroke="#8c5980" stroke-opacity=".22"/><path class="t" d="M472.2 41.3V44.2M472.2 44.5V47.4" stroke="#8c5973" stroke-opacity=".22"/><path class="t" d="M472.2 49.4V52.4" stroke="#73668c" stroke-opacity=".22"/><path class="t" d="M472.2 52.5V55.4" stroke="#80598c" stroke-opacity=".22"/><path class="t" d="M472.2 55.6V55.7" stroke="#b24073" stroke-opacity=".22"/><path class="t" d="M492.3 22.7V25.6" stroke="#668066" stroke-opacity=".27"/><path class="t" d="M492.3 29.3V32.3" stroke="#806659" stroke-opacity=".27"/><path class="t" d="M492.3 32.4V35.4" stroke="#737366" stroke-opacity=".27"/><path class="t" d="M492.3 35.5V38.4M53.6 460.2H56.5" stroke="#807366" stroke-opacity=".22"/><path class="t" d="M492.3 41.6V44.6" stroke="#806666" stroke-opacity=".27"/><path class="t" d="M492.3 44.6V47.5M37 309.6H40" stroke="#807366" stroke-opacity=".27"/><path class="t" d="M492.3 47.7V48.2" stroke="#598c80" stroke-opacity=".27"/><path class="t" d="M492.3 49.6V52.4" stroke="#8c6659" stroke-opacity=".22"/><path class="t" d="M492.3 52.8V55.6" stroke="#807359" stroke-opacity=".22"/><path class="t" d="M492.3 63V65.9" stroke="#807373" stroke-opacity=".27"/><path class="t" d="M492.3 66.2V69.2M43.1 216.3H46.1M43.1 272.9H46.1" stroke="#b24066" stroke-opacity=".27"/><path class="t" d="M492.3 69.2V69.9" stroke="#8c5959" stroke-opacity=".27"/><path class="t" d="M51.6 83H52.6M53.8 83H54.5M58.9 82.9H59.4" stroke="#668c66" stroke-opacity=".66"/><path class="t" d="M56.4 83H57.3" stroke="#668c66" stroke-opacity=".57"/><path class="t" d="M38.2 88.4H38.3M38.2 146.4H38.3" stroke="#807380" stroke-opacity=".18"/><path class="t" d="M37 100.7H37.4M58.5 164.9H60.9" stroke="#994059" stroke-opacity=".22"/><path class="t" d="M36.4 110.7H36.9M36.4 164.9H36.9" stroke="#b24059" stroke-opacity=".18"/><path class="t" d="M36.3 114H36.3M35.4 413.4H35.4M37 413.4H37.1" stroke="#e61a1a" stroke-opacity=".18"/><path class="t" d="M51.4 140.2H52.7" stroke="#8c668c" stroke-opacity=".48"/><path class="t" d="M38.1 144.3H41.1" stroke="#668c66" stroke-opacity=".22"/><path class="t" d="M41.2 144.3H44.2" stroke="#599959" stroke-opacity=".40"/><path class="t" d="M44.7 144.3H45.4" stroke="#599959" stroke-opacity=".27"/><path class="t" d="M47.3 144.3H50.3" stroke="#59a659" stroke-opacity=".27"/><path class="t" d="M36.9 156.7H37.4M39.2 222.2H42.1M43 222.2H45.9M43 288.7H45.9" stroke="#805973" stroke-opacity=".22"/><path class="t" d="M49.1 164.9H52M52.2 164.9H55.1M55.3 164.9H58.2" stroke="#994059" stroke-opacity=".27"/><path class="t" d="M35.3 179.3H35.4" stroke="#8c4c66" stroke-opacity=".18"/><path class="t" d="M38.7 192.6H41.7" stroke="#8c6699" stroke-opacity=".27"/><path class="t" d="M48 192.6H50.8M51.1 192.6H53.9M54.2 192.6H57.2M57.4 192.6H60.2" stroke="#8c668c" stroke-opacity=".27"/><path class="t" d="M37.3 204.4H38.3" stroke="#995980" stroke-opacity=".27"/><path class="t" d="M35.7 216.3H36.9" stroke="#a64073" stroke-opacity=".27"/><path class="t" d="M46.2 216.3H49.1" stroke="#a64059" stroke-opacity=".27"/><path class="t" d="M55.7 216.3H58.5" stroke="#994c66" stroke-opacity=".27"/><path class="t" d="M36.3 222.2H36.9" stroke="#bf334c" stroke-opacity=".18"/><path class="t" d="M49.3 222.2H52.2M49.3 288.7H52.1" stroke="#cc2633" stroke-opacity=".33"/><path class="t" d="M35.2 228.1H36.1M35.2 288.7H36.1" stroke="#cc2633" stroke-opacity=".18"/><path class="t" d="M37.3 241.4H40.2M40.3 241.4H43.3M56.7 309.6H59.6M48.2 350.8H51.2M57.7 350.8H60.6M38.5 460.2H41.4" stroke="#737380" stroke-opacity=".22"/><path class="t" d="M59.2 241.4H60.9" stroke="#738080" stroke-opacity=".18"/><path class="t" d="M37 257.2H38.2M47.5 460.2H50.5" stroke="#806666" stroke-opacity=".22"/><path class="t" d="M39.3 257.2H42.1" stroke="#59808c" stroke-opacity=".27"/><path class="t" d="M42.9 257.2H45.9" stroke="#66738c" stroke-opacity=".33"/><path class="t" d="M46 257.2H48.6" stroke="#73738c" stroke-opacity=".33"/><path class="t" d="M49.1 257.2H50.1" stroke="#5966b2" stroke-opacity=".40"/><path class="t" d="M51.4 257.2H54.2" stroke="#7366a6" stroke-opacity=".48"/><path class="t" d="M54.8 257.2H57.6M58 257.2H60.5" stroke="#6666b2" stroke-opacity=".48"/><path class="t" d="M49.4 272.9H52.3M39.2 288.7H42.1" stroke="#8c4c73" stroke-opacity=".22"/><path class="t" d="M37.7 302.8H40.7M45.2 350.8H48" stroke="#80668c" stroke-opacity=".27"/><path class="t" d="M37.2 316.4H39.7" stroke="#737380" stroke-opacity=".33"/><path class="t" d="M40.2 316.4H43.1M43.3 316.4H46.3M50.1 316.4H52.9M53.1 316.4H56M56.4 316.4H59.2M49.2 421.3H52.2" stroke="#4ca666" stroke-opacity=".27"/><path class="t" d="M47.1 316.4H49.9M52.2 421.3H55.2M58.4 421.3H60.9" stroke="#4ca659" stroke-opacity=".27"/><path class="t" d="M35.7 323.1H37.4" stroke="#a6404c" stroke-opacity=".27"/><path class="t" d="M39.6 323.1H41.7" stroke="#bf3366" stroke-opacity=".48"/><path class="t" d="M43.1 323.1H46.1" stroke="#bf3366" stroke-opacity=".40"/><path class="t" d="M46.2 323.1H49.1" stroke="#a64066" stroke-opacity=".33"/><path class="t" d="M52.5 323.1H55.5M58.9 323.1H60.4" stroke="#80598c" stroke-opacity=".27"/><path class="t" d="M55.7 323.1H58.5" stroke="#805980" stroke-opacity=".27"/><path class="t" d="M39.4 329.9H42.1" stroke="#b2334c" stroke-opacity=".33"/><path class="t" d="M43 329.9H45.7" stroke="#b23340" stroke-opacity=".33"/><path class="t" d="M47.2 329.9H50.1" stroke="#d91a26" stroke-opacity=".27"/><path class="t" d="M43.1 336.7H45.9" stroke="#66668c" stroke-opacity=".27"/><path class="t" d="M38.9 350.8H41.5" stroke="#80668c" stroke-opacity=".33"/><path class="t" d="M35.7 366.6H36.2" stroke="#bf3359" stroke-opacity=".22"/><path class="t" d="M37.6 366.6H40.6M43.9 366.6H46.3M47.1 366.6H50M56.4 366.6H59.4" stroke="#668c73" stroke-opacity=".22"/><path class="t" d="M38.2 382.3H41.2" stroke="#59738c" stroke-opacity=".22"/><path class="t" d="M41.3 382.3H44.3" stroke="#4c73a6" stroke-opacity=".22"/><path class="t" d="M44.4 382.3H47.2" stroke="#666699" stroke-opacity=".22"/><path class="t" d="M47.4 382.3H50.4" stroke="#736699" stroke-opacity=".22"/><path class="t" d="M50.6 382.3H53.6M53.9 382.3H56.8M56.9 382.3H59.8M60 382.3H60.8" stroke="#735999" stroke-opacity=".22"/><path class="t" d="M36.9 421.3H39.9" stroke="#599959" stroke-opacity=".22"/><path class="t" d="M39.9 421.3H42.1" stroke="#669940" stroke-opacity=".27"/><path class="t" d="M43 421.3H45.9" stroke="#738c40" stroke-opacity=".27"/><path class="t" d="M46.1 421.3H49" stroke="#59994c" stroke-opacity=".22"/><path class="t" d="M55.4 421.3H58.3" stroke="#4ca666" stroke-opacity=".22"/><path class="t" d="M37.2 429.2H37.8" stroke="#8c4c73" stroke-opacity=".18"/><path class="t" d="M39.2 429.1H42.2" stroke="#a64040" stroke-opacity=".22"/><path class="t" d="M43.1 429.1H45.9" stroke="#a64c40" stroke-opacity=".22"/><path class="t" d="M46.1 429.2H49.1M49.4 429.1H52.3" stroke="#b24040" stroke-opacity=".22"/><path class="t" d="M52.4 429.1H55.4M58.8 429.1H60.7" stroke="#bf4033" stroke-opacity=".22"/><path class="t" d="M55.6 429.1H58.5" stroke="#bf3333" stroke-opacity=".22"/><path class="t" d="M38.3 437H41.2" stroke="#806699" stroke-opacity=".18"/><path class="t" d="M41.4 437H44.3" stroke="#8059a6" stroke-opacity=".22"/><path class="t" d="M44.5 437H47.5" stroke="#8c59a6" stroke-opacity=".22"/><path class="t" d="M47.6 437H50.6M59.9 437H60.7" stroke="#994c99" stroke-opacity=".22"/><path class="t" d="M50.7 437H53.6" stroke="#a64c8c" stroke-opacity=".22"/><path class="t" d="M53.8 437H56.6" stroke="#a64c99" stroke-opacity=".22"/><path class="t" d="M56.8 437H59.7" stroke="#a6408c" stroke-opacity=".22"/><path class="t" d="M35.2 460.2H38.2" stroke="#994c59" stroke-opacity=".22"/><path class="t" d="M41.5 460.2H44.5" stroke="#738066" stroke-opacity=".18"/><path class="t" d="M44.5 460.2H47.4" stroke="#806659" stroke-opacity=".18"/><path class="t" d="M50.5 460.2H53.5" stroke="#8c6659" stroke-opacity=".18"/><path class="t" d="M56.6 460.2H59.4" stroke="#8c6666" stroke-opacity=".22"/><path class="t" d="M59.6 460.2H60.9" stroke="#668066" stroke-opacity=".22"/><path class="t" d="M38.4 507.5H41.3" stroke="#806673" stroke-opacity=".18"/><path class="t" d="M41.4 507.5H44.4" stroke="#8c598c" stroke-opacity=".18"/><path class="t" d="M44.4 507.5H47.4" stroke="#805980" stroke-opacity=".18"/><path class="t" d="M47.5 507.5H50.5M56.7 507.5H59.7" stroke="#8c5973" stroke-opacity=".18"/><path class="t" d="M50.5 507.5H53.5" stroke="#8c5980" stroke-opacity=".18"/><path class="t" d="M53.6 507.5H56.5" stroke="#995973" stroke-opacity=".18"/><path class="t" d="M59.8 507.5H60.9" stroke="#994c80" stroke-opacity=".18"/><path class="m20" d="M112.7 28l-1.5-.4l-1-.7l2.7 6.7l.4 10.4l-.2 13.3l-3.1 4.7l.8-.4l-.1-2l1.6 1.4l-.2 3l-2.3 .1l-2.2 .4l7.8 5.3"/><path class="m10" d="M97 45.5l2.1 1.7l0 7.3l0-1.8l0-1.3l0-1.6l0 12l0-1.8l0-1.3l0-1.6l-2.6 5l-3 .4l8.2 3.3l-6.7 .8l-9.3 3"/><path class="m30" d="M113.9 30.4l3 3.8l0-1.5l-2.1 1.7l.9-1.8l-.8 9.7l1.9 1.1l-1.9 18.3l-.5-1.2l-.2-1.2l1.5 0l1.2-.7l.4 3.5l-20.4 5.9"/><path class="m21" d="M112.3 59.2l-2.3-.4l2.3-26.3l-1.7-.7l.6-5.9l1.1 21.8l-1.2 7.3"/><path class="m31" d="M115.7 58.3l.8-27.4l-2.4-5.7l2.8 3.4l-.4 12l.3 14.2"/><path class="m20" d="M110 54l.8-29.4l1.6-.7l-2.6 7.6l.9 27l-.9-.9l.9-.4l1.2-.3"/><path class="m30" d="M116.4 54.2l.9-1l-.3-13.6l-.7-1.8l-.1-9.2l-1.4-1.2l2-.2l-1.3-.5l1.5-.8l0-1.4l-2.1 32.6l-1-1.7l2.6 1.6"/><path class="m01" d="M92.3 32.6l.3-.6l-.3 11l-.3 26.2"/><path class="m00" d="M91.3 68.5l1.5-.6l-.4-37.9l-.3-1.5l0-1.1l.2-.8l-5.1 42.1l1.9-.4l13.7-2.7l-8-3.7"/><path class="m31" d="M113.4 54.4l2.4-30.4l1.3-.7l-.8 28.4"/><path class="m30" d="M116.5 23.2l-1.6-.2l-.7 30.6l0-1.6l1.5-.9"/><path class="m20" d="M113.1 50.9l-1.3 2.6"/><path class="m21" d="M110 53l.7-22.6l.5-.6l.4-6.4"/><path class="m20" d="M111.5 22.7l1.6 0l-2.4 30.1"/><path class="m11" d="M95.9 44.4l1.9-.6l-6.9 18.8"/><path class="m10" d="M97.4 43.2l0-1.1l-1.9 19.1l1-.6"/><path class="m01" d="M92.4 25.1l1.4-.6"/><path class="m00" d="M92.3 23.3l.1 38.9"/><path class="m10" d="M93.5 60.9l-2.6 .6"/><path class="m00" d="M91.7 60.7l3.1-.6"/><path class="m11" d="M90.9 59.5l5-17.9"/><path class="m10" d="M95.5 40.9l0 18.7l1-.6l-3 .4"/><path class="m00" d="M94.8 58.8l-3.1 .3"/><path class="m10" d="M90.9 58.4l4.6-.3l1-.6l-1-.6l0-1.4l1-.6l-3 .3l3.9 1.7l-3.9 .9"/><path class="m11" d="M95.5 54.6l0-14.7"/><path class="m10" d="M97.2 39.7l.4-1.1l-2.1 15.3l1-.6l-3 .4"/><path class="m00" d="M94.8 52.9l-2.4 4.3"/><path class="m10" d="M90.9 56.9l4.6-4.5l1-.7l-3 .4"/><path class="m11" d="M95.5 51.5l-4.6 3.8l4.6-16.5"/><path class="m10" d="M95.7 37.5l-.2 13.3l1-.6"/><path class="m11" d="M95.5 49.8l1.9-12.9l-1.7-.5"/><path class="m10" d="M97.6 36.2l-.6-1.1l-1.3-1.1l-.5-1"/><path class="m30" d="M114.5 50.7"/><path class="m11" d="M97.8 33.4"/><path class="m10" d="M97.4 32.8l0-1.1"/><path class="m11" d="M95.9 31.2"/><path class="m10" d="M95.5 30.5"/><path class="m11" d="M97.2 29.9"/><path class="m10" d="M97 29.3l.6-1.1"/><path class="m11" d="M95.5 28.5"/><path class="m10" d="M95.7 27.1"/><path class="m11" d="M97.4 26.5l-1.7-.5"/><path class="m10" d="M97.8 25.9l-.8-1.2l-1.1-1.1l1.5-.7l-1.9-.1"/><path class="m00" d="M94 22.6l-2.3 32.4"/><path class="m10" d="M90.9 54.3"/><path class="m21" d="M110 51.6"/><path class="m20" d="M111.2 50.4l1.9-.6"/><path class="m21" d="M110 49.9"/><path class="m20" d="M110.7 49.7"/><path class="m21" d="M109.8 48.2l.9-.9"/><path class="m20" d="M110 46.4"/><path class="m31" d="M116.5 50.4"/><path class="m30" d="M117.3 50.1l-.8-.6l-1.6-.1"/><path class="m31" d="M115.3 47.8"/><path class="m30" d="M113.4 47.1l3.9 .3l-.7-1.1"/><path class="m20" d="M112.4 47l-1.2-1l-.7-1.8l1.2-.7l-1.7-.9l0-1.2"/><path class="m21" d="M110.6 40.8l2-.3"/><path class="m20" d="M110.7 40.1"/><path class="m30" d="M113.6 39.4"/><path class="m20" d="M111.9 39.1l-1.8-.4l1.4-1l.7-.7l-2-.4"/><path class="m21" d="M111.6 36"/><path class="m20" d="M111.2 35l-1-.7"/><path class="m00" d="M91.7 53.4"/><path class="m11" d="M90.9 52.2"/><path class="m00" d="M92.4 51.8"/><path class="m10" d="M93.5 50.5l-2.6 .6"/><path class="m01" d="M94.8 49.8"/><path class="m00" d="M94 49.7l-2.3 .6"/><path class="m10" d="M90.9 49.6l0-1.6"/><path class="m11" d="M95.5 48.1"/><path class="m10" d="M96.5 47.5"/><path class="m11" d="M95.5 47.3"/><path class="m00" d="M94.8 47.2l-2.4 2.2l-.7-1.8"/><path class="m10" d="M90.9 46.9"/><path class="m01" d="M92.4 45.9l1.4-.6"/><path class="m10" d="M95.2 44.4"/><path class="m01" d="M94.4 43.3l-1.8-.9"/><path class="m00" d="M92.4 40.4l-.3-1.5l0-1.1l0-.9l.3-1.4"/><path class="m01" d="M93.8 34.9"/><path class="m10" d="M151.7 25.9l0-1.2l0-1.8l0 6.4l0-1.1l0 4.6l0-1.1l0 4.5l0-1.1l0 4.6l0-1.1l0 4.6l0-1.1l0 3.4l1.5 1.7l-2.9 .3l2.9 7l0-1.8l0-1.3l0-1.6l-2.9 5.1l0-1.6l0-1.6l0-1.5l2.9 11.6l0-1.8l0-1.3l0-1.6l-2.9 5l0-1.5l0-1.6l-5.8 3.6l10.1 3.2l-5.7 .8"/><path class="m30" d="M166.1 33.7l0 3.6l2.9 1.5l1.4-1l-4.3 1.6l1.4 5.3l1.5-.7l1.4-.6l-4.3 1.2l0-1.8l1.4-.5l-1.4-.6l2.9 .3l0 10l1.4-.3l-1.4-.6l1.4-.7l1.5-.3l-1.5-.6l0-1.5l1.5-.6l-4.4 3.3l0-1.3l4.4 5.7l-1.5-.9l1.5-1l-5.8 4.2l0-2l1.4-1l-1.4-.6l1.4-.2l4.4 6.3l-1.5-.4l1.5-.9l0 3.5l-5.8 .3l-5.7 2.2l-8.7 3.4"/><path class="m20" d="M161.8 64.1l-2.9 .4l2.9-33l1.4 19.4l0-1.1l-1.4-.1l0-1.5l0 13.4l1.4-.6l5.8 8.8"/><path class="m00" d="M156 65.6l-7.1-43l-1.5 25.3l0 7.4l0 7.3l-1.4-.4l1.4-1.2l-1.4 6.9"/><path class="m31" d="M167.5 62.4l0-14.5l2.9-6.1l-2.9-5l4.4-7.5"/><path class="m30" d="M171.9 28.6l-5.8 7.3l2.9 .3l2.9 5.2l-1.5-.8l1.5-1l-2.9 8.2l0-1.3l1.4-.2l-4.3 14.9l1.4-.7l0-1.2l1.5 0l0-1.6l1.4-.7l-2.9 .1"/><path class="m21" d="M161.8 59.6l0-12.3l0-17.5l1.4-.4l0-.7"/><path class="m20" d="M163.2 28l-1.4-1.1l1.4 20.1l-1.4-1l0-1.8l1.4-.7l-1.4 15l0-1.3l1.4-.3"/><path class="m21" d="M163.2 55.6l-1.4-13l0-16.7"/><path class="m20" d="M163.2 25.6l-1.4-1l1.4-.7l0 18.2"/><path class="m31" d="M163.2 54.4l7.2-18.8l1.5-.7"/><path class="m21" d="M161.8 40.8l1.4-.7l-1.4 0l1.4-1l-1.4-.4l1.4-.6l-1.4-14.7"/><path class="m20" d="M161.8 22.7l1.4 0l-1.4 15l0 16.3l1.4-.5l-1.4-.7"/><path class="m01" d="M140.2 69.9"/><path class="m30" d="M169 35l1.4-.7l-1.4-.6l2.9 .5l-1.5-.9l-1.4-.7l0-1.2l-1.5-.3l-1.4-.7l5.8 2.3"/><path class="m00" d="M138.8 69.4l1.4-.7l1.5-.4"/><path class="m10" d="M144.5 61.5"/><path class="m00" d="M146 60.7l1.4-1.2"/><path class="m10" d="M144.5 59.5"/><path class="m00" d="M146 59.1l1.4-1.2"/><path class="m10" d="M148.9 57.8l1.4-.3l1.4-.6l-2.8 0l-4.4 1.5"/><path class="m00" d="M146 57.2"/><path class="m10" d="M144.5 56.9l0-1.6"/><path class="m00" d="M146 55l1.4-1.3"/><path class="m10" d="M144.5 54.3"/><path class="m00" d="M146 53.4l1.4-1.2"/><path class="m10" d="M144.5 52.2"/><path class="m00" d="M146 51.8l1.4-1.2l1.5-.9"/><path class="m10" d="M144.5 51.1"/><path class="m01" d="M146 50.3"/><path class="m10" d="M144.5 49.6l0-1.6"/><path class="m00" d="M146 49.4l0-1.8l1.4-.6"/><path class="m10" d="M144.5 46.9"/><path class="m01" d="M146 45.9"/><path class="m00" d="M146 43.9"/><path class="m01" d="M146 42.4"/><path class="m00" d="M146 40.4"/><path class="m01" d="M146 38.9"/><path class="m00" d="M146 36.9"/><path class="m01" d="M146 35.5"/><path class="m00" d="M146 33.5"/><path class="m01" d="M146 32"/><path class="m00" d="M146 30"/><path class="m01" d="M146 28.5"/><path class="m00" d="M146 26.6"/><path class="m01" d="M146 25.1"/><path class="m00" d="M146 23.3"/><path class="m31" d="M170.4 30.9"/><path class="m30" d="M169 29.8l1.4-1.2l0-1.4l1.5-1.3l-1.5-1.3l1.5-.1l0-1.2"/><path class="m31" d="M167.5 29.2"/><path class="m30" d="M167.5 27.4l-1.4-1l2.9 .3l-2.9 2.3"/><path class="m20" d="M166.1 25.5"/><path class="m30" d="M167.5 25.2l-1.4-1.2"/><path class="m31" d="M169 24"/><path class="m30" d="M169 23.3l-1.5-.3l2.9 .2"/><path class="m21" d="M163.2 37"/><path class="m20" d="M161.8 36"/><path class="m21" d="M161.8 35"/><path class="m20" d="M161.8 34.3"/><path class="m01" d="M205.4 23.7l0 3.5l0 3.4l0 3.5l0 3.4l0 3.5l0 3.5l-4 8.9l0 7.3l4 1.9l0-1.6l0-1.5l0-1.6"/><path class="m30" d="M225.3 23l-4 .2l4 24.2l0 7.4l0-1.6l0-1.5l0-1.6l-4 6.9l0-1.9l4 7l0-1.6l0-1.6l0-1.5l-4 5l-4 .5l-11.9 4.9"/><path class="m10" d="M205.4 66.7l0-9.8l0-34l3.9 16.3l0-1.7l0-1.8l0-1.7l0-1.7l0-1.8l0-1.7l0-1.7l0-1.8l0-1.7l0-.8l0 21.6l0-1.7l0 4.8l0 9.4l0-2l0-1.6l0-1.6l0-1.5l-7.9 6.7l7.9 5.2l0-1.5l0-1.6l-7.9 7.6"/><path class="m00" d="M201.4 22.6l0 26.8l-4 18.9l4 .9l-8 .5"/><path class="m21" d="M217.3 62l0-38.6l-8 42.1"/><path class="m20" d="M209.3 64.8l8-42.1l0 38.6l-4 2.7l8 5.8"/><path class="m21" d="M213.3 62.3l0-1.5l0-1.6l0-1.6l4 2.1l0-.9"/><path class="m20" d="M217.3 58.2l0-1l-4-.3"/><path class="m21" d="M213.3 55l0-1.5l0-1.6l0-1.5l4 5.2l0-.9"/><path class="m20" d="M217.3 54l-4-4.3"/><path class="m21" d="M213.3 47.7l4 4.7l0-.8"/><path class="m20" d="M217.3 50.9l0-1.1l-4-2.8"/><path class="m31" d="M221.3 60.8l0-7.2"/><path class="m30" d="M221.3 52l0-1.6l0-1l0 9.9"/><path class="m21" d="M217.3 48.2l0-.9"/><path class="m01" d="M205.4 55.3l0-1.6l0-1.5l0-1.6"/><path class="m00" d="M205.4 49.6"/><path class="m01" d="M205.4 47.9l0-.9"/><path class="m31" d="M221.3 47.8l48.4 3.3l0 3.1l0 4.1l0 3.1l8.7 4"/><path class="m20" d="M278.4 22.7l0 34.2l-8.7 7.1l8.7 5.8"/><path class="m01" d="M261 23.7l-8.8 29.7l0 7.3l8.8 .3l0-1.5l0-1.6"/><path class="m10" d="M261 56.9l0-34l8.7 34l-17.5 0"/><path class="m00" d="M252.2 22.6l0 26.8l0 18.9"/><path class="m30" d="M269.7 49.5l0-3l0-1.1l8.7 4"/><path class="m11" d="M269.7 66.1"/><path class="m21" d="M261 65.5"/><path class="m20" d="M261 64.8"/><path class="m01" d="M261 55.3l0-1.6l0-1.5l0-1.6"/><path class="m00" d="M261 49.6"/><path class="m01" d="M261 47.9l0-.9"/><path class="m10" d="M269.7 44.4"/><path class="m31" d="M269.7 43.7"/><path class="m11" d="M269.7 42.7"/><path class="m30" d="M269.7 42"/><path class="m31" d="M269.7 40.2"/><path class="m11" d="M269.7 39.2"/><path class="m30" d="M269.7 38.5"/><path class="m10" d="M269.7 37.5"/><path class="m31" d="M269.7 36.8"/><path class="m11" d="M269.7 35.7"/><path class="m30" d="M269.7 35"/><path class="m10" d="M269.7 34"/><path class="m31" d="M269.7 33.3"/><path class="m11" d="M269.7 32.3"/><path class="m30" d="M269.7 31.6"/><path class="m10" d="M269.7 30.5"/><path class="m31" d="M269.7 29.8"/><path class="m11" d="M269.7 28.8"/><path class="m30" d="M269.7 28.1"/><path class="m10" d="M269.7 27.1"/><path class="m31" d="M269.7 26.4"/><path class="m11" d="M269.7 25.3"/><path class="m30" d="M269.7 24.6"/><path class="m10" d="M269.7 23.6l0-.8"/><path class="m01" d="M318.1 23.7l0 3.5l0 3.4l0 3.5l0 3.4l0 3.5l0 3.5l-9.3 5.8l4.6 .3l-4.6 2.8l4.6 .3l-4.6 3.8l4.6 .4l-4.6 2.8l0 9.2"/><path class="m10" d="M313.4 57.1l-4.6-.2l0-7.3l9.3-26.7l4.6 .7l-13.9 17.3l13.9 16l-4.6 8.9l4.6 .3"/><path class="m30" d="M332 23l-4.7 .2l-4.6 26.3l9.3 1.6l0-1.7l0 4.8l-4.7 2.8l4.7 1.3l0-1.3l0 4.4l-9.3 2.3"/><path class="m00" d="M308.8 68.7l4.6-19.3l0-26.8l4.7 45.3l-14 1.8"/><path class="m20" d="M322.7 22.7l4.6 27.1l-4.6 11.8l13.9 8.2"/><path class="m21" d="M322.7 41.2l0 5.2l9.3 17.7l-18.6 1.4"/><path class="m31" d="M318.1 61.1l0-1.6l9.2 5.9l0-.8"/><path class="m11" d="M308.8 46.8l4.6 15"/><path class="m01" d="M313.4 61"/><path class="m20" d="M313.4 64.8"/><path class="m10" d="M308.8 46.1"/><path class="m21" d="M327.3 63.1"/><path class="m30" d="M318.1 58"/><path class="m10" d="M318.1 56.9"/><path class="m31" d="M318.1 55.4l0-1.6l0-1.5l0-1.6"/><path class="m00" d="M318.1 49.6"/><path class="m31" d="M318.1 48"/><path class="m30" d="M318.1 47.2l60.3 2.2l9 1.7l0-1.6l0 4.7l0 4.1l0 3.1l0 5.9l-9 .5"/><path class="m11" d="M369.4 24.3l0 3.5l0 3.4l0 3.5l0 3.5l0 3.4l0 5.2l0-1.7"/><path class="m00" d="M360.4 22.6l0 32.4l0-1.6l0-1.6l0 10.4l0-1.5l0-1.6l0-1.9l9 11.2l-9 .9"/><path class="m10" d="M369.4 22.8l0 26.8l9 7.3l-9 0"/><path class="m20" d="M387.4 57.2l0-34.5l0 47.1"/><path class="m01" d="M360.4 50.3l0 16.7"/><path class="m21" d="M378.4 53.5l0 7.3"/><path class="m00" d="M360.4 49.4"/><path class="m10" d="M360.4 66.1"/><path class="m00" d="M360.4 65.1"/><path class="m31" d="M378.4 23.8"/><path class="m20" d="M378.4 22.7"/><path class="m10" d="M417.4 25.9l0-1.2l0-1.8l0 6.4l0-1.1l0 4.6l0-1.1l0 4.5l0-1.1l0 4.6l0-1.1l0 4.6l0-1.1l21.5 5.2l0-1.2l0-1.7l0-1.7l0-1.8l0-1.7l0-1.7l0-1.8l0-1.7l0-1.7l0-1.8l0-1.7l0-1.7l0-1.8l0-1.7l0-.8l-21.5 29.4l0-1.1l0-1.5l0-1.6l0-1.1l0-1.4l0 8.8l0 2.6l5.4 0"/><path class="m00" d="M428.2 22.6l5.3 26.8l-5.3 .2l10.7 16.8l-26.9 .6l26.9 2.4"/><path class="m20" d="M428.2 56.9l5.3 .3l0 6.8l10.8 5.8"/><path class="m30" d="M422.8 23l0 26.4l5.4 15.8l0 2.8"/><path class="m11" d="M438.9 54.6l0 7.3"/><path class="m10" d="M438.9 60.6l0-7.3"/><path class="m11" d="M438.9 51.5l0 7.3"/><path class="m10" d="M438.9 56.9l0-7.1"/><path class="m21" d="M433.5 23.4"/><path class="m20" d="M433.5 22.7"/><path class="m21" d="M492.3 23.4l-20.1 39.7"/><path class="m10" d="M472.2 56.9l20.1 0"/><path class="m30" d="M472.2 49.4l20.1 .1"/><path class="m00" d="M472.2 22.6"/><path class="m20" d="M492.3 22.7"/><path class="m30" d="M60.3 82.3l-4.8-4.5l-.5 4.5l1.4-.9l.7-1.3l1.3 .9l-6.7-3.4l-7.6 4.3l-4.4-1.1l-.2-3.5l1.9 .5l.8 .6l1.6 .2l1.7 1l.2 1.8l.7-.6l-2.1-3.5l1.7 0l.3 1.1l.8 .4l.4-1.5l.6 .9l-10 11.3l-1.9 18.4"/><path class="m00" d="M58.9 114.8l1.7 0l-7.4 .3l-13.6-4l-3.5 8.5l-.2 2.8l-.3-7.2l.7-1.2l-.3 2.3"/><path class="m10" d="M40.1 112.9l-.3 4l1.7 0l-1.9-12.3l-2.1-3.9l-.5 10l-1.6 13.9"/><path class="m20" d="M38.4 88.4l0-3.3l1.7-.4l.7 .9l.3-.9l1-1.1l-3.9 8.2l-2.9-11.7"/><path class="m21" d="M41.4 87.1l-1.9 1.1l15.5-4.4l3.1 .3l-13.7 4.1"/><path class="m11" d="M40.6 104.6l19.9 5.9l-21-2"/><path class="m00" d="M61 112.2l-23.4-13.2l4.4 16.7"/><path class="m10" d="M42.3 116.9l1.4 0l1.7 0l-5.4-7l.3-1.4l1-3.9l.9 0l1.4 0"/><path class="m01" d="M40.5 111.1l15.1 3.7l-5.7 0"/><path class="m00" d="M41.3 111.1l4.6 4.6"/><path class="m10" d="M46.3 116.9l-4.5-4"/><path class="m11" d="M44.6 104.6l-3.4 3.9"/><path class="m10" d="M42 108.5l.3-1.4l3-2.5l.9 0l1.4 0"/><path class="m31" d="M40.3 81.5l17.4-3.7l1.5-.2"/><path class="m30" d="M60.6 77.5l0 1.8l.2 1.5l-.1-2.4l-18.5 2.4"/><path class="m20" d="M41.9 88.4l.2-1.3l.2-1.8l1.9 .1l.4 1.7"/><path class="m21" d="M45.2 88.2l-.2-3.5l.9 1.7"/><path class="m20" d="M46.1 88.2l.2-1.1l1.7 1.1l-1.8-4.6"/><path class="m00" d="M42.1 114.5"/><path class="m30" d="M47.7 83"/><path class="m20" d="M49.4 83.2"/><path class="m11" d="M42.3 109.9l1.1-1.4"/><path class="m00" d="M43.6 111.1"/><path class="m10" d="M44.1 112.9l-.2-3l.4-1.4"/><path class="m11" d="M45.1 108.5"/><path class="m10" d="M46 108.5"/><path class="m21" d="M47.7 84.5"/><path class="m20" d="M48.2 86.4"/><path class="m21" d="M49.6 85.6"/><path class="m20" d="M50.5 86.2l1.5-.9l.8 .7l-2.1 2.2l1.5-.2l1.2-.1l.9-1.5l.4 1.5l1.5 .5"/><path class="m21" d="M56.8 87.1"/><path class="m20" d="M58.3 86.4l.7-1.3l1.3-.6l.7-.9l-2.3 4.3"/><path class="m21" d="M59.8 87.7"/><path class="m20" d="M59.9 86.9l1-1"/><path class="m01" d="M44.5 111.1"/><path class="m00" d="M45.3 111.1"/><path class="m10" d="M46.2 109.9l1.2-1.4l1.1-.8l.6 1.6l.6 1.2l-3.9 2.4"/><path class="m00" d="M46.4 114.5l1 1.2l-1.2-4.6l.1 1.1l1.3-1.1"/><path class="m11" d="M50.6 109.3l-1.1-2.8l.3 .6"/><path class="m10" d="M50.4 107.1l-2.6 9.8"/><path class="m11" d="M51.7 107.4"/><path class="m10" d="M52.3 106.8l1.3 0l.6 .9l.6 1.9l.6 .9"/><path class="m11" d="M56.3 109.3l-1.2-2.8l.4 .6"/><path class="m10" d="M56.1 107.1l1.2 .6l.7-.9l1.2-.3l.6 1.2l1-.6"/><path class="m11" d="M60.5 109.3"/><path class="m10" d="M60.9 109.9"/><path class="m15" d="M144.5 116.9l8.7-12.3l-2.9 3.9l-1.4 1.4l2.8-2.8l2.9-6.4l-15.8 23.9"/><path class="m05" d="M138.8 123l1.4-.6l7.2-9l1.5-1.2l-2.9 2.6l10-15.8l-14.3 20.6"/><path class="m35" d="M169 79.3l2.9-1.8l-1.5 .9l-2.9 3.7l0-1.3l-1.4 1.5l-5.7 7.2"/><path class="m25" d="M163.2 85.3l0-.8l0-.9l-1.4 4.1l0-.8l-2.9 4.9"/><path class="m20" d="M161.8 85.9"/><path class="m15" d="M205.4 107.1l0 2.8l-4 0l0 7l4-12.3l3.9-3.9l-3.9 .5l-8 23.4"/><path class="m35" d="M225.3 82.3l-4 0l0-1.5l0-3.2l0 1.7l0-.9l4 .4l0-1.3l-19.9 4.8l7.9 7.2l4 .6"/><path class="m05" d="M209.3 99l-7.9 13.2l0 2.6l-4 4.8l8-3.3l-8 6.1"/><path class="m25" d="M217.3 91.8l0-8.2l0 4.1l0-1l4-1.6l-12 6.7"/><path class="m20" d="M217.3 85.9l4 2.5l0-1.5l-8-.5l0-3.2l0 1.3"/><path class="m00" d="M205.4 114.5l-12 9.8"/><path class="m30" d="M225.3 80.8l-19.9-3l0 1"/><path class="m05" d="M205.4 113.4l0-1.2"/><path class="m35" d="M205.4 80.8"/><path class="m25" d="M213.3 87.1l0 1.3"/><path class="m10" d="M209.3 107.1"/><path class="m15" d="M209.3 108.5l0 1.4l51.7-2.8l0 2.8l-8.8 0l0 7l8.8-12.3l0-3.9l8.7-2.3l-17.5 26.2"/><path class="m05" d="M261 99l-8.8 13.2l0 2.6l17.5-24.7l0 10.6l-17.5 18.9l8.8-3.3l-8.8 6.1"/><path class="m35" d="M278.4 77.5l0 1.8l0 1.5l0-2.4l-17.4 .4l8.7-.8l-8.7 3l0 1.3l17.4 7.2"/><path class="m25" d="M278.4 87.7l0-.8l-8.7 1.3l0-1.1l0 4.7l8.7-8.2l-17.4 8.2"/><path class="m20" d="M278.4 85.9l-8.7-1.4l0-.9"/><path class="m30" d="M269.7 81.9l0-3l0 1"/><path class="m35" d="M269.7 82.8"/><path class="m10" d="M269.7 107.1"/><path class="m15" d="M269.7 108.5l0 1.4"/><path class="m00" d="M261 114.5"/><path class="m05" d="M261 113.4l0-1.2"/><path class="m15" d="M318.1 107.1l0 2.8l-9.3 0l4.6-5.3l4.7-3.9l4.6-2.3l-9.3 2.8l0 23.4"/><path class="m05" d="M313.4 123l0-10.8l0 2.6l4.7-2.6l-4.7-13.2l13.9 1.7l-13.9 18.9l4.7-3.3l-9.3 6.1"/><path class="m35" d="M332 82.3l-13.9-3.5l9.2-1.2l-9.2 3.4l0 1.3l9.2 7.2l4.7 .6l-18.6 17.8"/><path class="m25" d="M332 88.4l0 3.4l-9.3-7.3l0-.9l0 4.1l4.6-4.9l0 2.3l-13.9 6.7"/><path class="m00" d="M318.1 114.5l-9.3 0l13.9-24.4l-18.6 34.2"/><path class="m20" d="M322.7 86.7l0-.8l4.6 2l0-1l9.3-6.8"/><path class="m10" d="M313.4 109.9l9.3-2.8"/><path class="m15" d="M322.7 108.5l0 1.4l-13.9 3"/><path class="m30" d="M332 79.5l-9.3-1.1"/><path class="m35" d="M332 80.8l0-3.3l-4.7 4.6l0-1.3l0-1.5"/><path class="m05" d="M308.8 115.7"/><path class="m15" d="M308.8 116.9"/><path class="m25" d="M327.3 85.8"/><path class="m30" d="M327.3 78.4"/><path class="m15" d="M369.4 109.9l0-2.8l0 5.8l0 4l0-12.3l0-3.9l-9-2.3l9 26.2"/><path class="m05" d="M369.4 99l0 15.8l-9 .9l0-1.2l0-3.8l0 1.5l0 7.4l9 .6l9-3.9l-9 6.1"/><path class="m35" d="M387.4 80.6l0-1.1l0-2l0 .9l-18 3.9l0-1.5l0-1.5l9-1.3l-9 11.5l18 21.2l-9-2.8"/><path class="m25" d="M369.4 88.4l9-3.9l0-.9l0 4.1l0-.8l9-3.3l-9 8.2"/><path class="m00" d="M360.4 90.1l0 34.2"/><path class="m30" d="M378.4 78.9l0 1l0 30.8"/><path class="m35" d="M378.4 80.8l9 1.9"/><path class="m05" d="M360.4 123"/><path class="m20" d="M387.4 87.9"/><path class="m25" d="M387.4 86.7"/><path class="m20" d="M387.4 85.9"/><path class="m10" d="M378.4 107.1"/><path class="m15" d="M417.4 107.1l16.1 2.8l-10.7 3l-5.4 4l10.8-12.3l10.7 3.9l0 1.4l-16.1 7l5.4-16.2l5.3-2.3l-10.7 12.3l10.7-9.5l-10.7 23.4"/><path class="m05" d="M428.2 99l-5.4 15.8l5.4-2.6l5.3 2.3l-5.3 1.2l0-1.2l10.7-13.8l-26.9 10l0 8.9l10.8 2.8l16.1 .6"/><path class="m35" d="M422.8 77.5l0 1.8l0-.9l0 3.9l0-1.5l5.4-2.8l-5.4 11.5l0-1.1l5.4 1.7l0 17.8"/><path class="m25" d="M433.5 82.8l0 .8l0 4.3l-5.3-3.6l5.3 7.5"/><path class="m20" d="M433.5 86.9l0-1l-5.3 .7l0 1.1l16.1-7.6"/><path class="m30" d="M428.2 78.9l0 3l0-2"/><path class="m20" d="M428.2 83"/><path class="m00" d="M412 124.3"/><path class="m15" d="M472.2 109.9l0-2.8l0 9.8l20.1-12.3l0 1.9l0 10.4l-20.1-12.3l20.1-3.9l-20.1-2.3l0 2.8l20.1 23.4"/><path class="m05" d="M492.3 99l0 16.7l0-1.7l0-1.8l0 2.6l-20.1-2.6l0 2.6l20.1 4.8l0 2.8"/><path class="m25" d="M492.3 83.6l0 4.1l0 4.1"/><path class="m35" d="M472.2 77.5l0 1.8l0-.9l0 11.1"/><path class="m00" d="M472.2 124.3"/><path class="m15" d="M492.3 110.5l0-1.2"/><path class="m05" d="M472.2 123"/><path class="m25" d="M472.2 88l0-.9l0-2l0-1.1l0 2.4"/><path class="m35" d="M472.2 82.3l0-1.5"/><path class="m30" d="M492.3 77.8"/><path class="m35" d="M492.3 78.8l0 1.3"/><path class="m20" d="M492.3 86.9l0-1"/><path class="m30" d="M60.6 136.1l.2 2l-3.1-6.1l-2.5 2l-4 0l-2.2 6.2l-1-4.1l1.3 0l1.2 0l1.7 0l-6.7 0l-3.6 0l-1-2.1l1.3 0l1.6 0l-3.8 6.2l2 0l-2.5-8.2l1.9 0l1.9 0l1 0l1.7 0l-7.9 16.4l-1.9 12.4"/><path class="m31" d="M43.1 140.2l2.1-6.2l1.1 0l7.3 2.1l.6 0l1.4 0l-5.6 4.1l.6 0l8.6-8.2l.7 2l.1-2l-5.3 0l-1.7 8.2l-2.3-8.2l-10.4 6.1l.7 0"/><path class="m00" d="M61 164.9l-.4 4.1l-14.2 0l-2.4-2l1.7 0l2 0l-7.6 0l1.7 0l.3 2l-4.5-14.4l-1.3 14.4l-.2 6.2l-.6 4.1l.4-2"/><path class="m30" d="M42.2 138.1l9.5-6.1l2.1 8.2l1.2 0l.5-8.2l5.1 0l.1 2l-4.5 2.1l.9 0l-.7 2l2 0l-11.3-4.1l1 0l-.6-2l-3.5 8.2"/><path class="m10" d="M48.5 160.8l-6.2 0l-2.5 10.3l1.7 0l.8 0l1.4 0l1.7 0l.9 0l-6.7-12.4l-2.1-2l-.5 8.2"/><path class="m21" d="M59.4 144.3l.9 0l-4.1 2.1l-10.6-2.1l-1 2.1l1.7 0l-4-2.1l-2.2 0"/><path class="m20" d="M48.2 146.4l-2-2.1l14.8 0l-22.6 2.1l22.5 0l-18.8 0l-3.9 4.1l-2.9-14.4"/><path class="m11" d="M40.6 158.7l6.5 12.4l2.7-10.3l-10.3 2.1"/><path class="m10" d="M40.3 162.9l10.1-2.1l-2.6 10.3l-6.5-12.4l.9 0l1.4 0"/><path class="m11" d="M44.6 158.7l7.1 2.1l-10.5 2.1"/><path class="m10" d="M42 162.9l10.3-2.1l-7-2.1l.9 0l1.4 0"/><path class="m11" d="M53.6 160.8l-10.2 2.1l-1.1 2"/><path class="m10" d="M44.3 162.9l9.9-2.1"/><path class="m11" d="M55.5 160.8l-10.4 2.1"/><path class="m10" d="M46 162.9l1.4 0l8.7-2.1"/><path class="m31" d="M56.8 140.2l-12.7-2.1l1.6 0"/><path class="m30" d="M46.4 138.1l11.1 2.1"/><path class="m21" d="M59.4 140.2l-11.7 4.1l1.9 0"/><path class="m00" d="M46.3 164.9"/><path class="m30" d="M60.3 140.2"/><path class="m11" d="M57.3 160.8"/><path class="m10" d="M58 160.8"/><path class="m11" d="M59.2 160.8"/><path class="m10" d="M59.8 160.8l1 0"/><path class="m15" d="M95.5 164.9l1.9-4.1l-6.5 10.3l8.2-12.4l-2.6 4.2l5.2-6.2l-16 22.6"/><path class="m05" d="M86.8 179.3l.4-2l6.8-12.4l-1.7 4.1l.9-2l9.6-12.4l-13.7 20.6"/><path class="m35" d="M114.9 138.1l1.6-4.1l-.6 2.1l1.2-4.1l-3.2 8.2l-4.8 8.2"/><path class="m25" d="M112.4 144.3l.7 0l-2.3 2.1l-3.2 4.1"/><path class="m20" d="M111.5 146.4"/><path class="m35" d="M221.3 138.1l0-2l4 4.1l-4 0l0-8.2l0 2l4 0l0-2l0 4.1l0 2l-19.9 0l0 2.1l7.9 8.2l4 0"/><path class="m25" d="M217.3 146.4l-4 0l4-2.1l4 2.1l0-2.1l-4-4.1l-4 4.1l4 6.2l-8 0"/><path class="m05" d="M201.4 164.9l0 4.1l4-4.1l0 4.1l0-2l3.9-12.4l-11.9 20.6l0 4.1l0-2"/><path class="m15" d="M205.4 160.8l-4 10.3l7.9-8.2l0 2l0-8.2l-3.9 0l0 2"/><path class="m00" d="M193.4 179.3"/><path class="m30" d="M205.4 132"/><path class="m35" d="M205.4 134"/><path class="m10" d="M209.3 160.8"/><path class="m05" d="M252.2 164.9l8.8 0l0 4.1l0-2l-8.8 0l0 2l17.5-20.6l-8.7 6.2l8.7 2.1l-17.5 18.5l0 4.1l0-2"/><path class="m35" d="M278.4 136.1l0 2l0-6.1l0 2l0 6.2l-17.4 0l8.7 0l0-2.1l0-2l-8.7-4.1l0 2l8.7-2l0 2l8.7 14.4"/><path class="m25" d="M278.4 146.4l-8.7 0l8.7-2.1l-8.7 0l0 6.2l-8.7 0"/><path class="m15" d="M261 160.8l-8.8 10.3l17.5-8.2l0 2l-8.7-8.2l0 2l8.7-4.1"/><path class="m10" d="M269.7 160.8"/><path class="m30" d="M261 136.1"/><path class="m35" d="M261 138.1l66.3 0l0-2l4.7 4.1l0-4.1l0 2l-13.9 2.1l9.2-8.2l0 2l4.7 0l0-2l-13.9 0l0 2l13.9 10.3l-4.7 4.1l4.7 0l-18.6 12.4"/><path class="m05" d="M313.4 164.9l4.7 0l-4.7 2.1l0 2l4.7 0l-9.3-2l0 2l4.6-14.4l13.9 2.1l-13.9 18.5l-4.6 2.1l4.6 2"/><path class="m25" d="M332 146.4l-4.7 0l-4.6-2.1l4.6-4.1l0 4.1l-4.6-4.1l9.3 10.3l-18.6 0"/><path class="m15" d="M318.1 160.8l-9.3 4.1l0 6.2l13.9-8.2l0 2l-4.6-8.2l4.6-2.1l-9.3 2.1l0 2"/><path class="m00" d="M322.7 148.4l-18.6 30.9"/><path class="m30" d="M318.1 136.1l4.6-2.1"/><path class="m20" d="M336.6 136.1"/><path class="m35" d="M318.1 138.1"/><path class="m25" d="M322.7 146.4"/><path class="m10" d="M322.7 160.8"/><path class="m35" d="M387.4 132l0 2l-18 4.1l0-2l9 4.1l9-2.1l0-2l-18 4.1l9-4.1l0 2l9 2.1l-18-8.2l0 2l9-2l0 2l-9 10.3l0 4.1l18 16.5"/><path class="m05" d="M360.4 164.9l9 4.1l-9-2l0 2l9-14.4l-9 20.6l9 0l9-6.2l-18 10.3"/><path class="m15" d="M369.4 160.8l0 10.3l0-8.2l0 2l9-4.1l-9-4.1l0 2l-9-4.1l9 24.7"/><path class="m25" d="M369.4 146.4l9-2.1l9 2.1l0-2.1l-9 2.1l0 4.1"/><path class="m05" d="M369.4 177.3"/><path class="m30" d="M378.4 164.9"/><path class="m00" d="M360.4 148.4"/><path class="m15" d="M417.4 160.8l16.1 4.1l-10.7 0l-5.4 6.2l21.5-8.2l0 2l-16.1 6.2l5.4-14.4l0 2l5.3-4.1l0 2.1l-10.7 22.6"/><path class="m05" d="M422.8 177.3l5.4-12.4l-5.4 4.1l10.7 0l-5.3-2l0 2l0-14.4l10.7 2.1l-26.9 8.2l0 10.3l26.9 4.1"/><path class="m35" d="M422.8 136.1l0 2l0-6.1l0 2l0 6.2l5.4-6.2l0 6.2l0-2.1l0-2l-5.4 8.2l0 4.1l0-2l5.4 2l0 12.4"/><path class="m25" d="M428.2 146.4l5.3-2.1l0 2.1l0-6.2l-5.3 4.1l5.3 6.2"/><path class="m20" d="M444.3 136.1"/><path class="m00" d="M412 179.3"/><path class="m15" d="M472.2 160.8l20.1 0l-20.1 10.3l20.1-8.2l0 2l-20.1-2l20.1 8.2l0-14.4l0 2l-20.1-4.1l0 2.1l0 2l20.1 20.6"/><path class="m05" d="M492.3 177.3l-20.1-12.4l0 2.1l0 2l20.1-2l0 2l0-14.4l0 20.6l-20.1 4.1"/><path class="m35" d="M472.2 136.1l0 2l0-6.1l0 2l0 6.2l20.1 0l0-2.1l0-2l0-4.1l0 2l-20.1 14.4"/><path class="m25" d="M472.2 146.4l20.1-2.1l0 2.1l-20.1-2.1l20.1 6.2"/><path class="m20" d="M61 198.5l-14.8 0l-4.1 0l-3.7 5.9l-.4 6l-2.7-17.8"/><path class="m30" d="M60.8 186.7l-.1 5.9l-14.3 0l-4.2 0l-2.7-5.9l.8 0l.9 0l.8 0l1.5 0l.8 0l.9 0l.8 0"/><path class="m00" d="M61 222.2l-14.7-5.9l-10.2 11.8l-.8 5.9"/><path class="m10" d="M60.8 216.3l-18.5 0l-5.3 0"/><path class="m01" d="M46.4 222.2l-10.8 0"/><path class="m21" d="M46.3 204.4l-4 0"/><path class="m11" d="M39.5 210.4l2.8 11.8"/><path class="m10" d="M40.3 210.4l-3.3 11.8"/><path class="m20" d="M47.7 204.4"/><path class="m11" d="M41.2 210.4"/><path class="m10" d="M42.3 210.4"/><path class="m11" d="M43.4 210.4"/><path class="m10" d="M44.3 210.4"/><path class="m11" d="M45.1 210.4"/><path class="m10" d="M46 210.4l1.4 0l1.7 0l1 0l1.9 0l.9 0l1 0l.9 0l.9 0l1 0l.9 0l1 0l.9 0l1.4 0"/><path class="m31" d="M47.5 186.7"/><path class="m15" d="M95.5 216.3l0 5.9l-4.6 0l8.2-5.9l-1.7 0l4.3-5.9l-.4 5.9l-15.6 11.8"/><path class="m05" d="M87.2 228.1l1.9 0l13.7-17.7l-10.5 11.8l1.7 0l-2.7-5.9"/><path class="m25" d="M110.3 198.5l1.8-5.9l-4.5 5.9l0 11.9"/><path class="m35" d="M113.9 192.6l1 0l1.6 0l.6-5.9l-3.2 0l0 29.6l-4.8-11.9"/><path class="m00" d="M92.4 216.3l-6.4 17.7"/><path class="m30" d="M114.9 186.7l2 29.6l-.6 0"/><path class="m20" d="M111.5 198.5l-1.7-5.9l1 0"/><path class="m25" d="M113.1 198.5l-2.4 5.9l-.9 0"/><path class="m05" d="M94 216.3"/><path class="m35" d="M114.9 216.3"/><path class="m10" d="M97.4 210.4"/><path class="m15" d="M95.5 210.4"/><path class="m20" d="M112.4 204.4"/><path class="m35" d="M166.1 186.7l0 5.9l1.4 0l1.5 0l2.9 0l-1.5 0l-1.4-5.9l-1.5 0l2.9 0l1.5 0l-5.8 29.6l1.4 0l-7.1-11.9l0-5.9"/><path class="m25" d="M161.8 198.5l1.4 0l-4.3 0l2.9 5.9l1.4 0l0-11.8l-1.4 0l4.3 5.9l-7.2 11.9"/><path class="m05" d="M148.9 222.2l-2.9-5.9l1.4 0l1.5 0l-10.1 11.8l1.4 0l1.5 0"/><path class="m15" d="M144.5 222.2l10.1-11.8l0 5.9l-1.4 0l-1.5 0"/><path class="m05" d="M156 210.4l-10 11.8"/><path class="m00" d="M138.8 234"/><path class="m30" d="M171.9 216.3"/><path class="m35" d="M170.4 216.3"/><path class="m10" d="M151.7 210.4"/><path class="m15" d="M150.3 210.4l-1.4 0"/><path class="m25" d="M278.4 198.5l0 5.9l-8.7-5.9l0 5.9l-8.7 6"/><path class="m05" d="M252.2 222.2l0-5.9l8.8 5.9l-8.8 5.9"/><path class="m35" d="M278.4 186.7l0 5.9l-17.4 0l8.7 0"/><path class="m15" d="M269.7 210.4l-8.7 5.9"/><path class="m00" d="M252.2 234"/><path class="m05" d="M313.4 222.2l0-5.9l-4.6 0l18.5-5.9l-9.2 11.8l-4.7 5.9l-4.6 0"/><path class="m35" d="M332 186.7l-4.7 5.9l4.7 0l-4.7-5.9l-9.2 5.9l13.9 5.9"/><path class="m25" d="M322.7 198.5l4.6 0l-4.6 5.9l4.6 0l-13.9 6"/><path class="m15" d="M322.7 210.4l-4.6 5.9l-9.3 5.9l9.3-11.8"/><path class="m20" d="M336.6 192.6"/><path class="m00" d="M304.1 234"/><path class="m30" d="M322.7 192.6"/><path class="m35" d="M378.4 186.7l9 5.9l-18 0l18-5.9l-9 29.6l-9-11.9l18 17.8"/><path class="m05" d="M360.4 222.2l9 0l-9-5.9l0 11.8l9 0"/><path class="m25" d="M378.4 198.5l9 0l-9-5.9l0 11.8l-9-5.9"/><path class="m15" d="M369.4 210.4l0 5.9l9-5.9l-18 0"/><path class="m00" d="M360.4 204.4l0 29.6"/><path class="m05" d="M428.2 222.2l-5.4 0l5.4-5.9l5.3 5.9l-5.3-11.8l-16.2 11.8l0 5.9l10.8 0l16.1 0"/><path class="m25" d="M433.5 198.5l0-5.9l-5.3 5.9l0 5.9l5.3 0l0 6"/><path class="m35" d="M422.8 186.7l0 5.9l5.4 0l-5.4 23.7l0-17.8l0 5.9"/><path class="m15" d="M438.9 210.4l-21.5 5.9l16.1 0l5.4 5.9l-21.5 0"/><path class="m10" d="M417.4 210.4l21.5 5.9"/><path class="m20" d="M444.3 192.6"/><path class="m00" d="M412 234"/><path class="m05" d="M472.2 222.2l20.1-5.9l0 5.9l0 5.9l-20.1 0"/><path class="m25" d="M492.3 198.5l-20.1 0l20.1-5.9l0 11.8l-20.1 0"/><path class="m35" d="M472.2 186.7l0 5.9l20.1-5.9"/><path class="m15" d="M472.2 210.4l0 5.9l20.1-5.9"/><path class="m00" d="M472.2 234"/><path class="m20" d="M61 241.4l-22.6 15.8l-.4 15.7l-2.7-31.5"/><path class="m00" d="M61 288.7l-14.7-15.8l-10.2 15.8"/><path class="m10" d="M60.9 257.2l-.1 15.7l-18.5 0"/><path class="m11" d="M42.3 257.2l0 31.5"/><path class="m30" d="M50.5 257.2l-4.2 0"/><path class="m21" d="M42.3 241.4"/><path class="m01" d="M46.4 288.7"/><path class="m31" d="M46.4 241.4"/><path class="m35" d="M117.1 241.4l-.6 0l-1.6 0l-1 31.5l2.4 0l-2.7-15.7l3.2 0l-7.7-15.8"/><path class="m15" d="M95.5 272.9l0 15.8l3.6-15.8l-1.7 0l4.3 0l-16 15.8"/><path class="m05" d="M87.2 288.7l1.9 0l13.7-15.8l5.9-15.7l-7 0l-10.4 15.7"/><path class="m25" d="M110 257.2l.7 0l-3.1 0l3.2-15.8l-3.2 31.5"/><path class="m15" d="M103.2 257.2l-12.3 31.5"/><path class="m05" d="M92.3 288.7l1.7 0"/><path class="m10" d="M97.4 257.2"/><path class="m15" d="M95.5 257.2"/><path class="m30" d="M116.2 257.2l-.7 0"/><path class="m00" d="M92.4 272.9"/><path class="m05" d="M94 272.9"/><path class="m20" d="M111.5 241.4"/><path class="m25" d="M113.1 241.4"/><path class="m35" d="M169 241.4l2.9 0l-1.5 0l-4.3 0l1.4 0l0 15.8l-1.4 0l5.8 15.7l0-15.7l-1.5 0l-1.4 0l-8.6-15.8"/><path class="m05" d="M146 272.9l1.4 0l1.5 0l-1.5 15.8l1.5 0l11.5-31.5l-5.8 0l-15.8 31.5l1.4 0l1.5 0"/><path class="m25" d="M158.9 257.2l2.9-15.8l1.4 0l0 15.8l-1.4 0l-2.9 15.7"/><path class="m15" d="M156 257.2l-11.5 31.5l10.1-15.8l-1.4 0l-1.5 0"/><path class="m05" d="M156 272.9l-10 15.8"/><path class="m10" d="M151.7 257.2"/><path class="m15" d="M150.3 257.2l-1.4 0"/><path class="m30" d="M169 272.9"/><path class="m35" d="M170.4 272.9l-2.9 0l-1.4 0"/><path class="m25" d="M217.3 241.4l-4 0l4 15.8l-4 0l-4 15.7"/><path class="m05" d="M201.4 288.7l4 0l-4-15.8l-4 15.8"/><path class="m35" d="M225.3 241.4l-4 0l0 31.5l0-15.7"/><path class="m15" d="M209.3 257.2l-3.9 15.7"/><path class="m00" d="M193.4 288.7"/><path class="m35" d="M332 241.4l-4.7 0l0 15.8l4.7 0"/><path class="m15" d="M322.7 257.2l-4.6 15.7l-9.3 15.8"/><path class="m05" d="M313.4 288.7l0-15.8"/><path class="m20" d="M336.6 241.4"/><path class="m00" d="M304.1 288.7"/><path class="m25" d="M322.7 241.4"/><path class="m35" d="M369.4 241.4l9 15.8l9 0l-9 15.7l9 0"/><path class="m05" d="M360.4 288.7l9 0l-9-15.8l0-15.7"/><path class="m15" d="M369.4 257.2l0 15.7"/><path class="m25" d="M378.4 241.4l9 0"/><path class="m05" d="M428.2 288.7l-5.4 0l5.4-15.8l5.3 15.8l-21.5-15.8l0 15.8"/><path class="m15" d="M438.9 257.2l-21.5 15.7l16.1 0l5.4 15.8l-21.5 0"/><path class="m35" d="M422.8 241.4l0 31.5l5.4-15.7l-5.4 0"/><path class="m25" d="M433.5 241.4l-5.3 0l5.3 15.8"/><path class="m10" d="M417.4 257.2l21.5 15.7"/><path class="m20" d="M444.3 241.4"/><path class="m05" d="M472.2 288.7l20.1-15.8l0 15.8"/><path class="m15" d="M472.2 257.2l0 15.7l20.1-15.7"/><path class="m35" d="M472.2 241.4"/><path class="m25" d="M492.3 241.4"/><path class="m00" d="M61 329.9l-14.7-6.8l-10 0l-.4 13.6l-.6 6.7"/><path class="m20" d="M61 316.4l-14.8-6.8l-8.2 20.3l-2.7-33.8"/><path class="m31" d="M46.3 316.4l-4.1-13.6l0 6.8l-3.6 6.8"/><path class="m11" d="M46.3 336.7l-4-20.3l0 20.3l-.1-6.8"/><path class="m10" d="M48.2 336.7l-10.7-13.6l23.3 0l-9.8 13.6l-8.7-13.6"/><path class="m30" d="M60.8 302.8l-.1 6.8l-14.3-6.8"/><path class="m01" d="M46.4 329.9"/><path class="m35" d="M117.1 302.8l-3.2 0l1 0l-1 20.3l2.4 0l-2.2-13.5l.8 0l-5.8 0l-12.2 20.3"/><path class="m15" d="M95.5 323.1l1.9 0l1.7 6.8l2.6-6.8l1.5-6.7l-1.9 13.5l-15.6 0"/><path class="m05" d="M86.8 329.9l16 0l-10.5 0l-.6 6.8l10-27.1l-12.6 20.3l2.2-6.8l-4.1 13.6"/><path class="m00" d="M92.4 323.1l16.3-6.7l-22.7 27"/><path class="m25" d="M110.3 316.4l-.5-13.6l-2.2 0l0 27.1"/><path class="m20" d="M111.5 316.4l-1.3-6.8l.6 0l4.6-13.5"/><path class="m15" d="M93.5 336.7l2 0l-4.6 0"/><path class="m25" d="M111.6 309.6l1.5 6.8"/><path class="m10" d="M95.5 329.9l1.9-13.5"/><path class="m05" d="M94 329.9l0-6.8"/><path class="m30" d="M116.5 309.6l0 6.8"/><path class="m15" d="M95.5 316.4"/><path class="m05" d="M148.9 323.1l-1.5 6.8l1.5 0l-2.9 0l0-6.8l1.4 13.6l-1.4 0l8.6-27.1l-12.9 20.3l-1.5 6.8l-1.4-6.8"/><path class="m35" d="M166.1 302.8l5.8 6.8l-1.5-6.8l1.5 0l-2.9 0l-1.5 0l4.4 20.3l-11.5-13.5l0-6.8l-8.7 27.1"/><path class="m15" d="M144.5 336.7l4.4 0l2.8-13.6l2.9 0l1.4-6.7l-1.4 13.5l-1.4 0"/><path class="m25" d="M161.8 302.8l-2.9 0l7.2 6.8l-2.9 0l-1.4 0l4.3 6.8l-7.2 13.5"/><path class="m00" d="M160.4 316.4l-21.6 27"/><path class="m35" d="M167.5 309.6l1.5 0l1.4 0l-7.2-6.8"/><path class="m30" d="M169 323.1l1.4-6.7"/><path class="m35" d="M170.4 323.1l-2.9 0l-1.4 0"/><path class="m20" d="M169 296.1"/><path class="m05" d="M156 329.9"/><path class="m25" d="M161.8 316.4l1.4 0"/><path class="m10" d="M151.7 316.4"/><path class="m15" d="M150.3 316.4l-1.4 0"/><path class="m05" d="M201.4 329.9l4 0l0 6.8l3.9-27.1l-7.9 13.5l-4 6.8l0 6.8"/><path class="m35" d="M225.3 302.8l-4 6.8l0-6.8l4 6.8l-4 13.5l-4-20.3"/><path class="m25" d="M217.3 316.4l0-6.8l-4 6.8l0-6.8l-4 20.3"/><path class="m15" d="M209.3 316.4l-3.9 6.7l-4 13.6l7.9-13.6"/><path class="m20" d="M221.3 296.1"/><path class="m00" d="M193.4 343.4"/><path class="m30" d="M221.3 316.4"/><path class="m35" d="M278.4 302.8l0 6.8l-8.7 0l0-6.8"/><path class="m15" d="M269.7 316.4l-8.7 6.7l-8.8 13.6"/><path class="m05" d="M252.2 329.9l8.8 0"/><path class="m20" d="M278.4 296.1"/><path class="m00" d="M252.2 343.4"/><path class="m25" d="M278.4 316.4"/><path class="m35" d="M378.4 302.8l9 6.8l-18 0l18-6.8l-9 20.3l9 6.8"/><path class="m05" d="M360.4 329.9l9 0l-9-6.8l0 13.6l0-20.3"/><path class="m25" d="M378.4 316.4l9 0l-9-6.8l-9-6.8l9 27.1"/><path class="m15" d="M369.4 316.4l0 6.7l0 13.6"/><path class="m20" d="M387.4 296.1"/><path class="m00" d="M360.4 343.4"/><path class="m05" d="M428.2 329.9l-5.4 0l5.4-6.8l5.3 6.8l-5.3 6.8l10.7-27.1l-26.9 20.3"/><path class="m15" d="M438.9 316.4l-21.5 6.7l16.1 0l5.4 13.6l-16.1 0l-5.4 0l21.5-6.8"/><path class="m35" d="M422.8 302.8l0 6.8l0 13.5l5.4-13.5l-5.4 6.8l5.4-13.6"/><path class="m25" d="M433.5 316.4l0-6.8l-5.3 6.8l5.3-13.6"/><path class="m00" d="M433.5 336.7l-21.5 6.7"/><path class="m10" d="M417.4 316.4l21.5 6.7"/><path class="m20" d="M444.3 296.1"/><path class="m15" d="M472.2 316.4l0 6.7l20.1 13.6l-20.1 0"/><path class="m35" d="M472.2 302.8l0 6.8l20.1-6.8"/><path class="m05" d="M472.2 329.9l20.1-6.8l0 6.8"/><path class="m25" d="M492.3 316.4l0-6.8"/><path class="m20" d="M492.3 296.1"/><path class="m00" d="M472.2 343.4"/><path class="m20" d="M61 366.6l-.1-15.8l-25.6 0"/><path class="m30" d="M36.6 350.8l9.7 0l-9.9 15.8"/><path class="m00" d="M61 398.1l-18.9 0l-4.3 0"/><path class="m11" d="M46.3 382.3l-4-15.7l0 15.7"/><path class="m01" d="M46.4 398.1l-10.3-15.8"/><path class="m21" d="M42.1 350.8"/><path class="m31" d="M46.4 366.6"/><path class="m10" d="M60.9 382.3"/><path class="m15" d="M93.5 382.3l-2.6 0l8.2 0l-1.7 0l-1.9 0l6.2 0l1.5 15.8l-17.5-15.8"/><path class="m05" d="M87.2 382.3l1.5 0l14.1 0l-10.5 0l.1 15.8l2.6 0l-1 0l-4.9 0l2.2-31.5"/><path class="m35" d="M113.9 382.3l1 0l1 0l-2.2-31.5l1.3 0l.8 0l1.3 0l-.6 0l.3 15.8l-7.7 15.7l-14.1-31.5"/><path class="m25" d="M109.8 382.3l1-15.7l1.6 0l-4.8 0"/><path class="m00" d="M108.7 398.1l-22.7 0"/><path class="m30" d="M116.2 366.6l-21.2 0"/><path class="m05" d="M86.8 398.1"/><path class="m35" d="M114.9 366.6"/><path class="m25" d="M113.1 366.6"/><path class="m10" d="M97.4 366.6"/><path class="m20" d="M110.2 350.8l1.3 0"/><path class="m35" d="M171.9 350.8l-5.8 15.8l0 15.7l1.4 0l-1.4-31.5l1.4 0l1.5 0l1.4 0l1.5 31.5l-1.5 0l-1.4 0l2.9-15.7l-1.5 0l-1.4 0l-1.5 0l-7.1 15.7l-11.5-31.5"/><path class="m15" d="M144.5 382.3l5.8 0l-1.4 0l2.8-15.7l2.9 15.7l-1.4 0l-1.5 0l4.3 15.8l-17.2-15.8"/><path class="m05" d="M140.2 382.3l1.5 0l14.3 0l-10 0l1.4 15.8l1.5 0l-2.9 0l-4.3 0l4.3-31.5l-7.2 31.5"/><path class="m25" d="M161.8 382.3l1.4-31.5l-1.4 0l0 15.8l1.4 0l-4.3 0"/><path class="m30" d="M148.9 366.6"/><path class="m35" d="M163.2 382.3"/><path class="m00" d="M160.4 398.1"/><path class="m35" d="M225.3 366.6l-4-15.8l0 31.5l4-31.5l-19.9 15.8l7.9 15.7l-11.9-31.5"/><path class="m05" d="M201.4 398.1l0-15.8l4 15.8l-8 0l0-15.8"/><path class="m25" d="M217.3 366.6l0-15.8l4 15.8l-8 0l4 15.7"/><path class="m15" d="M209.3 382.3l-3.9 0l3.9-15.7l0 31.5"/><path class="m00" d="M213.3 398.1l-19.9 0"/><path class="m35" d="M278.4 382.3l-8.7-15.7l0-15.8l-8.7 15.8l0-15.8"/><path class="m05" d="M252.2 398.1l0-15.8l8.8 15.8l8.7 0"/><path class="m15" d="M269.7 382.3l-8.7 0"/><path class="m25" d="M278.4 366.6l0-15.8"/><path class="m35" d="M332 366.6l-4.7-15.8l0 31.5l4.7-31.5l-13.9 15.8l-4.7-15.8"/><path class="m05" d="M313.4 398.1l0-15.8l4.7 15.8l-9.3 0l13.9 0"/><path class="m25" d="M322.7 366.6l0-15.8l4.6 15.8l4.7 15.7l-18.6-15.7"/><path class="m15" d="M322.7 382.3l-4.6 0l-9.3 0"/><path class="m20" d="M336.6 350.8"/><path class="m00" d="M304.1 398.1"/><path class="m05" d="M428.2 398.1l5.3 0l-10.7 0l-10.8 0l0-15.8l26.9 15.8"/><path class="m15" d="M438.9 382.3l-21.5 0l16.1 0l-5.3 0"/><path class="m35" d="M422.8 366.6l0-15.8l0 31.5l5.4-15.7"/><path class="m25" d="M433.5 366.6l0-15.8"/><path class="m20" d="M444.3 350.8"/><path class="m10" d="M417.4 366.6"/><path class="m05" d="M472.2 398.1l20.1 0"/><path class="m15" d="M472.2 382.3l20.1 0"/><path class="m35" d="M472.2 366.6l0-15.8"/><path class="m25" d="M492.3 366.6l0-15.8"/><path class="m20" d="M61 421.3l-18.9 0l-3.7 0l-3.1-15.8"/><path class="m00" d="M61 429.2l-24.2 23.6l-1.3-39.4l1.6 0"/><path class="m30" d="M60.8 437l-24.6-7.8l1.6 0"/><path class="m11" d="M42.3 437l0-23.6"/><path class="m10" d="M46.2 413.4l-3.9 31.5l1.4 0l1.7 0l.9 0"/><path class="m11" d="M47.1 444.9l.7 0l-.3-31.5"/><path class="m10" d="M48.2 413.4l.9 0l1 0l.9 0l1 0l.9 0l1 0l.9 0l.9 0l1 0l.9 0l1 0l.9 0l1.4 0l-12.4 31.5"/><path class="m01" d="M46.4 421.3l-.1 7.9"/><path class="m21" d="M42.3 429.2"/><path class="m11" d="M49.8 444.9"/><path class="m10" d="M50.4 444.9"/><path class="m11" d="M51.7 444.9"/><path class="m10" d="M52.3 444.9"/><path class="m11" d="M53.6 444.9"/><path class="m10" d="M54.2 444.9"/><path class="m11" d="M55.5 444.9"/><path class="m10" d="M56.1 444.9"/><path class="m11" d="M57.3 444.9"/><path class="m10" d="M58 444.9"/><path class="m11" d="M59.2 444.9"/><path class="m10" d="M59.8 444.9l1 0"/><path class="m31" d="M46.4 437"/><path class="m15" d="M95.5 413.4l1.9 31.5l-1.9-23.6l-4.6 23.6l8.2-15.7l-8.2 7.8l10.8-7.8l-6.7 7.8l-1.5 0l7.8-15.7l1.9 0l-17.5 15.7"/><path class="m05" d="M87.2 437l5.1 0l10.5-7.8l-10.4 0l1.6 0l-1.6-7.9l9.3-7.9l-6.7 39.4l-5.9 0l-2.3-39.4"/><path class="m35" d="M117.1 437l-.6 0l-2.6 0l1 0l1.9-7.8l-7.7 7.8l.7 0l-1.1-7.8l-11.8 0"/><path class="m20" d="M113.4 429.2l-2.3 0l-.8 0l5.1-23.7"/><path class="m25" d="M110.2 421.3l-2.6 0"/><path class="m20" d="M110.8 421.3l.7 0"/><path class="m00" d="M86 452.8"/><path class="m25" d="M113.1 421.3"/><path class="m30" d="M116.2 429.2l-.7 0"/><path class="m15" d="M151.7 444.9l-2.8-23.6l0 15.7l-4.4 7.9l5.8-31.5l-1.4 0l-4.4 23.6l10.1-7.8l0-7.9l1.4 0l-17.2 15.7"/><path class="m05" d="M140.2 437l15.8-7.8l-10 7.8l0-15.7l1.4 7.9l1.5 0l-2.9 0l8.6-15.8l-5.7 39.4l-7.2 0l-2.9-39.4"/><path class="m35" d="M169 437l2.9 0l-1.5 0l-4.3 0l1.4 0l2.9-7.8l-2.9 0l1.5 0l-2.9 0l-5.7 7.8l1.4 0l1.4 0l-2.8-7.8l-8.7 0"/><path class="m25" d="M161.8 421.3l1.4 0l2.9 0l-2.9 7.9l-1.4 0l-2.9-7.9"/><path class="m20" d="M169 405.5"/><path class="m00" d="M138.8 452.8"/><path class="m15" d="M153.2 429.2"/><path class="m05" d="M201.4 429.2l0 7.8l4-7.8l-4-7.9l7.9 7.9l-7.9 23.6l-4 0l0-15.8l0-23.6"/><path class="m25" d="M217.3 421.3l4 0l-4 7.9l-4 0l0-7.9l-4 0"/><path class="m35" d="M225.3 437l-4 0l0-7.8l-15.9 7.8l11.9 0l-4 0"/><path class="m15" d="M209.3 413.4l-3.9 31.5l0-23.6l-4-7.9l0 31.5"/><path class="m10" d="M209.3 444.9l-3.9-31.5"/><path class="m20" d="M221.3 405.5"/><path class="m00" d="M193.4 452.8"/><path class="m05" d="M252.2 429.2l0 7.8l8.8-7.8l-8.8-7.9l8.8 31.5l-8.8 0"/><path class="m15" d="M269.7 413.4l-8.7 31.5l0-23.6l-8.8-7.9l0 31.5"/><path class="m35" d="M278.4 437l-17.4 0l8.7-7.8l0 7.8"/><path class="m25" d="M278.4 421.3l0 7.9l-8.7-7.9"/><path class="m10" d="M269.7 444.9l-8.7-31.5"/><path class="m20" d="M278.4 405.5"/><path class="m05" d="M313.4 429.2l0 7.8l4.7-7.8l-4.7-7.9l-4.6 7.9l18.5-15.8l-13.9 39.4"/><path class="m15" d="M322.7 413.4l-4.6 31.5l0-23.6l-9.3-7.9l0 23.6l0 7.9l4.6-31.5"/><path class="m35" d="M332 437l-4.7 0l-9.2 0l9.2-7.8l-4.6 7.8l9.3-7.8"/><path class="m25" d="M322.7 421.3l4.6 0l-4.6 7.9l9.3-7.9"/><path class="m00" d="M308.8 421.3l-4.7 31.5"/><path class="m10" d="M322.7 444.9l-4.6-31.5"/><path class="m20" d="M336.6 405.5"/><path class="m05" d="M360.4 429.2l0-7.9l0 15.7l0 15.8l9 0l-9-39.4"/><path class="m15" d="M369.4 413.4l0 31.5l0-23.6l0 7.9"/><path class="m35" d="M378.4 437l9 0l-18 0l9-7.8"/><path class="m25" d="M378.4 421.3l9 0"/><path class="m20" d="M387.4 405.5"/><path class="m10" d="M378.4 444.9"/><path class="m05" d="M472.2 429.2l20.1 0l-20.1 23.6l20.1 0"/><path class="m15" d="M472.2 413.4l0 31.5l20.1-31.5l0 31.5"/><path class="m35" d="M472.2 437l20.1 0"/><path class="m25" d="M492.3 421.3l-20.1 0"/><path class="m20" d="M492.3 405.5"/><path class="m11" d="M42.3 507.5l0-47.3"/><path class="m31" d="M46.3 460.2"/><path class="m30" d="M46.4 507.5"/><path class="m20" d="M61 460.2"/><path class="m00" d="M61 507.5"/><path class="m15" d="M90.9 507.5l8.2-47.3l-1.3 0l1.3 47.3l-1.7 0l-1.9 0l6.2-47.3l-.4 47.3l1.9 0l-17.5-47.3"/><path class="m05" d="M87.2 460.2l1.9 0l13.7 0l-10.5 47.3l1.7 0"/><path class="m35" d="M117.1 507.5l-.6 0l-7.4 0"/><path class="m25" d="M110.1 507.5l1.1 0l1.6 0l-5.2-47.3"/><path class="m00" d="M86 507.5"/><path class="m15" d="M90.9 460.2"/><path class="m05" d="M92.3 460.2l1.7 0l-7.2 47.3"/><path class="m15" d="M95.2 460.2l.7 0"/><path class="m35" d="M113.9 507.5l1 0"/><path class="m30" d="M116.9 460.2"/><path class="m35" d="M116.3 460.2l-.9 0"/><path class="m20" d="M110.8 460.2l.7 0"/><path class="m25" d="M113.1 460.2"/><path class="m15" d="M144.5 507.5l5.8-47.3l0 47.3l-5.8-47.3l10.1 0l-1.4 0l-1.5 0l2.9 47.3l-1.4 0l-1.5 0l4.3 0l-17.2-47.3"/><path class="m35" d="M169 507.5l2.9 0l-1.5 0l-4.3 0l1.4 0l0-47.3l-1.4 0l5.8 0l-1.5 0l-1.4 0l-8.6 47.3"/><path class="m05" d="M140.2 460.2l1.5 0l14.3 0l-8.6 47.3l1.5 0l-2.9 0l1.4-47.3l-1.4 0l-7.2 47.3"/><path class="m25" d="M161.8 507.5l1.4 0l-1.4-47.3l1.4 0l-4.3 0"/><path class="m15" d="M148.9 460.2"/><path class="m05" d="M201.4 507.5l4-47.3l-4 0l-4 0l0 47.3"/><path class="m25" d="M217.3 460.2l0 47.3l4-47.3l-8 0l0 47.3"/><path class="m35" d="M225.3 507.5l-4 0l4-47.3"/><path class="m15" d="M209.3 507.5l-3.9 0l3.9-47.3"/><path class="m00" d="M193.4 507.5"/><path class="m05" d="M252.2 507.5l8.8-47.3l-8.8 0"/><path class="m15" d="M269.7 507.5l-8.7 0l8.7-47.3"/><path class="m35" d="M278.4 507.5"/><path class="m25" d="M278.4 460.2"/><path class="m15" d="M322.7 507.5l-4.6 0l-9.3-47.3l0 47.3"/><path class="m35" d="M332 507.5l-4.7 0l4.7-47.3"/><path class="m05" d="M313.4 507.5l4.7-47.3l-4.7 0"/><path class="m25" d="M322.7 460.2l4.6 0"/><path class="m20" d="M336.6 460.2"/><path class="m00" d="M304.1 507.5"/><path class="m05" d="M360.4 507.5l0-47.3"/><path class="m15" d="M369.4 507.5l0-47.3"/><path class="m35" d="M378.4 507.5l9 0"/><path class="m25" d="M378.4 460.2l9 0"/><path class="m05" d="M428.2 507.5l0-47.3l-16.2 47.3l0-47.3"/><path class="m15" d="M438.9 507.5l-21.5 0l21.5-47.3l-21.5 0"/><path class="m35" d="M422.8 507.5l0-47.3"/><path class="m25" d="M433.5 460.2l0 47.3"/><path class="m20" d="M444.3 460.2"/><path class="ax" d="M24.3 20.2V72.3H71.6M78.6 20.2V72.3H125.9M132.9 20.2V72.3H180.2M187.2 20.2V72.3H234.5M241.5 20.2V72.3H288.8M295.8 20.2V72.3H343.1M350.1 20.2V72.3H397.4M404.4 20.2V72.3H451.7M458.7 20.2V72.3H506M24.3 74.9V127H71.6M78.6 74.9V127H125.9M132.9 74.9V127H180.2M187.2 74.9V127H234.5M241.5 74.9V127H288.8M295.8 74.9V127H343.1M350.1 74.9V127H397.4M404.4 74.9V127H451.7M458.7 74.9V127H506M24.3 129.6V181.7H71.6M78.6 129.6V181.7H125.9M132.9 129.6V181.7H180.2M187.2 129.6V181.7H234.5M241.5 129.6V181.7H288.8M295.8 129.6V181.7H343.1M350.1 129.6V181.7H397.4M404.4 129.6V181.7H451.7M458.7 129.6V181.7H506M24.3 184.3V236.4H71.6M78.6 184.3V236.4H125.9M132.9 184.3V236.4H180.2M187.2 184.3V236.4H234.5M241.5 184.3V236.4H288.8M295.8 184.3V236.4H343.1M350.1 184.3V236.4H397.4M404.4 184.3V236.4H451.7M458.7 184.3V236.4H506M24.3 239V291.1H71.6M78.6 239V291.1H125.9M132.9 239V291.1H180.2M187.2 239V291.1H234.5M241.5 239V291.1H288.8M295.8 239V291.1H343.1M350.1 239V291.1H397.4M404.4 239V291.1H451.7M458.7 239V291.1H506M24.3 293.7V345.8H71.6M78.6 293.7V345.8H125.9M132.9 293.7V345.8H180.2M187.2 293.7V345.8H234.5M241.5 293.7V345.8H288.8M295.8 293.7V345.8H343.1M350.1 293.7V345.8H397.4M404.4 293.7V345.8H451.7M458.7 293.7V345.8H506M24.3 348.4V400.5H71.6M78.6 348.4V400.5H125.9M132.9 348.4V400.5H180.2M187.2 348.4V400.5H234.5M241.5 348.4V400.5H288.8M295.8 348.4V400.5H343.1M350.1 348.4V400.5H397.4M404.4 348.4V400.5H451.7M458.7 348.4V400.5H506M24.3 403.1V455.2H71.6M78.6 403.1V455.2H125.9M132.9 403.1V455.2H180.2M187.2 403.1V455.2H234.5M241.5 403.1V455.2H288.8M295.8 403.1V455.2H343.1M350.1 403.1V455.2H397.4M404.4 403.1V455.2H451.7M458.7 403.1V455.2H506M24.3 457.8V509.9H71.6M78.6 457.8V509.9H125.9M132.9 457.8V509.9H180.2M187.2 457.8V509.9H234.5M241.5 457.8V509.9H288.8M295.8 457.8V509.9H343.1M350.1 457.8V509.9H397.4M404.4 457.8V509.9H451.7M458.7 457.8V509.9H506"/><path class="ax" d="M35.2 72.3v1.11M47.01 72.3v1.11M58.81 72.3v1.11M70.61 72.3v1.11M24.3 69.93h-1.11M24.3 61.27h-1.11M24.3 52.61h-1.11M24.3 43.96h-1.11M24.3 35.3h-1.11M24.3 26.64h-1.11M88.2 72.3v1.11M100.57 72.3v1.11M112.94 72.3v1.11M125.31 72.3v1.11M78.6 69.93h-1.11M78.6 61.27h-1.11M78.6 52.61h-1.11M78.6 43.96h-1.11M78.6 35.3h-1.11M78.6 26.64h-1.11M134.48 72.3v1.11M148.86 72.3v1.11M163.24 72.3v1.11M177.61 72.3v1.11M132.9 69.93h-1.11M132.9 61.27h-1.11M132.9 52.61h-1.11M132.9 43.96h-1.11M132.9 35.3h-1.11M132.9 26.64h-1.11M189.43 72.3v1.11M205.36 72.3v1.11M221.28 72.3v1.11M187.2 69.93h-1.11M187.2 61.27h-1.11M187.2 52.61h-1.11M187.2 43.96h-1.11M187.2 35.3h-1.11M187.2 26.64h-1.11M243.51 72.3v1.11M260.96 72.3v1.11M278.41 72.3v1.11M241.5 69.93h-1.11M241.5 61.27h-1.11M241.5 52.61h-1.11M241.5 43.96h-1.11M241.5 35.3h-1.11M241.5 26.64h-1.11M304.12 72.3v1.11M315.73 72.3v1.11M327.35 72.3v1.11M338.96 72.3v1.11M295.8 69.93h-1.11M295.8 61.27h-1.11M295.8 52.61h-1.11M295.8 43.96h-1.11M295.8 35.3h-1.11M295.8 26.64h-1.11M351.4 72.3v1.11M369.4 72.3v1.11M387.41 72.3v1.11M350.1 69.93h-1.11M350.1 61.27h-1.11M350.1 52.61h-1.11M350.1 43.96h-1.11M350.1 35.3h-1.11M350.1 26.64h-1.11M412.03 72.3v1.11M433.53 72.3v1.11M404.4 69.93h-1.11M404.4 61.27h-1.11M404.4 52.61h-1.11M404.4 43.96h-1.11M404.4 35.3h-1.11M404.4 26.64h-1.11M472.19 72.3v1.11M492.31 72.3v1.11M458.7 69.93h-1.11M458.7 61.27h-1.11M458.7 52.61h-1.11M458.7 43.96h-1.11M458.7 35.3h-1.11M458.7 26.64h-1.11M35.2 127v1.11M47.01 127v1.11M58.81 127v1.11M70.61 127v1.11M24.3 120.92h-1.11M24.3 111.63h-1.11M24.3 102.34h-1.11M24.3 93.06h-1.11M24.3 83.77h-1.11M88.2 127v1.11M100.57 127v1.11M112.94 127v1.11M125.31 127v1.11M78.6 120.92h-1.11M78.6 111.63h-1.11M78.6 102.34h-1.11M78.6 93.06h-1.11M78.6 83.77h-1.11M134.48 127v1.11M148.86 127v1.11M163.24 127v1.11M177.61 127v1.11M132.9 120.92h-1.11M132.9 111.63h-1.11M132.9 102.34h-1.11M132.9 93.06h-1.11M132.9 83.77h-1.11M189.43 127v1.11M205.36 127v1.11M221.28 127v1.11M187.2 120.92h-1.11M187.2 111.63h-1.11M187.2 102.34h-1.11M187.2 93.06h-1.11M187.2 83.77h-1.11M243.51 127v1.11M260.96 127v1.11M278.41 127v1.11M241.5 120.92h-1.11M241.5 111.63h-1.11M241.5 102.34h-1.11M241.5 93.06h-1.11M241.5 83.77h-1.11M304.12 127v1.11M315.73 127v1.11M327.35 127v1.11M338.96 127v1.11M295.8 120.92h-1.11M295.8 111.63h-1.11M295.8 102.34h-1.11M295.8 93.06h-1.11M295.8 83.77h-1.11M351.4 127v1.11M369.4 127v1.11M387.41 127v1.11M350.1 120.92h-1.11M350.1 111.63h-1.11M350.1 102.34h-1.11M350.1 93.06h-1.11M350.1 83.77h-1.11M412.03 127v1.11M433.53 127v1.11M404.4 120.92h-1.11M404.4 111.63h-1.11M404.4 102.34h-1.11M404.4 93.06h-1.11M404.4 83.77h-1.11M472.19 127v1.11M492.31 127v1.11M458.7 120.92h-1.11M458.7 111.63h-1.11M458.7 102.34h-1.11M458.7 93.06h-1.11M458.7 83.77h-1.11M35.2 181.7v1.11M47.01 181.7v1.11M58.81 181.7v1.11M70.61 181.7v1.11M24.3 175.21h-1.11M24.3 164.92h-1.11M24.3 154.62h-1.11M24.3 144.32h-1.11M24.3 134.03h-1.11M88.2 181.7v1.11M100.57 181.7v1.11M112.94 181.7v1.11M125.31 181.7v1.11M78.6 175.21h-1.11M78.6 164.92h-1.11M78.6 154.62h-1.11M78.6 144.32h-1.11M78.6 134.03h-1.11M134.48 181.7v1.11M148.86 181.7v1.11M163.24 181.7v1.11M177.61 181.7v1.11M132.9 175.21h-1.11M132.9 164.92h-1.11M132.9 154.62h-1.11M132.9 144.32h-1.11M132.9 134.03h-1.11M189.43 181.7v1.11M205.36 181.7v1.11M221.28 181.7v1.11M187.2 175.21h-1.11M187.2 164.92h-1.11M187.2 154.62h-1.11M187.2 144.32h-1.11M187.2 134.03h-1.11M243.51 181.7v1.11M260.96 181.7v1.11M278.41 181.7v1.11M241.5 175.21h-1.11M241.5 164.92h-1.11M241.5 154.62h-1.11M241.5 144.32h-1.11M241.5 134.03h-1.11M304.12 181.7v1.11M315.73 181.7v1.11M327.35 181.7v1.11M338.96 181.7v1.11M295.8 175.21h-1.11M295.8 164.92h-1.11M295.8 154.62h-1.11M295.8 144.32h-1.11M295.8 134.03h-1.11M351.4 181.7v1.11M369.4 181.7v1.11M387.41 181.7v1.11M350.1 175.21h-1.11M350.1 164.92h-1.11M350.1 154.62h-1.11M350.1 144.32h-1.11M350.1 134.03h-1.11M412.03 181.7v1.11M433.53 181.7v1.11M404.4 175.21h-1.11M404.4 164.92h-1.11M404.4 154.62h-1.11M404.4 144.32h-1.11M404.4 134.03h-1.11M472.19 181.7v1.11M492.31 181.7v1.11M458.7 175.21h-1.11M458.7 164.92h-1.11M458.7 154.62h-1.11M458.7 144.32h-1.11M458.7 134.03h-1.11M35.2 236.4v1.11M47.01 236.4v1.11M58.81 236.4v1.11M70.61 236.4v1.11M24.3 228.11h-1.11M24.3 216.27h-1.11M24.3 204.43h-1.11M24.3 192.59h-1.11M88.2 236.4v1.11M100.57 236.4v1.11M112.94 236.4v1.11M125.31 236.4v1.11M78.6 228.11h-1.11M78.6 216.27h-1.11M78.6 204.43h-1.11M78.6 192.59h-1.11M134.48 236.4v1.11M148.86 236.4v1.11M163.24 236.4v1.11M177.61 236.4v1.11M132.9 228.11h-1.11M132.9 216.27h-1.11M132.9 204.43h-1.11M132.9 192.59h-1.11M189.43 236.4v1.11M205.36 236.4v1.11M221.28 236.4v1.11M187.2 228.11h-1.11M187.2 216.27h-1.11M187.2 204.43h-1.11M187.2 192.59h-1.11M243.51 236.4v1.11M260.96 236.4v1.11M278.41 236.4v1.11M241.5 228.11h-1.11M241.5 216.27h-1.11M241.5 204.43h-1.11M241.5 192.59h-1.11M304.12 236.4v1.11M315.73 236.4v1.11M327.35 236.4v1.11M338.96 236.4v1.11M295.8 228.11h-1.11M295.8 216.27h-1.11M295.8 204.43h-1.11M295.8 192.59h-1.11M351.4 236.4v1.11M369.4 236.4v1.11M387.41 236.4v1.11M350.1 228.11h-1.11M350.1 216.27h-1.11M350.1 204.43h-1.11M350.1 192.59h-1.11M412.03 236.4v1.11M433.53 236.4v1.11M404.4 228.11h-1.11M404.4 216.27h-1.11M404.4 204.43h-1.11M404.4 192.59h-1.11M472.19 236.4v1.11M492.31 236.4v1.11M458.7 228.11h-1.11M458.7 216.27h-1.11M458.7 204.43h-1.11M458.7 192.59h-1.11M35.2 291.1v1.11M47.01 291.1v1.11M58.81 291.1v1.11M70.61 291.1v1.11M24.3 288.73h-1.11M24.3 280.84h-1.11M24.3 272.94h-1.11M24.3 265.05h-1.11M24.3 257.16h-1.11M24.3 249.26h-1.11M24.3 241.37h-1.11M88.2 291.1v1.11M100.57 291.1v1.11M112.94 291.1v1.11M125.31 291.1v1.11M78.6 288.73h-1.11M78.6 280.84h-1.11M78.6 272.94h-1.11M78.6 265.05h-1.11M78.6 257.16h-1.11M78.6 249.26h-1.11M78.6 241.37h-1.11M134.48 291.1v1.11M148.86 291.1v1.11M163.24 291.1v1.11M177.61 291.1v1.11M132.9 288.73h-1.11M132.9 280.84h-1.11M132.9 272.94h-1.11M132.9 265.05h-1.11M132.9 257.16h-1.11M132.9 249.26h-1.11M132.9 241.37h-1.11M189.43 291.1v1.11M205.36 291.1v1.11M221.28 291.1v1.11M187.2 288.73h-1.11M187.2 280.84h-1.11M187.2 272.94h-1.11M187.2 265.05h-1.11M187.2 257.16h-1.11M187.2 249.26h-1.11M187.2 241.37h-1.11M243.51 291.1v1.11M260.96 291.1v1.11M278.41 291.1v1.11M241.5 288.73h-1.11M241.5 280.84h-1.11M241.5 272.94h-1.11M241.5 265.05h-1.11M241.5 257.16h-1.11M241.5 249.26h-1.11M241.5 241.37h-1.11M304.12 291.1v1.11M315.73 291.1v1.11M327.35 291.1v1.11M338.96 291.1v1.11M295.8 288.73h-1.11M295.8 280.84h-1.11M295.8 272.94h-1.11M295.8 265.05h-1.11M295.8 257.16h-1.11M295.8 249.26h-1.11M295.8 241.37h-1.11M351.4 291.1v1.11M369.4 291.1v1.11M387.41 291.1v1.11M350.1 288.73h-1.11M350.1 280.84h-1.11M350.1 272.94h-1.11M350.1 265.05h-1.11M350.1 257.16h-1.11M350.1 249.26h-1.11M350.1 241.37h-1.11M412.03 291.1v1.11M433.53 291.1v1.11M404.4 288.73h-1.11M404.4 280.84h-1.11M404.4 272.94h-1.11M404.4 265.05h-1.11M404.4 257.16h-1.11M404.4 249.26h-1.11M404.4 241.37h-1.11M472.19 291.1v1.11M492.31 291.1v1.11M458.7 288.73h-1.11M458.7 280.84h-1.11M458.7 272.94h-1.11M458.7 265.05h-1.11M458.7 257.16h-1.11M458.7 249.26h-1.11M458.7 241.37h-1.11M35.2 345.8v1.11M47.01 345.8v1.11M58.81 345.8v1.11M70.61 345.8v1.11M24.3 343.43h-1.11M24.3 336.67h-1.11M24.3 329.9h-1.11M24.3 323.13h-1.11M24.3 316.37h-1.11M24.3 309.6h-1.11M24.3 302.83h-1.11M24.3 296.07h-1.11M88.2 345.8v1.11M100.57 345.8v1.11M112.94 345.8v1.11M125.31 345.8v1.11M78.6 343.43h-1.11M78.6 336.67h-1.11M78.6 329.9h-1.11M78.6 323.13h-1.11M78.6 316.37h-1.11M78.6 309.6h-1.11M78.6 302.83h-1.11M78.6 296.07h-1.11M134.48 345.8v1.11M148.86 345.8v1.11M163.24 345.8v1.11M177.61 345.8v1.11M132.9 343.43h-1.11M132.9 336.67h-1.11M132.9 329.9h-1.11M132.9 323.13h-1.11M132.9 316.37h-1.11M132.9 309.6h-1.11M132.9 302.83h-1.11M132.9 296.07h-1.11M189.43 345.8v1.11M205.36 345.8v1.11M221.28 345.8v1.11M187.2 343.43h-1.11M187.2 336.67h-1.11M187.2 329.9h-1.11M187.2 323.13h-1.11M187.2 316.37h-1.11M187.2 309.6h-1.11M187.2 302.83h-1.11M187.2 296.07h-1.11M243.51 345.8v1.11M260.96 345.8v1.11M278.41 345.8v1.11M241.5 343.43h-1.11M241.5 336.67h-1.11M241.5 329.9h-1.11M241.5 323.13h-1.11M241.5 316.37h-1.11M241.5 309.6h-1.11M241.5 302.83h-1.11M241.5 296.07h-1.11M304.12 345.8v1.11M315.73 345.8v1.11M327.35 345.8v1.11M338.96 345.8v1.11M295.8 343.43h-1.11M295.8 336.67h-1.11M295.8 329.9h-1.11M295.8 323.13h-1.11M295.8 316.37h-1.11M295.8 309.6h-1.11M295.8 302.83h-1.11M295.8 296.07h-1.11M351.4 345.8v1.11M369.4 345.8v1.11M387.41 345.8v1.11M350.1 343.43h-1.11M350.1 336.67h-1.11M350.1 329.9h-1.11M350.1 323.13h-1.11M350.1 316.37h-1.11M350.1 309.6h-1.11M350.1 302.83h-1.11M350.1 296.07h-1.11M412.03 345.8v1.11M433.53 345.8v1.11M404.4 343.43h-1.11M404.4 336.67h-1.11M404.4 329.9h-1.11M404.4 323.13h-1.11M404.4 316.37h-1.11M404.4 309.6h-1.11M404.4 302.83h-1.11M404.4 296.07h-1.11M472.19 345.8v1.11M492.31 345.8v1.11M458.7 343.43h-1.11M458.7 336.67h-1.11M458.7 329.9h-1.11M458.7 323.13h-1.11M458.7 316.37h-1.11M458.7 309.6h-1.11M458.7 302.83h-1.11M458.7 296.07h-1.11M35.2 400.5v1.11M47.01 400.5v1.11M58.81 400.5v1.11M70.61 400.5v1.11M24.3 398.13h-1.11M24.3 390.24h-1.11M24.3 382.34h-1.11M24.3 374.45h-1.11M24.3 366.56h-1.11M24.3 358.66h-1.11M24.3 350.77h-1.11M88.2 400.5v1.11M100.57 400.5v1.11M112.94 400.5v1.11M125.31 400.5v1.11M78.6 398.13h-1.11M78.6 390.24h-1.11M78.6 382.34h-1.11M78.6 374.45h-1.11M78.6 366.56h-1.11M78.6 358.66h-1.11M78.6 350.77h-1.11M134.48 400.5v1.11M148.86 400.5v1.11M163.24 400.5v1.11M177.61 400.5v1.11M132.9 398.13h-1.11M132.9 390.24h-1.11M132.9 382.34h-1.11M132.9 374.45h-1.11M132.9 366.56h-1.11M132.9 358.66h-1.11M132.9 350.77h-1.11M189.43 400.5v1.11M205.36 400.5v1.11M221.28 400.5v1.11M187.2 398.13h-1.11M187.2 390.24h-1.11M187.2 382.34h-1.11M187.2 374.45h-1.11M187.2 366.56h-1.11M187.2 358.66h-1.11M187.2 350.77h-1.11M243.51 400.5v1.11M260.96 400.5v1.11M278.41 400.5v1.11M241.5 398.13h-1.11M241.5 390.24h-1.11M241.5 382.34h-1.11M241.5 374.45h-1.11M241.5 366.56h-1.11M241.5 358.66h-1.11M241.5 350.77h-1.11M304.12 400.5v1.11M315.73 400.5v1.11M327.35 400.5v1.11M338.96 400.5v1.11M295.8 398.13h-1.11M295.8 390.24h-1.11M295.8 382.34h-1.11M295.8 374.45h-1.11M295.8 366.56h-1.11M295.8 358.66h-1.11M295.8 350.77h-1.11M351.4 400.5v1.11M369.4 400.5v1.11M387.41 400.5v1.11M350.1 398.13h-1.11M350.1 390.24h-1.11M350.1 382.34h-1.11M350.1 374.45h-1.11M350.1 366.56h-1.11M350.1 358.66h-1.11M350.1 350.77h-1.11M412.03 400.5v1.11M433.53 400.5v1.11M404.4 398.13h-1.11M404.4 390.24h-1.11M404.4 382.34h-1.11M404.4 374.45h-1.11M404.4 366.56h-1.11M404.4 358.66h-1.11M404.4 350.77h-1.11M472.19 400.5v1.11M492.31 400.5v1.11M458.7 398.13h-1.11M458.7 390.24h-1.11M458.7 382.34h-1.11M458.7 374.45h-1.11M458.7 366.56h-1.11M458.7 358.66h-1.11M458.7 350.77h-1.11M35.2 455.2v1.11M47.01 455.2v1.11M58.81 455.2v1.11M70.61 455.2v1.11M24.3 452.83h-1.11M24.3 444.94h-1.11M24.3 437.04h-1.11M24.3 429.15h-1.11M24.3 421.26h-1.11M24.3 413.36h-1.11M24.3 405.47h-1.11M88.2 455.2v1.11M100.57 455.2v1.11M112.94 455.2v1.11M125.31 455.2v1.11M78.6 452.83h-1.11M78.6 444.94h-1.11M78.6 437.04h-1.11M78.6 429.15h-1.11M78.6 421.26h-1.11M78.6 413.36h-1.11M78.6 405.47h-1.11M134.48 455.2v1.11M148.86 455.2v1.11M163.24 455.2v1.11M177.61 455.2v1.11M132.9 452.83h-1.11M132.9 444.94h-1.11M132.9 437.04h-1.11M132.9 429.15h-1.11M132.9 421.26h-1.11M132.9 413.36h-1.11M132.9 405.47h-1.11M189.43 455.2v1.11M205.36 455.2v1.11M221.28 455.2v1.11M187.2 452.83h-1.11M187.2 444.94h-1.11M187.2 437.04h-1.11M187.2 429.15h-1.11M187.2 421.26h-1.11M187.2 413.36h-1.11M187.2 405.47h-1.11M243.51 455.2v1.11M260.96 455.2v1.11M278.41 455.2v1.11M241.5 452.83h-1.11M241.5 444.94h-1.11M241.5 437.04h-1.11M241.5 429.15h-1.11M241.5 421.26h-1.11M241.5 413.36h-1.11M241.5 405.47h-1.11M304.12 455.2v1.11M315.73 455.2v1.11M327.35 455.2v1.11M338.96 455.2v1.11M295.8 452.83h-1.11M295.8 444.94h-1.11M295.8 437.04h-1.11M295.8 429.15h-1.11M295.8 421.26h-1.11M295.8 413.36h-1.11M295.8 405.47h-1.11M351.4 455.2v1.11M369.4 455.2v1.11M387.41 455.2v1.11M350.1 452.83h-1.11M350.1 444.94h-1.11M350.1 437.04h-1.11M350.1 429.15h-1.11M350.1 421.26h-1.11M350.1 413.36h-1.11M350.1 405.47h-1.11M412.03 455.2v1.11M433.53 455.2v1.11M404.4 452.83h-1.11M404.4 444.94h-1.11M404.4 437.04h-1.11M404.4 429.15h-1.11M404.4 421.26h-1.11M404.4 413.36h-1.11M404.4 405.47h-1.11M472.19 455.2v1.11M492.31 455.2v1.11M458.7 452.83h-1.11M458.7 444.94h-1.11M458.7 437.04h-1.11M458.7 429.15h-1.11M458.7 421.26h-1.11M458.7 413.36h-1.11M458.7 405.47h-1.11M35.2 509.9v1.11M47.01 509.9v1.11M58.81 509.9v1.11M70.61 509.9v1.11M24.3 507.53h-1.11M24.3 498.06h-1.11M24.3 488.59h-1.11M24.3 479.11h-1.11M24.3 469.64h-1.11M24.3 460.17h-1.11M88.2 509.9v1.11M100.57 509.9v1.11M112.94 509.9v1.11M125.31 509.9v1.11M78.6 507.53h-1.11M78.6 498.06h-1.11M78.6 488.59h-1.11M78.6 479.11h-1.11M78.6 469.64h-1.11M78.6 460.17h-1.11M134.48 509.9v1.11M148.86 509.9v1.11M163.24 509.9v1.11M177.61 509.9v1.11M132.9 507.53h-1.11M132.9 498.06h-1.11M132.9 488.59h-1.11M132.9 479.11h-1.11M132.9 469.64h-1.11M132.9 460.17h-1.11M189.43 509.9v1.11M205.36 509.9v1.11M221.28 509.9v1.11M187.2 507.53h-1.11M187.2 498.06h-1.11M187.2 488.59h-1.11M187.2 479.11h-1.11M187.2 469.64h-1.11M187.2 460.17h-1.11M243.51 509.9v1.11M260.96 509.9v1.11M278.41 509.9v1.11M241.5 507.53h-1.11M241.5 498.06h-1.11M241.5 488.59h-1.11M241.5 479.11h-1.11M241.5 469.64h-1.11M241.5 460.17h-1.11M304.12 509.9v1.11M315.73 509.9v1.11M327.35 509.9v1.11M338.96 509.9v1.11M295.8 507.53h-1.11M295.8 498.06h-1.11M295.8 488.59h-1.11M295.8 479.11h-1.11M295.8 469.64h-1.11M295.8 460.17h-1.11M351.4 509.9v1.11M369.4 509.9v1.11M387.41 509.9v1.11M350.1 507.53h-1.11M350.1 498.06h-1.11M350.1 488.59h-1.11M350.1 479.11h-1.11M350.1 469.64h-1.11M350.1 460.17h-1.11M412.03 509.9v1.11M433.53 509.9v1.11M404.4 507.53h-1.11M404.4 498.06h-1.11M404.4 488.59h-1.11M404.4 479.11h-1.11M404.4 469.64h-1.11M404.4 460.17h-1.11M472.19 509.9v1.11M492.31 509.9v1.11M458.7 507.53h-1.11M458.7 498.06h-1.11M458.7 488.59h-1.11M458.7 479.11h-1.11M458.7 469.64h-1.11M458.7 460.17h-1.11"/><text x="22.08" y="71.13" text-anchor="end">0</text><text x="22.08" y="62.48" text-anchor="end">100</text><text x="22.08" y="53.82" text-anchor="end">200</text><text x="22.08" y="45.16" text-anchor="end">300</text><text x="22.08" y="36.5" text-anchor="end">400</text><text x="22.08" y="27.84" text-anchor="end">500</text><text x="14.12" y="46.25" text-anchor="middle" transform="rotate(-90 14.12 46.25)">Sample</text><text x="22.08" y="122.12" text-anchor="end">20000</text><text x="22.08" y="112.83" text-anchor="end">25000</text><text x="22.08" y="103.55" text-anchor="end">30000</text><text x="22.08" y="94.26" text-anchor="end">35000</text><text x="22.08" y="84.97" text-anchor="end">40000</text><text x="10" y="100.95" text-anchor="middle" transform="rotate(-90 10 100.95)">File_Size (bytes)</text><text x="22.08" y="176.42" text-anchor="end">0.65</text><text x="22.08" y="166.12" text-anchor="end">0.70</text><text x="22.08" y="155.82" text-anchor="end">0.75</text><text x="22.08" y="145.53" text-anchor="end">0.80</text><text x="22.08" y="135.23" text-anchor="end">0.85</text><text x="13.02" y="155.65" text-anchor="middle" transform="rotate(-90 13.02 155.65)">File_Entropy</text><text x="22.08" y="229.31" text-anchor="end">30</text><text x="22.08" y="217.47" text-anchor="end">40</text><text x="22.08" y="205.63" text-anchor="end">50</text><text x="22.08" y="193.79" text-anchor="end">60</text><text x="16.04" y="210.35" text-anchor="middle" transform="rotate(-90 16.04 210.35)">Network_Traffic (kB)</text><text x="22.08" y="289.93" text-anchor="end">3.0</text><text x="22.08" y="282.04" text-anchor="end">3.5</text><text x="22.08" y="274.15" text-anchor="end">4.0</text><text x="22.08" y="266.25" text-anchor="end">4.5</text><text x="22.08" y="258.36" text-anchor="end">5.0</text><text x="22.08" y="250.46" text-anchor="end">5.5</text><text x="22.08" y="242.57" text-anchor="end">6.0</text><text x="15.04" y="265.05" text-anchor="middle" transform="rotate(-90 15.04 265.05)">Number_of_Encrypted_Extensions</text><text x="22.08" y="344.63" text-anchor="end">5</text><text x="22.08" y="337.87" text-anchor="end">6</text><text x="22.08" y="331.1" text-anchor="end">7</text><text x="22.08" y="324.34" text-anchor="end">8</text><text x="22.08" y="317.57" text-anchor="end">9</text><text x="22.08" y="310.8" text-anchor="end">10</text><text x="22.08" y="304.04" text-anchor="end">11</text><text x="22.08" y="297.27" text-anchor="end">12</text><text x="16.04" y="319.75" text-anchor="middle" transform="rotate(-90 16.04 319.75)">Time_to_Encrypt (seconds)</text><text x="22.08" y="399.33" text-anchor="end">1.0</text><text x="22.08" y="391.44" text-anchor="end">1.5</text><text x="22.08" y="383.55" text-anchor="end">2.0</text><text x="22.08" y="375.65" text-anchor="end">2.5</text><text x="22.08" y="367.76" text-anchor="end">3.0</text><text x="22.08" y="359.86" text-anchor="end">3.5</text><text x="22.08" y="351.97" text-anchor="end">4.0</text><text x="15.04" y="374.45" text-anchor="middle" transform="rotate(-90 15.04 374.45)">Number_of_Shared_Folders</text><text x="22.08" y="454.03" text-anchor="end">60</text><text x="22.08" y="446.14" text-anchor="end">65</text><text x="22.08" y="438.25" text-anchor="end">70</text><text x="22.08" y="430.35" text-anchor="end">75</text><text x="22.08" y="422.46" text-anchor="end">80</text><text x="22.08" y="414.56" text-anchor="end">85</text><text x="22.08" y="406.67" text-anchor="end">90</text><text x="16.04" y="429.15" text-anchor="middle" transform="rotate(-90 16.04 429.15)">CPU_Usage (%)</text><text x="35.2" y="514.52" text-anchor="middle">0</text><text x="47.01" y="514.52" text-anchor="middle">250</text><text x="58.81" y="514.52" text-anchor="middle">500</text><text x="70.61" y="514.52" text-anchor="middle">750</text><text x="47.95" y="518.85" text-anchor="middle">Sample</text><text x="22.08" y="508.73" text-anchor="end">0.0</text><text x="22.08" y="499.26" text-anchor="end">0.2</text><text x="22.08" y="489.79" text-anchor="end">0.4</text><text x="22.08" y="480.32" text-anchor="end">0.6</text><text x="22.08" y="470.84" text-anchor="end">0.8</text><text x="22.08" y="461.37" text-anchor="end">1.0</text><text x="15.04" y="483.85" text-anchor="middle" transform="rotate(-90 15.04 483.85)">Suspicious_Activity</text><text x="88.2" y="514.52" text-anchor="middle">20000</text><text x="100.57" y="514.52" text-anchor="middle">30000</text><text x="112.94" y="514.52" text-anchor="middle">40000</text><text x="125.31" y="514.52" text-anchor="middle">50000</text><text x="102.25" y="518.85" text-anchor="middle">File_Size (bytes)</text><text x="134.48" y="514.52" text-anchor="middle">0.6</text><text x="148.86" y="514.52" text-anchor="middle">0.7</text><text x="163.24" y="514.52" text-anchor="middle">0.8</text><text x="177.61" y="514.52" text-anchor="middle">0.9</text><text x="156.55" y="518.85" text-anchor="middle">File_Entropy</text><text x="189.43" y="514.52" text-anchor="middle">20</text><text x="205.36" y="514.52" text-anchor="middle">40</text><text x="221.28" y="514.52" text-anchor="middle">60</text><text x="210.85" y="518.85" text-anchor="middle">Network_Traffic (kB)</text><text x="243.51" y="514.52" text-anchor="middle">2</text><text x="260.96" y="514.52" text-anchor="middle">4</text><text x="278.41" y="514.52" text-anchor="middle">6</text><text x="265.15" y="518.85" text-anchor="middle">Number_of_Encrypted_Extensions</text><text x="304.12" y="514.52" text-anchor="middle">5.0</text><text x="315.73" y="514.52" text-anchor="middle">7.5</text><text x="327.35" y="514.52" text-anchor="middle">10.0</text><text x="338.96" y="514.52" text-anchor="middle">12.5</text><text x="319.45" y="518.85" text-anchor="middle">Time_to_Encrypt (seconds)</text><text x="351.4" y="514.52" text-anchor="middle">0</text><text x="369.4" y="514.52" text-anchor="middle">2</text><text x="387.41" y="514.52" text-anchor="middle">4</text><text x="373.75" y="518.85" text-anchor="middle">Number_of_Shared_Folders</text><text x="412.03" y="514.52" text-anchor="middle">60</text><text x="433.53" y="514.52" text-anchor="middle">80</text><text x="428.05" y="518.85" text-anchor="middle">CPU_Usage (%)</text><text x="472.19" y="514.52" text-anchor="middle">0</text><text x="492.31" y="514.52" text-anchor="middle">1</text><text x="482.35" y="518.85" text-anchor="middle">Suspicious_Activity</text><text x="272.6" y="7.15" text-anchor="middle" style="font-size:3.8px">Pair Plots of Ransomware Data</text><text x="513.59" y="253.04">Ransomware_Type</text><text x="522.21" y="257.77">WannaCry</text><text x="522.21" y="262.42">Locky</text><text x="522.21" y="267.06">CryptoLocker</text><text x="522.21" y="271.71">Ryuk</text><circle cx="516.51" cy="256.66" r="0.95" fill="#e41a1c" stroke="#fff" stroke-width="0.152"/><circle cx="516.51" cy="261.31" r="0.95" fill="#377eb8" stroke="#fff" stroke-width="0.152"/><circle cx="516.51" cy="265.96" r="0.95" fill="#4daf4a" stroke="#fff" stroke-width="0.152"/><circle cx="516.51" cy="270.6" r="0.95" fill="#984ea3" stroke="#fff" stroke-width="0.152"/></svg></body></html>
